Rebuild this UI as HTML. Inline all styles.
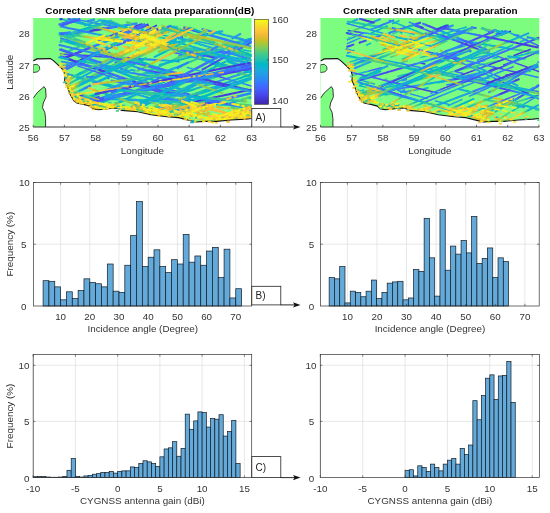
<!DOCTYPE html><html><head><meta charset="utf-8"><title>Figure</title><style>html,body{margin:0;padding:0;background:#fff}svg{display:block}text{font-family:"Liberation Sans",Arial,sans-serif}</style></head><body>
<svg width="550" height="513" viewBox="0 0 550 513">
<rect width="550" height="513" fill="#fff"/>
<defs><linearGradient id="par" x1="0" y1="1" x2="0" y2="0">
<stop offset="0.000" stop-color="#3d26a8"/>
<stop offset="0.048" stop-color="#4332ca"/>
<stop offset="0.095" stop-color="#4641e5"/>
<stop offset="0.143" stop-color="#4752f4"/>
<stop offset="0.190" stop-color="#4463fc"/>
<stop offset="0.238" stop-color="#3875fe"/>
<stop offset="0.286" stop-color="#2d86f6"/>
<stop offset="0.333" stop-color="#2796eb"/>
<stop offset="0.381" stop-color="#1fa4e2"/>
<stop offset="0.429" stop-color="#11b1d6"/>
<stop offset="0.476" stop-color="#01bac3"/>
<stop offset="0.524" stop-color="#23c1ae"/>
<stop offset="0.571" stop-color="#37c797"/>
<stop offset="0.619" stop-color="#56cc7a"/>
<stop offset="0.667" stop-color="#80cb58"/>
<stop offset="0.714" stop-color="#abc638"/>
<stop offset="0.762" stop-color="#d1bf27"/>
<stop offset="0.810" stop-color="#efb935"/>
<stop offset="0.857" stop-color="#fec338"/>
<stop offset="0.905" stop-color="#f9d52d"/>
<stop offset="0.952" stop-color="#f4e824"/>
<stop offset="1.000" stop-color="#f9fa14"/>
<stop offset="1" stop-color="#f9fa14"/>
</linearGradient></defs>
<g>
<rect x="33.2" y="18.0" width="218.4" height="109.0" fill="#7dfd80"/>
<clipPath id="clip1"><rect x="33.2" y="17.5" width="218.4" height="109.5"/></clipPath>
<g clip-path="url(#clip1)">
<g transform="translate(0.0,0)" fill="none" stroke-linecap="butt">
<path d="M242.0 69.2L244.9 70.0M244.6 69.9L247.5 70.6M247.1 70.5L250.0 71.2M249.6 71.1L252.5 71.8" stroke="#463bde" stroke-width="1.5"/>
<path d="M126.8 58.3L129.6 57.2M136.3 83.8L139.0 82.7M138.7 82.9L141.4 81.7M163.0 87.1L165.9 86.4M165.5 86.5L168.5 85.9M168.1 86.0L171.0 85.3" stroke="#474cf0" stroke-width="2.0"/>
<path d="M204.2 59.9L207.1 60.6M206.7 60.6L209.6 61.3M209.2 61.2L212.1 61.9M211.7 61.8L214.6 62.5M214.3 62.4L217.2 63.1M234.5 67.4L237.4 68.1M237.0 68.0L239.9 68.7M239.5 68.6L242.4 69.3" stroke="#474cf0" stroke-width="1.5"/>
<path d="M98.4 75.7L101.2 74.6M100.8 74.7L103.6 73.6" stroke="#474cf0" stroke-width="2.5"/>
<path d="M114.7 62.9L117.4 61.8M129.2 57.3L132.0 56.3M177.8 38.7L180.6 37.6M180.2 37.8L183.0 36.7M131.4 85.8L134.2 84.7M133.8 84.8L136.6 83.7M141.1 81.9L143.8 80.7M143.5 80.9L146.2 79.8M94.4 102.0L97.3 101.4M97.0 101.4L99.9 100.8M160.5 87.6L163.4 87.0" stroke="#465dfa" stroke-width="2.0"/>
<path d="M173.9 52.5L176.8 53.2M176.4 53.1L179.3 53.8M178.9 53.7L181.8 54.4M181.4 54.3L184.3 55.1M184.0 55.0L186.9 55.7M186.5 55.6L189.4 56.3M194.1 57.4L197.0 58.2M196.6 58.1L199.5 58.8M199.1 58.7L202.0 59.4M201.6 59.3L204.5 60.0M216.8 63.0L219.7 63.7M219.3 63.7L222.2 64.4M221.8 64.3L224.7 65.0M224.4 64.9L227.3 65.6M229.4 66.1L232.3 66.9M231.9 66.8L234.8 67.5" stroke="#465dfa" stroke-width="1.5"/>
<path d="M93.5 77.6L96.3 76.5M96.0 76.6L98.7 75.5" stroke="#465dfa" stroke-width="2.5"/>
<path d="M131.6 56.4L134.4 55.3M134.1 55.5L136.9 54.4M171.1 35.6L173.9 36.5M223.4 51.3L226.2 52.1M225.9 52.0L228.7 52.9M228.4 52.8L231.2 53.6M230.8 53.5L233.7 54.4M233.3 54.2L236.2 55.1M163.2 99.3L166.0 98.4M165.6 98.5L168.5 97.6M92.3 102.7L95.2 103.4M94.8 103.3L97.7 103.9M145.9 79.9L148.6 78.8M99.5 100.9L102.4 100.3M102.0 100.3L105.0 99.7M170.6 85.4L173.5 84.8" stroke="#3e6ffe" stroke-width="2.0"/>
<path d="M189.0 56.2L191.9 56.9M191.5 56.8L194.4 57.5M226.9 65.5L229.8 66.2" stroke="#3e6ffe" stroke-width="1.5"/>
<path d="M123.9 88.5L126.8 89.2M126.4 89.2L129.3 89.9M128.9 89.8L131.8 90.5M88.7 79.5L91.5 78.4M91.1 78.5L93.9 77.4M110.5 70.9L113.2 69.8M112.9 69.9L115.7 68.8" stroke="#3e6ffe" stroke-width="2.5"/>
<path d="M165.6 43.4L168.4 42.3M168.1 42.4L170.9 41.4M170.5 41.5L173.3 40.4M66.0 73.5L68.9 74.3M125.9 91.1L128.7 91.9M128.4 91.8L131.2 92.7M130.9 92.6L133.7 93.4M173.6 36.4L176.4 37.2M176.0 37.1L178.9 38.0M218.4 49.8L221.3 50.6M220.9 50.5L223.7 51.4M235.8 55.0L238.7 55.8M238.3 55.7L241.2 56.6M240.8 56.5L243.7 57.3M243.3 57.2L246.2 58.1M245.8 58.0L248.7 58.8M248.3 58.7L251.1 59.6M168.1 97.7L171.0 96.8M178.2 56.4L181.1 55.7M236.3 42.4L239.2 41.7M97.3 103.8L100.2 104.5M100.1 98.6L102.9 97.5M102.6 97.6L105.3 96.5M105.0 96.6L107.7 95.5M129.0 86.8L131.8 85.7M148.3 78.9L151.1 77.8M208.5 54.4L211.2 53.2M210.9 53.4L213.6 52.3M91.9 102.5L94.8 101.9M104.6 99.8L107.5 99.1M107.1 99.2L110.0 98.6M109.7 98.7L112.6 98.0M157.9 88.2L160.8 87.5M173.2 84.9L176.1 84.2" stroke="#2e81f9" stroke-width="2.0"/>
<path d="M121.4 87.9L124.3 88.6M131.5 90.4L134.4 91.1M134.0 91.0L136.9 91.7M136.5 91.6L139.4 92.3M139.0 92.2L142.0 92.9M86.3 80.5L89.1 79.4M115.3 69.0L118.1 67.9M117.7 68.0L120.5 66.9M120.1 67.0L122.9 65.9M122.5 66.1L125.3 65.0M125.0 65.1L127.7 64.0" stroke="#2e81f9" stroke-width="2.5"/>
<path d="M95.1 23.0L98.1 23.5M97.7 23.4L100.6 24.0M100.2 23.9L103.2 24.4M102.8 24.4L105.7 24.9M105.4 24.8L108.3 25.4M107.9 25.3L110.9 25.8" stroke="#2e81f9" stroke-width="1.5"/>
<path d="M158.4 46.2L161.1 45.1M160.8 45.2L163.6 44.2M163.2 44.3L166.0 43.2M78.5 77.2L81.3 78.0M81.0 77.9L83.8 78.7M83.5 78.6L86.3 79.5M86.0 79.4L88.8 80.2M88.5 80.1L91.3 80.9M90.9 80.8L93.8 81.7M93.4 81.6L96.3 82.4M95.9 82.3L98.8 83.1M98.4 83.0L101.3 83.9M123.4 90.4L126.2 91.2M133.4 93.3L136.2 94.1M158.3 100.6L161.2 101.5M160.8 101.4L163.7 102.2M163.3 102.1L166.2 103.0M178.5 37.9L181.4 38.7M213.4 48.3L216.3 49.1M215.9 49.0L218.8 49.9M170.6 96.9L173.4 96.0M173.1 96.1L175.9 95.2M202.7 86.4L205.6 85.5M205.2 85.6L208.0 84.7M207.7 84.8L210.5 83.9M210.1 84.0L213.0 83.1M212.6 83.2L215.5 82.3M215.1 82.4L217.9 81.5M217.6 81.6L220.4 80.7M220.0 80.8L222.9 79.9M222.5 80.0L225.3 79.1M225.0 79.2L227.8 78.3M227.5 78.4L230.3 77.5M229.9 77.6L232.8 76.7M232.4 76.8L235.2 75.9M234.9 76.0L237.7 75.1M237.3 75.2L240.2 74.3M239.8 74.4L242.7 73.5M242.3 73.6L245.1 72.6M244.8 72.8L247.6 71.8M247.2 72.0L250.1 71.0M172.1 102.4L175.0 101.5M174.6 101.7L177.5 100.8M180.7 55.8L183.6 55.1M233.8 43.0L236.7 42.3M238.8 41.8L241.8 41.1M89.7 102.1L92.6 102.8M99.9 104.4L102.8 105.0M107.4 95.6L110.1 94.5M126.6 87.8L129.4 86.6M150.7 77.9L153.5 76.8M153.1 77.0L155.9 75.8M155.5 76.0L158.3 74.9M157.9 75.0L160.7 73.9M160.3 74.0L163.1 72.9M206.1 55.3L208.8 54.2M213.3 52.4L216.0 51.3M112.2 98.1L115.1 97.5M114.7 97.6L117.7 96.9M117.3 97.0L120.2 96.4M155.4 88.7L158.3 88.1" stroke="#2b91ee" stroke-width="2.0"/>
<path d="M232.2 59.6L235.2 60.3M234.8 60.2L237.7 60.8M237.3 60.7L240.2 61.4M239.9 61.3L242.8 61.9M98.6 82.5L101.5 83.2M101.1 83.1L104.0 83.8M118.8 87.3L121.7 88.0M87.0 21.6L89.9 20.8M89.5 20.9L92.4 20.1M92.0 20.2L94.9 19.4M81.5 82.4L84.2 81.3M83.9 81.4L86.7 80.3M127.4 64.2L130.2 63.1M129.8 63.2L132.6 62.1" stroke="#2b91ee" stroke-width="2.5"/>
<path d="M84.3 25.7L87.1 24.7M86.7 24.9L89.6 23.9M72.1 18.8L75.1 19.3M74.7 19.2L77.6 19.8M77.2 19.7L80.2 20.2M79.8 20.2L82.7 20.7M82.3 20.6L85.3 21.2M84.9 21.1L87.8 21.6M87.5 21.6L90.4 22.1M90.0 22.0L93.0 22.6M92.6 22.5L95.5 23.0M110.5 25.8L113.4 26.3M113.0 26.2L116.0 26.8M210.2 43.9L213.2 44.5" stroke="#2b91ee" stroke-width="1.5"/>
<path d="M217.0 56.4L219.9 57.0M219.5 56.9L222.4 57.5M222.1 57.5L225.0 58.1M224.6 58.0L227.5 58.6M227.1 58.6L230.1 59.2M229.7 59.1L232.6 59.7M242.4 61.8L245.3 62.4M96.1 81.9L99.0 82.6M103.7 83.7L106.6 84.4M141.6 92.8L144.5 93.5M93.6 77.7L96.3 76.3M95.9 76.5L98.6 75.1M98.2 75.3L100.9 73.9M176.5 34.2L179.1 32.8M178.8 33.0L181.4 31.6M79.0 83.3L81.8 82.2M132.2 62.3L135.0 61.2" stroke="#1fa4e2" stroke-width="2.5"/>
<path d="M68.5 74.2L71.4 75.1M76.0 76.4L78.9 77.3M135.8 94.0L138.7 94.9M138.3 94.8L141.2 95.6M140.8 95.5L143.7 96.3M143.3 96.2L146.2 97.1M145.8 97.0L148.7 97.8M148.3 97.7L151.2 98.6M150.8 98.4L153.7 99.3M153.3 99.2L156.2 100.0M155.8 99.9L158.7 100.8M165.8 102.8L168.6 103.7M181.0 38.6L183.9 39.5M203.4 45.3L206.3 46.2M205.9 46.1L208.8 46.9M208.4 46.8L211.3 47.7M210.9 47.5L213.8 48.4M175.5 95.3L178.4 94.4M197.8 88.0L200.6 87.1M200.3 87.2L203.1 86.3M173.4 27.7L176.2 28.8M175.8 28.6L178.6 29.7M178.2 29.6L181.0 30.7M180.6 30.5L183.4 31.6M183.1 31.5L185.8 32.6M185.5 32.4L188.3 33.5M187.9 33.4L190.7 34.5M190.3 34.3L193.1 35.4M192.7 35.3L195.5 36.4M195.2 36.2L197.9 37.3M197.6 37.2L200.4 38.3M169.7 103.2L172.5 102.3M177.1 100.9L180.0 100.0M214.3 89.1L217.1 88.2M216.8 88.3L219.6 87.4M219.2 87.5L222.1 86.6M221.7 86.8L224.6 85.9M224.2 86.0L227.0 85.1M226.7 85.2L229.5 84.3M229.2 84.4L232.0 83.5M231.6 83.6L234.5 82.7M234.1 82.8L237.0 81.9M183.2 55.2L186.2 54.5M231.3 43.6L234.2 42.9M241.4 41.1L244.3 40.4M77.0 99.3L79.9 100.0M79.6 99.9L82.5 100.5M82.1 100.4L85.0 101.1M87.2 101.6L90.1 102.2M102.4 105.0L105.3 105.6M109.8 94.7L112.5 93.5M124.2 88.8L127.0 87.6M162.7 73.0L165.5 71.9M165.1 72.1L167.9 70.9M167.5 71.1L170.3 69.9M170.0 70.1L172.7 69.0M172.4 69.1L175.1 68.0M174.8 68.1L177.5 67.0M177.2 67.1L179.9 66.0M203.7 56.3L206.4 55.2M215.7 51.4L218.5 50.3M218.1 50.4L220.9 49.3M119.8 96.5L122.7 95.8M122.4 95.9L125.3 95.3M124.9 95.4L127.8 94.7M127.4 94.8L130.4 94.2M130.0 94.3L132.9 93.6M132.5 93.7L135.4 93.1M135.1 93.2L138.0 92.5M137.6 92.6L140.5 92.0M140.1 92.0L143.1 91.4M142.7 91.5L145.6 90.9M145.2 90.9L148.1 90.3M147.8 90.4L150.7 89.8M150.3 89.8L153.2 89.2M152.8 89.3L155.8 88.6M175.7 84.3L178.6 83.7M178.2 83.8L181.2 83.1M180.8 83.2L183.7 82.6M183.3 82.6L186.3 82.0M185.9 82.1L188.8 81.5M188.4 81.5L191.3 80.9M191.0 81.0L193.9 80.4" stroke="#1fa4e2" stroke-width="2.0"/>
<path d="M89.2 24.1L92.0 23.1M91.7 23.2L94.5 22.3M94.1 22.4L97.0 21.5M245.3 66.8L248.2 65.8M247.8 65.9L250.6 64.9M98.5 19.8L101.3 20.9M101.0 20.8L103.7 21.9M103.4 21.7L106.2 22.8M105.8 22.7L108.6 23.8M108.2 23.7L111.0 24.8M115.6 26.7L118.5 27.2M189.8 40.2L192.7 40.7M192.3 40.7L195.3 41.2M194.9 41.1L197.8 41.7M197.4 41.6L200.4 42.1M200.0 42.1L202.9 42.6M202.6 42.5L205.5 43.1M205.1 43.0L208.1 43.5M207.7 43.5L210.6 44.0M212.8 44.4L215.7 44.9M215.4 44.9L218.3 45.4M217.9 45.3L220.9 45.9" stroke="#1fa4e2" stroke-width="1.5"/>
<path d="M206.8 54.2L209.7 54.8M209.3 54.7L212.3 55.4M211.9 55.3L214.8 55.9M214.4 55.8L217.4 56.5M244.9 62.4L247.9 63.0M247.5 62.9L250.4 63.5M250.0 63.4L253.0 64.1M73.3 76.4L76.2 77.1M75.8 77.0L78.8 77.7M93.5 81.3L96.5 82.0M106.2 84.3L109.1 85.0M116.3 86.7L119.2 87.4M144.1 93.4L147.0 94.1M89.0 80.1L91.6 78.7M91.3 78.9L93.9 77.5M100.5 74.1L103.2 72.7M102.8 72.9L105.5 71.5M174.2 35.4L176.8 34.0M181.1 31.8L183.7 30.4" stroke="#11b1d6" stroke-width="2.5"/>
<path d="M71.0 75.0L73.9 75.8M73.5 75.7L76.4 76.5M100.9 83.8L103.8 84.6M120.9 89.6L123.7 90.5M183.5 39.3L186.4 40.2M198.5 43.8L201.3 44.7M201.0 44.6L203.8 45.4M178.0 94.5L180.8 93.5M195.3 88.8L198.2 87.9M168.5 25.8L171.3 26.9M171.0 26.7L173.7 27.8M200.0 38.1L202.8 39.2M167.2 104.0L170.0 103.1M179.6 100.1L182.4 99.2M209.3 90.7L212.2 89.8M211.8 89.9L214.7 89.0M236.6 82.0L239.4 81.1M239.1 81.3L241.9 80.4M241.5 80.5L244.4 79.6M243.9 40.5L246.8 39.8M246.4 39.9L249.3 39.2M74.5 98.8L77.4 99.4M84.6 101.0L87.6 101.7M104.9 105.5L107.9 106.2M112.2 93.7L114.9 92.5M114.6 92.7L117.4 91.6M121.8 89.7L124.6 88.6M179.6 66.2L182.3 65.0M201.2 57.3L204.0 56.2" stroke="#11b1d6" stroke-width="2.0"/>
<path d="M96.6 21.6L99.5 20.7M99.1 20.8L101.9 19.9M240.4 68.5L243.2 67.5M242.9 67.7L245.7 66.7M110.6 24.6L113.4 25.7M118.2 27.2L121.1 27.7M171.9 37.0L174.8 37.5M174.4 37.4L177.4 38.0M177.0 37.9L179.9 38.4M179.5 38.3L182.5 38.9M182.1 38.8L185.0 39.4M184.7 39.3L187.6 39.8M187.2 39.7L190.2 40.3M220.5 45.8L223.4 46.3M246.0 50.5L249.0 51.0M248.6 50.9L251.5 51.5" stroke="#11b1d6" stroke-width="1.5"/>
<path d="M168.7 46.0L171.6 46.7M171.2 46.6L174.1 47.2M173.8 47.1L176.7 47.7M191.6 50.9L194.5 51.6M194.1 51.5L197.0 52.1M196.6 52.0L199.6 52.6M199.2 52.6L202.1 53.2M201.7 53.1L204.6 53.7M204.3 53.7L207.2 54.3M79.7 74.0L82.4 72.7M82.1 72.9L84.8 71.6M68.3 75.2L71.2 75.9M70.8 75.8L73.7 76.5M78.4 77.6L81.3 78.3M108.7 84.9L111.6 85.6M113.8 86.1L116.7 86.8M184.6 103.1L187.5 103.8M113.3 65.5L115.9 64.1M115.6 64.3L118.3 62.9M117.9 63.1L120.6 61.7M84.4 82.5L87.0 81.1M86.7 81.3L89.3 79.9M105.1 71.7L107.8 70.3M107.4 70.4L110.1 69.1M109.7 69.2L112.4 67.9M112.0 68.0L114.7 66.6M114.3 66.8L117.0 65.4M116.6 65.6L119.3 64.2M118.9 64.4L121.6 63.0M121.2 63.2L123.9 61.8M123.5 62.0L126.2 60.6M171.9 36.6L174.5 35.2M183.4 30.6L186.0 29.2M76.6 84.3L79.4 83.2M215.4 63.6L218.1 64.6M217.8 64.5L220.6 65.6M220.2 65.4L223.0 66.5" stroke="#01bac3" stroke-width="2.5"/>
<path d="M103.4 84.5L106.3 85.3M105.9 85.2L108.8 86.1M108.4 86.0L111.3 86.8M110.9 86.7L113.8 87.5M113.4 87.4L116.3 88.3M115.9 88.2L118.8 89.0M118.4 88.9L121.3 89.7M168.3 103.6L171.1 104.4M186.0 40.1L188.9 41.0M188.5 40.8L191.4 41.7M191.0 41.6L193.9 42.4M193.5 42.3L196.3 43.2M196.0 43.1L198.8 43.9M180.5 93.7L183.3 92.7M182.9 92.9L185.8 91.9M187.9 91.3L190.7 90.3M190.4 90.5L193.2 89.5M192.8 89.7L195.7 88.7M202.4 39.1L205.2 40.2M233.9 51.4L236.7 52.5M236.3 52.4L239.1 53.5M164.7 104.8L167.6 103.9M182.1 99.3L184.9 98.4M199.4 93.8L202.3 92.9M201.9 93.0L204.7 92.1M204.4 92.2L207.2 91.3M206.8 91.5L209.7 90.6M244.0 79.7L246.9 78.8M246.5 78.9L249.4 78.0M249.0 78.1L251.8 77.2M185.8 54.6L188.7 53.9M228.7 44.2L231.6 43.5M249.0 39.3L251.9 38.6M107.5 106.1L110.4 106.7M110.0 106.6L112.9 107.3M117.0 91.7L119.8 90.6M119.4 90.7L122.2 89.6M182.0 65.2L184.8 64.0M184.4 64.2L187.2 63.1M198.8 58.3L201.6 57.2" stroke="#01bac3" stroke-width="2.0"/>
<path d="M235.5 70.2L238.3 69.3M238.0 69.4L240.8 68.4M120.7 27.6L123.7 28.2M161.6 35.1L164.6 35.6M164.2 35.6L167.1 36.1M166.8 36.0L169.7 36.6M169.3 36.5L172.3 37.0M223.0 46.3L226.0 46.8M225.6 46.7L228.5 47.3M243.5 50.0L246.4 50.5" stroke="#01bac3" stroke-width="1.5"/>
<path d="M163.6 44.9L166.5 45.6M166.1 45.5L169.1 46.1M176.3 47.7L179.2 48.3M178.8 48.2L181.8 48.8M183.9 49.3L186.8 49.9M186.5 49.8L189.4 50.5M189.0 50.4L191.9 51.0M77.4 75.2L80.1 73.9M84.4 71.8L87.1 70.4M86.7 70.6L89.4 69.3M65.7 74.6L68.6 75.3M80.9 78.2L83.8 78.9M91.0 80.7L93.9 81.3M111.2 85.5L114.1 86.2M146.6 94.0L149.5 94.7M154.2 95.8L157.1 96.5M156.7 96.4L159.7 97.1M159.3 97.0L162.2 97.7M161.8 97.7L164.7 98.4M164.3 98.3L167.2 99.0M166.9 98.9L169.8 99.6M179.5 101.9L182.4 102.6M182.0 102.5L184.9 103.2M187.1 103.7L190.0 104.4M111.0 66.6L113.6 65.3M79.8 85.0L82.4 83.6M82.1 83.7L84.7 82.4M125.8 60.8L128.5 59.4M185.7 29.4L188.3 28.0M210.5 61.7L213.3 62.8M212.9 62.6L215.7 63.7M222.6 66.4L225.4 67.4M225.1 67.3L227.8 68.4M227.5 68.2L230.3 69.3M229.9 69.2L232.7 70.3M232.3 70.1L235.1 71.2" stroke="#23c1ae" stroke-width="2.5"/>
<path d="M218.2 33.1L221.1 33.8M238.4 37.9L241.3 38.6M241.0 38.5L243.9 39.2M149.7 100.5L152.5 99.5M152.2 99.7L155.0 98.7M154.6 98.8L157.4 97.8M157.1 97.9L159.9 96.9M159.5 97.1L162.3 96.1M162.0 96.2L164.8 95.2M164.4 95.3L167.2 94.4M166.9 94.5L169.7 93.5M203.7 81.5L206.5 80.5M206.1 80.6L208.9 79.6M208.6 79.8L211.4 78.8M211.0 78.9L213.8 77.9M213.5 78.0L216.3 77.0M215.9 77.2L218.7 76.2M218.4 76.3L221.2 75.3M220.8 75.4L223.6 74.4M223.3 74.6L226.1 73.6M225.7 73.7L228.5 72.7M228.2 72.8L231.0 71.8M230.6 72.0L233.4 71.0M233.1 71.1L235.9 70.1M113.0 25.6L115.8 26.7M123.3 28.1L126.2 28.6M125.8 28.6L128.8 29.1M154.0 33.7L156.9 34.2M156.5 34.2L159.5 34.7M159.1 34.6L162.0 35.2M228.1 47.2L231.1 47.7M230.7 47.7L233.6 48.2M233.3 48.1L236.2 48.7M235.8 48.6L238.8 49.1M238.4 49.1L241.3 49.6M240.9 49.5L243.9 50.1" stroke="#23c1ae" stroke-width="1.5"/>
<path d="M185.4 92.1L188.3 91.1M226.6 48.6L229.4 49.7M229.0 49.5L231.8 50.6M231.5 50.5L234.2 51.6M105.1 91.1L107.8 89.9M107.5 90.0L110.2 88.8M109.8 89.0L112.6 87.7M112.2 87.9L114.9 86.6M150.0 70.6L152.8 69.4M152.4 69.5L155.1 68.3M154.8 68.5L157.5 67.2M157.1 67.4L159.9 66.1M159.5 66.3L162.2 65.0M161.9 65.2L164.6 64.0M164.2 64.1L167.0 62.9M166.6 63.1L169.3 61.8M169.0 62.0L171.7 60.7M171.3 60.9L174.0 59.7M162.2 105.6L165.1 104.7M184.5 98.5L187.4 97.6M187.0 97.7L189.9 96.8M189.5 97.0L192.3 96.1M192.0 96.2L194.8 95.3M194.5 95.4L197.3 94.5M196.9 94.6L199.8 93.7M88.2 78.4L90.8 77.0M90.5 77.2L93.2 75.8M92.8 76.0L95.5 74.7M95.1 74.8L97.8 73.5M97.4 73.6L100.1 72.3M99.7 72.5L102.4 71.1M203.5 50.3L206.4 49.6M206.0 49.7L208.9 49.0M208.5 49.1L211.4 48.4M247.7 54.5L250.5 55.5M250.1 55.4L253.0 56.3M69.3 51.0L72.1 49.7M71.7 49.9L74.4 48.7M74.1 48.8L76.8 47.6M71.9 98.2L74.9 98.8M186.8 63.2L189.6 62.1M189.2 62.2L192.0 61.1M196.4 59.3L199.2 58.1M89.3 103.1L92.3 102.5" stroke="#23c1ae" stroke-width="2.0"/>
<path d="M161.0 44.4L164.0 45.0M181.4 48.8L184.3 49.4M75.1 76.3L77.8 75.0M89.1 69.5L91.8 68.2M91.4 68.3L94.1 67.0M83.4 78.8L86.3 79.5M149.2 94.6L152.1 95.3M151.7 95.2L154.6 95.9M169.4 99.5L172.3 100.2M171.9 100.1L174.8 100.8M174.4 100.7L177.3 101.4M177.0 101.3L179.9 102.0M189.6 104.3L192.5 105.0M80.8 82.0L83.5 80.6M83.2 80.8L85.8 79.4M106.3 69.0L109.0 67.6M108.6 67.8L111.3 66.5M120.2 61.9L122.9 60.6M77.5 86.2L80.1 84.8M128.1 59.6L130.8 58.2M69.4 87.2L72.1 86.1M71.8 86.2L74.6 85.1M74.2 85.2L77.0 84.1M103.8 20.5L106.6 21.6M106.2 21.4L109.0 22.5M108.6 22.4L111.4 23.4M111.1 23.3L113.8 24.4M113.5 24.2L116.3 25.3M115.9 25.2L118.7 26.2M118.3 26.1L121.1 27.2M120.8 27.0L123.5 28.1M176.5 48.6L179.3 49.7M179.0 49.5L181.8 50.6M205.7 59.8L208.4 60.9M208.1 60.8L210.9 61.8M234.8 71.0L237.5 72.1M237.2 72.0L240.0 73.1M239.6 72.9L242.4 74.0M246.9 75.7L249.7 76.8M249.3 76.7L252.1 77.7" stroke="#37c797" stroke-width="2.5"/>
<path d="M170.8 104.3L173.6 105.2M204.8 40.0L207.6 41.1M221.8 46.7L224.6 47.8M224.2 47.6L227.0 48.7M88.5 98.7L91.3 97.4M90.9 97.6L93.6 96.4M93.3 96.5L96.0 95.3M95.6 95.4L98.4 94.2M98.0 94.4L100.7 93.1M100.4 93.3L103.1 92.0M102.7 92.2L105.5 91.0M114.6 86.8L117.3 85.6M116.9 85.7L119.7 84.5M119.3 84.6L122.0 83.4M140.6 74.9L143.3 73.7M142.9 73.9L145.7 72.6M145.3 72.8L148.0 71.5M147.7 71.7L150.4 70.4M173.7 59.8L176.4 58.6M176.1 58.7L178.8 57.5M178.4 57.7L181.1 56.4M180.8 56.6L183.5 55.3M183.2 55.5L185.9 54.3M185.5 54.4L188.2 53.2M187.9 53.3L190.6 52.1M190.3 52.3L193.0 51.0M159.7 106.4L162.6 105.5M85.9 79.6L88.5 78.2M106.7 68.9L109.3 67.5M109.0 67.7L111.6 66.3M188.3 54.0L191.2 53.3M200.9 50.9L203.8 50.2M211.0 48.5L214.0 47.8M213.6 47.9L216.5 47.2M226.2 44.8L229.1 44.1M245.2 53.7L248.1 54.7M67.0 52.0L69.7 50.8M76.5 47.8L79.2 46.5M112.6 107.2L115.5 107.9M120.2 108.9L123.1 109.5M191.6 61.2L194.4 60.1M194.0 60.3L196.8 59.1" stroke="#37c797" stroke-width="2.0"/>
<path d="M213.2 31.9L216.1 32.6M215.7 32.5L218.6 33.2M233.4 36.7L236.3 37.4M235.9 37.3L238.8 38.0M142.4 103.1L145.2 102.1M144.8 102.3L147.6 101.3M147.3 101.4L150.1 100.4M169.3 93.6L172.1 92.6M171.8 92.8L174.6 91.8M191.4 85.8L194.2 84.8M193.8 85.0L196.7 84.0M196.3 84.1L199.1 83.1M198.8 83.2L201.6 82.2M201.2 82.4L204.0 81.4M128.4 29.0L131.3 29.6M146.3 32.3L149.2 32.8M148.8 32.8L151.8 33.3M151.4 33.2L154.3 33.8" stroke="#37c797" stroke-width="1.5"/>
<path d="M112.7 34.1L115.7 34.7M115.3 34.6L118.2 35.2M138.2 39.5L141.1 40.1M140.7 40.0L143.6 40.7M143.2 40.6L146.2 41.2M145.8 41.1L148.7 41.8M158.5 43.9L161.4 44.5M72.7 77.5L75.4 76.1M93.8 67.2L96.4 65.9M96.1 66.0L98.8 64.7M98.4 64.9L101.1 63.6M100.8 63.8L103.4 62.4M103.1 62.6L105.8 61.3M105.4 61.5L108.1 60.2M107.8 60.3L110.5 59.0M110.1 59.2L112.8 57.9M112.4 58.1L115.1 56.7M86.0 79.4L88.9 80.1M88.5 80.0L91.4 80.7M192.1 104.9L195.0 105.6M78.5 83.2L81.2 81.8M85.5 79.6L88.1 78.3M87.8 78.4L90.5 77.1M90.1 77.3L92.8 75.9M92.4 76.1L95.1 74.7M94.7 74.9L97.4 73.5M97.1 73.7L99.7 72.4M99.4 72.5L102.0 71.2M101.7 71.4L104.4 70.0M104.0 70.2L106.7 68.8M169.6 37.8L172.2 36.4M123.2 28.0L126.0 29.1M174.1 47.6L176.9 48.7M181.4 50.5L184.2 51.5M200.8 57.9L203.6 59.0M203.2 58.9L206.0 60.0M242.0 73.9L244.8 74.9M244.5 74.8L247.3 75.9" stroke="#56cc7a" stroke-width="2.5"/>
<path d="M63.5 72.8L66.4 73.6M173.3 105.0L176.1 105.9M207.3 41.0L210.0 42.1M216.9 44.8L219.7 45.9M219.4 45.7L222.1 46.8M121.7 83.6L124.4 82.3M124.0 82.5L126.7 81.2M126.4 81.4L129.1 80.2M128.8 80.3L131.5 79.1M133.5 78.2L136.2 76.9M135.9 77.1L138.6 75.8M138.2 76.0L140.9 74.8M192.6 51.2L195.3 49.9M152.3 108.7L155.2 107.8M154.8 107.9L157.6 107.0M157.3 107.2L160.1 106.3M111.3 66.5L114.0 65.1M113.6 65.3L116.3 63.9M115.9 64.1L118.6 62.7M118.2 62.9L120.9 61.6M190.8 53.4L193.7 52.7M195.9 52.1L198.8 51.4M198.4 51.5L201.3 50.8M216.1 47.3L219.0 46.6M223.7 45.4L226.6 44.7M200.9 38.7L203.7 39.7M203.3 39.6L206.2 40.5M205.8 40.4L208.6 41.3M208.3 41.2L211.1 42.2M210.7 42.1L213.6 43.0M240.3 52.0L243.1 53.0M242.8 52.9L245.6 53.8M64.6 53.1L67.3 51.9M78.8 46.7L81.6 45.5M115.1 107.8L118.0 108.4M117.6 108.3L120.6 109.0M122.7 109.5L125.6 110.1" stroke="#56cc7a" stroke-width="2.0"/>
<path d="M210.6 31.2L213.5 31.9M228.3 35.5L231.2 36.2M230.9 36.1L233.8 36.8M137.5 104.9L140.3 103.9M139.9 104.0L142.7 103.0M174.2 91.9L177.1 90.9M176.7 91.0L179.5 90.0M179.1 90.2L182.0 89.2M181.6 89.3L184.4 88.3M184.0 88.4L186.9 87.4M186.5 87.6L189.3 86.6M188.9 86.7L191.8 85.7M115.5 26.5L118.2 27.7M130.9 29.5L133.9 30.0M133.5 30.0L136.4 30.5M136.1 30.4L139.0 31.0M138.6 30.9L141.6 31.4M141.2 31.4L144.1 31.9M143.7 31.8L146.7 32.4" stroke="#56cc7a" stroke-width="1.5"/>
<path d="M156.0 43.3L158.9 43.9M194.7 105.5L197.6 106.2M122.5 60.7L125.2 59.4M75.2 87.4L77.8 86.0M130.4 58.4L133.1 57.0" stroke="#8fca4d" stroke-width="2.5"/>
<path d="M175.8 105.8L178.6 106.6M209.7 41.9L212.5 43.0M212.1 42.9L214.9 44.0M131.1 79.2L133.8 78.0M218.6 46.6L221.5 45.9M166.4 27.1L169.2 28.0M196.0 37.1L198.8 38.0M213.2 42.9L216.0 43.8M237.8 51.2L240.7 52.2M125.3 110.0L128.2 110.7M127.8 110.6L130.7 111.2M130.3 111.2L133.2 111.8M135.4 112.3L138.3 112.9M137.9 112.8L140.9 113.5M143.0 114.0L145.9 114.6M145.6 114.5L148.5 115.2M150.6 115.7L153.6 116.3M153.2 116.2L156.1 116.9M86.8 103.7L89.7 103.0" stroke="#8fca4d" stroke-width="2.0"/>
<path d="M208.1 30.6L211.0 31.3" stroke="#8fca4d" stroke-width="1.5"/>
<path d="M178.3 106.5L181.1 107.4M203.2 113.8L206.1 114.7M125.2 59.3L127.8 58.0M191.0 35.4L193.9 36.3M215.7 43.7L218.5 44.7M81.2 45.6L83.9 44.4M93.1 109.0L96.0 109.7M95.7 109.6L98.6 110.3M98.2 110.2L101.1 110.9" stroke="#b8c430" stroke-width="2.0"/>
<path d="M205.6 30.0L208.5 30.7M135.0 105.7L137.8 104.7" stroke="#b8c430" stroke-width="1.5"/>
<path d="M117.1 55.8L119.8 54.5M202.3 107.4L205.2 108.1M72.9 88.6L75.5 87.2M183.8 51.4L186.6 52.5M195.9 56.1L198.7 57.1" stroke="#b8c430" stroke-width="2.5"/>
<path d="M122.9 36.2L125.8 36.9M161.5 34.1L164.2 32.8M169.3 45.8L172.1 46.8" stroke="#dcbc28" stroke-width="2.5"/>
<path d="M180.7 107.2L183.6 108.1M185.7 108.7L188.6 109.6M190.7 110.2L193.6 111.0M198.2 112.4L201.1 113.2M200.7 113.1L203.6 114.0M205.7 114.6L208.6 115.4M127.5 58.2L130.1 56.8M180.6 30.8L183.3 29.4M182.9 29.6L185.6 28.2M178.7 31.2L181.5 32.2M183.6 32.9L186.5 33.9M186.1 33.7L188.9 34.7M220.6 45.4L223.4 46.3M232.9 49.5L235.7 50.5" stroke="#dcbc28" stroke-width="2.0"/>
<path d="M125.4 36.8L128.4 37.4M159.2 35.2L161.8 33.9M209.8 109.2L212.7 109.9M128.0 29.9L130.8 30.9M166.8 44.8L169.6 45.9M188.7 53.3L191.5 54.3" stroke="#f8ba3d" stroke-width="2.5"/>
<path d="M94.2 102.7L97.2 103.1M248.1 112.1L250.9 111.0M83.8 100.8L86.5 99.6M129.8 57.0L132.4 55.6M169.1 36.7L171.7 35.3M173.7 34.3L176.3 33.0M225.5 47.0L228.3 48.0M83.6 44.6L86.3 43.3M84.2 104.2L87.2 103.6" stroke="#f8ba3d" stroke-width="2.0"/>
<path d="M120.3 28.5L123.1 29.6" stroke="#f8ba3d" stroke-width="1.5"/>
<path d="M210.7 116.1L213.5 116.9M99.4 103.4L102.3 103.8M132.1 55.8L134.8 54.4M164.4 39.1L167.1 37.7M166.8 37.9L169.4 36.5M79.2 105.3L82.1 104.7M81.7 104.8L84.6 104.1" stroke="#fdc933" stroke-width="2.0"/>
<path d="M121.8 53.5L124.5 52.2M217.4 111.0L220.3 111.7M73.9 85.5L76.5 84.2M127.2 58.4L129.8 57.0M135.0 55.9L137.7 54.6M146.6 49.9L149.2 48.5M151.2 47.5L153.8 46.1" stroke="#fdc933" stroke-width="2.5"/>
<path d="M130.1 107.5L132.9 106.5" stroke="#fdc933" stroke-width="1.5"/>
<path d="M81.5 101.9L84.2 100.7M159.8 41.5L162.5 40.1M162.1 40.3L164.8 38.9" stroke="#f6dc29" stroke-width="2.0"/>
<path d="M154.5 37.5L157.2 36.2M219.9 111.6L222.9 112.3M237.6 115.9L240.6 116.6M129.5 57.2L132.2 55.9M137.3 54.7L140.0 53.3M130.5 30.8L133.2 31.9" stroke="#f6dc29" stroke-width="2.5"/>
<path d="M125.1 30.4L127.9 31.5" stroke="#f6dc29" stroke-width="1.5"/>
<path d="M220.7 119.0L223.5 119.8M223.1 119.7L226.0 120.6M225.6 120.5L228.5 121.3M71.0 99.6L74.0 100.0M73.6 99.9L76.6 100.3M81.3 101.0L84.3 101.4M83.9 101.3L86.9 101.7M86.5 101.7L89.4 102.1M107.1 104.5L110.1 104.9M112.2 105.2L115.2 105.6M114.8 105.5L117.8 105.9M117.4 105.9L120.4 106.3M125.1 106.9L128.1 107.3M127.7 107.3L130.7 107.7M130.3 107.6L133.2 108.0M135.4 108.3L138.4 108.7M138.0 108.7L141.0 109.1M140.6 109.0L143.5 109.4M143.2 109.4L146.1 109.8M148.3 110.1L151.3 110.5M150.9 110.4L153.9 110.8M153.5 110.8L156.4 111.2M156.0 111.1L159.0 111.5M166.3 112.5L169.3 112.9M168.9 112.9L171.9 113.3M171.5 113.2L174.5 113.6M176.7 113.9L179.6 114.3M179.2 114.3L182.2 114.7M181.8 114.6L184.8 115.0M189.5 115.7L192.5 116.1M192.1 116.0L195.1 116.5M194.7 116.4L197.6 116.8M199.8 117.1L202.8 117.5M202.4 117.5L205.4 117.9M205.0 117.8L208.0 118.2M210.1 118.5L213.1 118.9M212.7 118.9L215.7 119.3M215.3 119.2L218.3 119.6M217.9 119.6L220.8 120.0M223.0 120.3L226.0 120.7M224.1 122.2L226.9 121.1M231.3 119.2L234.1 118.0M236.1 117.2L238.9 116.0M238.5 116.2L241.3 115.0M240.9 115.2L243.7 114.0M243.3 114.2L246.1 113.0M76.7 104.1L79.4 102.8M79.1 103.0L81.8 101.8M134.4 54.6L137.1 53.2M139.0 52.2L141.7 50.8M148.3 47.4L150.9 46.1M155.2 43.9L157.9 42.5M157.5 42.7L160.2 41.3M88.3 42.4L91.0 41.2M90.7 41.4L93.4 40.2M93.1 40.3L95.8 39.1M97.8 38.2L100.5 37.0M76.1 104.3L79.0 104.8M83.8 105.6L86.7 106.1M86.3 106.1L89.3 106.6M88.9 106.5L91.8 107.0M96.6 107.8L99.5 108.3M101.7 108.7L104.7 109.2M104.3 109.1L107.2 109.7M106.8 109.6L109.8 110.1" stroke="#f5ef20" stroke-width="2.0"/>
<path d="M128.8 50.1L131.5 48.7M131.1 48.9L133.8 47.6M133.5 47.8L136.1 46.5M147.5 40.9L150.2 39.6M152.2 38.6L154.8 37.3M63.2 74.0L66.1 74.7M222.5 112.2L225.4 112.9M225.0 112.8L227.9 113.5M227.5 113.4L230.4 114.1M232.6 114.7L235.5 115.4M245.2 117.7L248.1 118.4M66.9 89.0L69.6 87.7M69.3 87.9L71.9 86.5M68.3 91.0L70.9 89.6M66.9 88.1L69.7 87.0M135.3 32.7L138.1 33.7M137.7 33.6L140.5 34.7M147.4 37.3L150.2 38.4M149.9 38.3L152.7 39.4M159.6 42.0L162.4 43.1" stroke="#f5ef20" stroke-width="2.5"/>
<path d="M120.3 110.9L123.1 109.9M122.7 110.1L125.6 109.1M125.2 109.2L128.0 108.2M127.5 31.4L130.3 32.5M129.9 32.3L132.7 33.4M132.4 33.3L135.1 34.4M134.8 34.2L137.6 35.3M137.2 35.2L140.0 36.3" stroke="#f5ef20" stroke-width="1.5"/>
<path d="M88.4 31.1L91.3 30.6M90.9 30.7L93.9 30.2M93.5 30.3L96.5 29.8M96.1 29.9L99.0 29.4M98.7 29.5L101.6 29.0M101.2 29.1L104.2 28.6" stroke="#463bde" stroke-width="2.5"/>
<path d="M70.3 54.6L73.2 54.7M72.8 54.7L75.8 54.9" stroke="#463bde" stroke-width="2.0"/>
<path d="M83.2 31.9L86.2 31.4M85.8 31.5L88.8 31.0M103.8 28.7L106.7 28.2" stroke="#474cf0" stroke-width="2.5"/>
<path d="M196.6 96.3L199.5 97.0M199.1 96.9L202.0 97.6M201.6 97.6L204.5 98.3M58.6 24.8L61.4 23.9M61.0 24.0L63.9 23.0M63.5 23.2L66.3 22.2M66.0 22.4L68.8 21.4M67.7 54.4L70.6 54.6M75.4 54.9L78.4 55.1M78.0 55.1L81.0 55.2M80.6 55.2L83.6 55.4M83.2 55.4L86.2 55.6M85.8 55.5L88.8 55.7M88.4 55.7L91.4 55.9M91.0 55.9L94.0 56.1M93.6 56.0L96.6 56.2M96.2 56.2L99.2 56.4M98.8 56.4L101.8 56.5M101.4 56.5L104.4 56.7M104.0 56.7L107.0 56.9M106.6 56.8L109.6 57.0M109.2 57.0L112.2 57.2M111.8 57.2L114.8 57.4M114.4 57.3L117.3 57.5M117.0 57.5L119.9 57.7M119.6 57.7L122.5 57.8M122.1 57.8L125.1 58.0M124.7 58.0L127.7 58.2M127.3 58.1L130.3 58.3M129.9 58.3L132.9 58.5M132.5 58.5L135.5 58.7" stroke="#474cf0" stroke-width="2.0"/>
<path d="M93.6 77.3L96.6 77.5M106.6 78.1L109.5 78.3M153.7 85.7L156.6 86.4M156.2 86.3L159.1 87.0M158.7 86.9L161.6 87.7M161.2 87.6L164.1 88.3M163.7 88.2L166.6 88.9M166.3 88.8L169.2 89.5M186.5 93.8L189.4 94.5M189.0 94.4L191.9 95.1M191.5 95.1L194.4 95.8M194.0 95.7L196.9 96.4M204.1 98.2L207.0 98.9M206.7 98.8L209.6 99.5M209.2 99.4L212.1 100.1M67.5 18.6L70.4 19.4M68.4 21.6L71.3 20.6M70.9 20.8L73.8 19.8M73.4 19.9L76.2 19.0M62.5 54.1L65.4 54.3M65.1 54.2L68.0 54.4M135.1 58.6L138.1 58.8M137.7 58.8L140.7 59.0" stroke="#465dfa" stroke-width="2.0"/>
<path d="M60.1 35.5L63.1 35.0M80.7 32.3L83.6 31.8M106.4 28.2L109.3 27.8" stroke="#465dfa" stroke-width="2.5"/>
<path d="M91.0 77.1L94.0 77.3M141.0 82.6L143.9 83.3M143.6 83.2L146.5 83.9M146.1 83.8L149.0 84.5M148.6 84.4L151.5 85.2M151.1 85.1L154.0 85.8M168.8 89.4L171.7 90.2M171.3 90.1L174.2 90.8M173.8 90.7L176.7 91.4M176.4 91.3L179.3 92.0M178.9 91.9L181.8 92.7M181.4 92.6L184.3 93.3M183.9 93.2L186.8 93.9M211.7 100.1L214.6 100.8M214.2 100.7L217.1 101.4M70.0 19.3L72.9 20.2M72.5 20.0L75.4 20.9M59.9 53.9L62.9 54.1M140.3 59.0L143.3 59.1M142.9 59.1L145.9 59.3" stroke="#3e6ffe" stroke-width="2.0"/>
<path d="M62.7 35.1L65.6 34.6M78.1 32.7L81.1 32.2M108.9 27.8L111.9 27.4M166.2 27.5L169.1 26.8M168.8 26.9L171.7 26.2" stroke="#3e6ffe" stroke-width="2.5"/>
<path d="M67.6 75.7L70.6 75.8M88.4 77.0L91.4 77.2M116.9 78.8L119.9 79.0M119.5 79.0L122.5 79.1M122.1 79.1L125.1 79.3M138.5 81.9L141.4 82.7M216.7 101.3L219.6 102.0M219.3 101.9L222.2 102.6M221.8 102.6L224.7 103.3M156.5 84.4L159.2 83.0M158.8 83.2L161.5 81.9M75.0 20.8L77.9 21.6M145.5 59.3L148.5 59.5M148.1 59.4L151.1 59.6M150.7 59.6L153.7 59.8M153.3 59.8L156.3 60.0M176.6 61.2L179.6 61.4" stroke="#2e81f9" stroke-width="2.0"/>
<path d="M65.3 34.7L68.2 34.2M67.8 34.3L70.8 33.8M70.4 33.9L73.4 33.4M73.0 33.5L75.9 33.0M75.5 33.1L78.5 32.6M111.5 27.4L114.5 27.0M114.1 27.0L117.0 26.6M163.7 28.1L166.6 27.4" stroke="#2e81f9" stroke-width="2.5"/>
<path d="M70.2 75.8L73.2 76.0M85.8 76.8L88.8 77.0M124.7 79.3L127.7 79.5M160.1 105.9L162.9 105.0M162.5 105.1L165.3 104.1M195.5 36.9L198.4 36.3M224.3 103.2L227.2 103.9M226.8 103.8L229.7 104.5M229.4 104.4L232.3 105.1M231.9 105.0L234.8 105.8M119.1 102.6L121.8 101.3M154.1 85.5L156.8 84.2M77.5 21.5L80.4 22.4M155.9 59.9L158.9 60.1M158.5 60.1L161.5 60.3M171.5 60.9L174.4 61.1M174.0 61.1L177.0 61.3" stroke="#2b91ee" stroke-width="2.0"/>
<path d="M59.2 24.7L62.1 23.8M61.7 23.9L64.6 23.1M64.2 23.2L67.1 22.3" stroke="#2b91ee" stroke-width="1.5"/>
<path d="M120.0 68.3L122.8 69.3M122.5 69.1L125.3 70.1M124.9 70.0L127.7 71.0M60.3 49.1L63.1 50.2M99.1 64.1L101.8 65.2M101.5 65.1L104.3 66.1M103.9 66.0L106.7 67.1M106.3 66.9L109.1 68.0M108.8 67.9L111.5 69.0M111.2 68.8L114.0 69.9M113.6 69.7L116.4 70.8M116.0 70.7L118.8 71.8M118.5 71.6L121.2 72.7M195.7 84.6L198.3 83.2M197.9 83.3L200.6 81.9M200.2 82.1L202.9 80.7M116.6 26.6L119.6 26.2M119.2 26.2L122.2 25.8M121.8 25.8L124.7 25.4M124.3 25.4L127.3 25.0M126.9 25.0L129.9 24.6M129.5 24.6L132.4 24.2M132.0 24.2L135.0 23.8M134.6 23.8L137.6 23.4M161.2 28.7L164.1 28.0" stroke="#2b91ee" stroke-width="2.5"/>
<path d="M96.3 25.4L99.2 24.5M98.8 24.6L101.7 23.7M101.3 23.8L104.1 22.9M127.4 70.8L130.2 71.8M174.0 87.1L176.8 88.1M176.5 88.0L179.3 88.9M178.9 88.8L181.8 89.8M181.4 89.7L184.2 90.6M183.8 90.5L186.7 91.5M62.7 50.0L65.5 51.1M94.2 62.2L97.0 63.3M96.6 63.2L99.4 64.3M120.9 72.6L123.7 73.6M191.1 87.1L193.7 85.6M193.4 85.8L196.0 84.4M202.5 80.8L205.1 79.4M204.8 79.6L207.4 78.2M158.6 29.3L161.6 28.6" stroke="#1fa4e2" stroke-width="2.5"/>
<path d="M66.7 22.4L69.6 21.6" stroke="#1fa4e2" stroke-width="1.5"/>
<path d="M157.6 106.8L160.4 105.8M184.7 97.5L187.5 96.6M187.1 96.7L190.0 95.7M189.6 95.9L192.4 94.9M192.1 95.0L194.9 94.1M194.5 94.2L197.3 93.2M148.9 88.7L151.6 87.5M151.3 87.7L154.0 86.4M153.7 86.6L156.4 85.4M156.0 85.5L158.8 84.3M158.4 84.5L161.1 83.2M198.0 36.4L200.9 35.7M166.1 103.7L169.0 102.7M215.3 86.7L218.1 85.7M217.7 85.9L220.6 84.9M220.2 85.0L223.0 84.0M222.7 84.2L225.5 83.2M225.1 83.3L227.9 82.3M227.6 82.5L230.4 81.5M234.4 105.7L237.3 106.4M236.9 106.3L239.8 107.0M239.5 106.9L242.4 107.6M242.0 107.5L244.9 108.3M244.5 108.2L247.4 108.9M247.0 108.8L249.9 109.5M249.6 109.4L252.5 110.1M121.4 101.5L124.1 100.1M123.8 100.3L126.5 99.0M126.1 99.2L128.8 97.9M128.4 98.0L131.1 96.7M130.8 96.9L133.5 95.6M133.1 95.8L135.8 94.4M135.5 94.6L138.1 93.3M137.8 93.5L140.5 92.2M80.0 22.2L82.9 23.1M161.1 60.3L164.1 60.4M163.7 60.4L166.7 60.6M166.3 60.6L169.2 60.8M168.9 60.7L171.8 60.9" stroke="#1fa4e2" stroke-width="2.0"/>
<path d="M248.4 70.4L251.2 71.5M182.3 76.5L185.1 77.3M184.7 77.2L187.6 78.1M187.2 78.0L190.1 78.8M189.7 78.7L192.6 79.6M192.2 79.5L195.1 80.3M88.9 27.7L91.7 26.8M91.4 26.9L94.2 26.0M93.8 26.2L96.7 25.3M103.8 23.1L106.6 22.2M106.2 22.3L109.1 21.4M108.7 21.5L111.6 20.6M201.0 96.5L203.9 97.5M213.3 100.8L216.1 101.8M215.8 101.6L218.6 102.6M218.2 102.5L221.0 103.5M65.1 51.0L67.9 52.0M91.8 61.3L94.6 62.4M123.3 73.5L126.1 74.6M152.4 84.8L155.2 85.9M154.8 85.7L157.6 86.8M157.2 86.7L160.0 87.7M183.9 97.0L186.7 98.1M188.8 88.3L191.4 86.9M207.1 78.4L209.7 76.9M156.1 29.9L159.0 29.2" stroke="#11b1d6" stroke-width="2.5"/>
<path d="M59.4 18.7L62.3 19.4M61.9 19.3L64.8 20.0M64.4 19.9L67.3 20.6M67.0 20.5L69.9 21.2M69.5 21.1L72.4 21.8M72.0 21.7L74.9 22.3M74.6 22.3L77.5 22.9M77.1 22.8L80.0 23.5M79.6 23.4L82.5 24.1M82.2 24.0L85.1 24.7M84.7 24.6L87.6 25.3M69.2 21.7L72.0 20.8" stroke="#11b1d6" stroke-width="1.5"/>
<path d="M159.1 70.6L161.9 71.6M161.6 71.4L164.4 72.4M164.0 72.3L166.8 73.3M166.5 73.2L169.3 74.2M168.9 74.1L171.7 75.1M171.3 74.9L174.2 75.9M173.8 75.8L176.6 76.8M176.2 76.7L179.1 77.7M178.7 77.6L181.5 78.6M181.1 78.4L184.0 79.4M183.6 79.3L186.4 80.3M197.0 93.4L199.8 92.4M199.4 92.5L202.3 91.6M211.7 88.3L214.6 87.4M214.2 87.5L217.0 86.5M216.7 86.7L219.5 85.7M219.1 85.8L222.0 84.9M132.3 96.2L135.1 95.0M134.7 95.2L137.4 93.9M137.1 94.1L139.8 92.9M139.4 93.0L142.2 91.8M141.8 91.9L144.5 90.7M144.2 90.9L146.9 89.6M146.6 89.8L149.3 88.6M160.8 83.4L163.5 82.2M163.1 82.3L165.9 81.1M200.5 35.8L203.5 35.2M218.3 31.8L221.2 31.2M161.2 105.4L164.1 104.4M163.7 104.6L166.5 103.6M168.6 102.9L171.4 101.9M205.5 90.1L208.3 89.1M207.9 89.3L210.7 88.3M210.4 88.4L213.2 87.4M212.8 87.6L215.7 86.6M230.0 81.6L232.9 80.6M232.5 80.8L235.3 79.8M234.9 79.9L237.8 78.9M140.1 92.3L142.8 91.0M151.8 86.6L154.5 85.3M82.5 23.0L85.3 23.8M85.0 23.7L87.8 24.6M87.5 24.5L90.3 25.3M90.0 25.2L92.8 26.0M249.6 72.3L252.4 73.1" stroke="#11b1d6" stroke-width="2.0"/>
<path d="M62.8 40.4L65.6 41.3M65.3 41.2L68.1 42.0M67.7 41.9L70.6 42.8M70.2 42.7L73.1 43.5M72.7 43.4L75.6 44.3M159.9 69.7L162.7 70.6M162.3 70.5L165.2 71.3M164.8 71.2L167.7 72.1M167.3 72.0L170.2 72.8M169.8 72.7L172.7 73.6M172.3 73.5L175.2 74.3M174.8 74.2L177.6 75.1M177.3 75.0L180.1 75.8M179.8 75.7L182.6 76.6M194.7 80.2L197.6 81.1M197.2 81.0L200.1 81.8M76.5 31.6L79.3 30.7M79.0 30.8L81.8 29.9M81.4 30.1L84.3 29.2M83.9 29.3L86.8 28.4M86.4 28.5L89.3 27.6M149.5 78.5L152.3 79.5M151.9 79.4L154.8 80.4M154.4 80.3L157.2 81.2M156.8 81.1L159.7 82.1M159.3 82.0L162.1 82.9M67.5 51.9L70.3 53.0M89.4 60.4L92.1 61.4M125.7 74.4L128.5 75.5M128.2 75.4L130.9 76.5M130.6 76.3L133.4 77.4M133.0 77.3L135.8 78.3M147.5 82.9L150.3 84.0M150.0 83.8L152.8 84.9M159.7 87.6L162.5 88.7M179.1 95.1L181.9 96.2M181.5 96.0L184.3 97.1M186.3 97.9L189.1 99.0M188.8 98.9L191.5 99.9M191.2 99.8L194.0 100.9M186.5 89.6L189.2 88.1M209.4 77.1L212.0 75.7" stroke="#01bac3" stroke-width="2.5"/>
<path d="M87.2 25.2L90.1 25.8M71.7 20.9L74.5 20.0M74.2 20.2L77.0 19.3M236.2 49.3L239.0 50.3M238.6 50.2L241.4 51.2M241.1 51.0L243.9 52.1M243.5 51.9L246.3 52.9M246.0 52.8L248.8 53.8M248.4 53.7L251.2 54.7" stroke="#01bac3" stroke-width="1.5"/>
<path d="M156.7 69.7L159.5 70.7M186.0 80.2L188.9 81.2M209.3 89.2L212.1 88.2M118.1 102.6L120.8 101.4M120.5 101.6L123.2 100.3M122.9 100.5L125.6 99.3M125.2 99.4L127.9 98.2M127.6 98.4L130.3 97.1M130.0 97.3L132.7 96.1M165.5 81.2L168.2 80.0M215.8 32.4L218.7 31.8M101.7 102.5L104.6 101.5M104.2 101.6L107.0 100.6M158.8 106.3L161.6 105.3M171.1 102.0L173.9 101.0M203.0 91.0L205.8 90.0M237.4 79.0L240.2 78.1M239.9 78.2L242.7 77.2M242.3 77.3L245.1 76.4M244.8 76.5L247.6 75.5M247.2 75.6L250.1 74.7M249.7 74.8L252.5 73.8M142.5 91.2L145.2 89.9M149.5 87.8L152.2 86.5M92.5 25.9L95.3 26.8M174.8 50.2L177.6 51.0M177.2 50.9L180.1 51.8M179.7 51.7L182.6 52.5M182.2 52.4L185.1 53.2M207.2 59.8L210.0 60.6M209.7 60.5L212.5 61.3M212.2 61.2L215.0 62.1M214.7 62.0L217.5 62.8M217.1 62.7L220.0 63.5M219.6 63.4L222.5 64.3M222.1 64.2L225.0 65.0M244.6 70.8L247.4 71.6M247.1 71.5L249.9 72.4" stroke="#01bac3" stroke-width="2.0"/>
<path d="M60.3 39.7L63.1 40.5M75.2 44.2L78.1 45.0M77.7 44.9L80.6 45.8M122.5 58.4L125.4 59.3M125.0 59.2L127.9 60.1M127.5 59.9L130.4 60.8M130.0 60.7L132.8 61.6M132.5 61.4L135.3 62.3M149.9 66.7L152.8 67.6M152.4 67.5L155.2 68.3M154.9 68.2L157.7 69.1M157.4 69.0L160.2 69.8M199.7 81.7L202.5 82.6M69.0 34.0L71.9 33.1M71.5 33.2L74.4 32.3M74.0 32.4L76.8 31.5M209.6 41.3L212.5 41.9M212.2 41.9L215.1 42.5M222.3 44.2L225.2 44.8M224.8 44.7L227.7 45.4M144.6 76.8L147.4 77.8M147.0 77.7L149.8 78.7M70.0 52.8L72.8 53.9M72.4 53.8L75.2 54.9M74.8 54.7L77.6 55.8M77.2 55.7L80.0 56.7M79.7 56.6L82.5 57.7M82.1 57.5L84.9 58.6M84.5 58.5L87.3 59.6M86.9 59.4L89.7 60.5M135.4 78.2L138.2 79.3M137.8 79.1L140.6 80.2M140.3 80.1L143.1 81.2M142.7 81.0L145.5 82.1M145.1 82.0L147.9 83.0M162.1 88.5L164.9 89.6M164.5 89.5L167.3 90.6M176.6 94.2L179.4 95.3M193.6 100.7L196.4 101.8M196.0 101.7L198.8 102.8M184.3 90.8L186.9 89.4M153.6 30.6L156.5 29.8" stroke="#23c1ae" stroke-width="2.5"/>
<path d="M89.8 25.8L92.7 26.4M76.6 19.4L79.5 18.5" stroke="#23c1ae" stroke-width="1.5"/>
<path d="M151.8 67.9L154.6 68.9M154.2 68.8L157.0 69.8M188.5 81.0L191.3 82.1M190.9 81.9L193.8 82.9M167.9 80.2L170.6 78.9M170.2 79.1L173.0 77.9M99.3 103.4L102.1 102.4M106.6 100.8L109.5 99.7M109.1 99.9L111.9 98.9M111.5 99.0L114.3 98.0M114.0 98.1L116.8 97.1M116.4 97.2L119.2 96.2M118.9 96.4L121.7 95.3M121.3 95.5L124.1 94.5M123.8 94.6L126.6 93.6M126.2 93.7L129.0 92.7M128.7 92.8L131.5 91.8M131.1 92.0L133.9 90.9M133.6 91.1L136.4 90.1M136.0 90.2L138.8 89.2M170.3 77.9L173.1 76.9M172.7 77.0L175.5 76.0M175.1 76.1L178.0 75.1M177.6 75.2L180.4 74.2M153.9 108.0L156.7 107.0M156.3 107.1L159.1 106.1M195.6 93.5L198.5 92.5M198.1 92.7L200.9 91.7M200.5 91.8L203.4 90.8M59.6 42.4L62.4 41.2M69.2 38.3L71.9 37.1M71.6 37.3L74.3 36.1M73.9 36.3L76.7 35.1M76.3 35.3L79.1 34.1M85.9 31.2L88.7 30.0M88.3 30.1L91.0 29.0M90.7 29.1L93.4 27.9M93.1 28.1L95.8 26.9M95.5 27.1L98.2 25.9M97.9 26.1L100.6 24.9M100.2 25.0L103.0 23.9M102.6 24.0L105.4 22.8M105.0 23.0L107.8 21.8M107.4 22.0L110.2 20.8M116.8 103.7L119.4 102.4M144.8 90.1L147.5 88.7M147.1 88.9L149.8 87.6M95.0 26.7L97.8 27.5M97.4 27.4L100.3 28.2M169.8 48.7L172.6 49.6M172.3 49.5L175.1 50.3M184.7 53.1L187.6 54.0M187.2 53.9L190.1 54.7M189.7 54.6L192.6 55.5M199.7 57.5L202.6 58.4M202.2 58.3L205.1 59.1M204.7 59.0L207.5 59.9M224.6 64.9L227.5 65.7M242.1 70.0L245.0 70.9" stroke="#23c1ae" stroke-width="2.0"/>
<path d="M80.2 45.7L83.1 46.5M82.7 46.4L85.5 47.3M115.0 56.2L117.9 57.1M117.5 56.9L120.4 57.8M120.0 57.7L122.9 58.6M135.0 62.2L137.8 63.1M137.4 62.9L140.3 63.8M139.9 63.7L142.8 64.6M142.4 64.5L145.3 65.3M144.9 65.2L147.8 66.1M147.4 66.0L150.3 66.8M202.2 82.5L205.0 83.3M204.7 83.2L207.5 84.1M64.1 35.5L66.9 34.6M66.6 34.7L69.4 33.8M164.0 30.9L166.9 31.6M166.5 31.5L169.4 32.1M204.5 40.1L207.5 40.8M207.1 40.7L210.0 41.4M227.4 45.3L230.3 46.0M229.9 45.9L232.8 46.6M166.9 90.4L169.7 91.5M169.4 91.4L172.2 92.4M171.8 92.3L174.6 93.4M174.2 93.2L177.0 94.3M198.5 102.6L201.2 103.7M159.2 104.5L161.8 103.1M161.4 103.3L164.1 101.9M163.7 102.0L166.3 100.6M166.0 100.8L168.6 99.4M168.3 99.6L170.9 98.1M170.6 98.3L173.2 96.9M172.9 97.1L175.5 95.6M175.1 95.8L177.8 94.4M177.4 94.6L180.0 93.1M179.7 93.3L182.3 91.9M182.0 92.1L184.6 90.6M151.1 31.2L154.0 30.5" stroke="#37c797" stroke-width="2.5"/>
<path d="M92.3 26.3L95.2 27.0M181.0 46.8L183.9 47.5M183.5 47.4L186.4 48.1" stroke="#37c797" stroke-width="1.5"/>
<path d="M66.1 37.3L68.9 38.4M127.3 59.2L130.1 60.2M129.7 60.1L132.5 61.1M132.2 60.9L135.0 62.0M134.6 61.8L137.4 62.8M137.1 62.7L139.9 63.7M146.9 66.2L149.7 67.2M149.3 67.1L152.1 68.1M193.4 82.8L196.2 83.8M172.6 78.0L175.3 76.8M175.0 77.0L177.7 75.7M203.1 35.2L206.0 34.6M213.2 33.0L216.1 32.3M96.9 104.3L99.7 103.3M138.4 89.3L141.3 88.3M140.9 88.4L143.7 87.4M143.3 87.6L146.2 86.5M145.8 86.7L148.6 85.7M148.2 85.8L151.0 84.8M150.7 84.9L153.5 83.9M153.1 84.0L155.9 83.0M155.6 83.2L158.4 82.2M158.0 82.3L160.8 81.3M160.5 81.4L163.3 80.4M162.9 80.5L165.7 79.5M165.4 79.6L168.2 78.6M167.8 78.8L170.6 77.8M173.5 101.2L176.3 100.2M190.7 95.2L193.5 94.2M193.2 94.4L196.0 93.4M62.0 41.4L64.7 40.2M64.4 40.4L67.1 39.2M66.8 39.3L69.5 38.2M78.7 34.2L81.5 33.1M81.1 33.2L83.9 32.0M83.5 32.2L86.3 31.0M114.4 104.9L117.1 103.6M99.9 28.1L102.8 29.0M167.3 48.0L170.1 48.8M192.2 55.3L195.1 56.2M194.7 56.1L197.6 56.9M197.2 56.8L200.1 57.7M227.1 65.6L230.0 66.5M229.6 66.4L232.5 67.2M232.1 67.1L235.0 68.0M234.6 67.8L237.5 68.7M237.1 68.6L240.0 69.4M239.6 69.3L242.5 70.2" stroke="#37c797" stroke-width="2.0"/>
<path d="M85.2 47.2L88.0 48.0M87.7 47.9L90.5 48.8M110.1 54.7L112.9 55.6M112.6 55.4L115.4 56.3M207.1 84.0L210.0 84.8M126.0 22.3L128.9 22.9M128.5 22.8L131.4 23.5M158.9 29.8L161.8 30.4M161.4 30.3L164.4 31.0M176.7 33.8L179.6 34.5M202.0 39.6L204.9 40.2M232.4 46.5L235.3 47.1M235.0 47.0L237.9 47.7M237.5 47.6L240.4 48.3M240.0 48.2L243.0 48.9M230.5 106.8L233.3 107.7M233.0 107.6L235.8 108.6M200.9 103.6L203.7 104.6M154.6 107.0L157.2 105.6M156.9 105.8L159.5 104.4M148.5 31.8L151.5 31.1" stroke="#56cc7a" stroke-width="2.5"/>
<path d="M94.8 26.9L97.7 27.6M175.9 45.6L178.8 46.3M178.4 46.2L181.3 46.9" stroke="#56cc7a" stroke-width="1.5"/>
<path d="M58.7 34.7L61.5 35.7M61.2 35.6L64.0 36.6M63.6 36.5L66.4 37.5M68.5 38.2L71.3 39.2M71.0 39.1L73.8 40.1M73.4 40.0L76.2 41.0M119.9 56.6L122.7 57.6M122.4 57.4L125.2 58.5M124.8 58.3L127.6 59.3M139.5 63.6L142.3 64.6M142.0 64.4L144.8 65.4M144.4 65.3L147.2 66.3M195.8 83.7L198.7 84.7M205.6 34.7L208.5 34.0M210.7 33.5L213.6 32.9M136.5 71.4L139.1 70.0M138.8 70.2L141.4 68.9M141.1 69.0L143.8 67.7M143.4 67.8L146.1 66.5M151.4 108.8L154.2 107.8M176.0 100.3L178.8 99.3M185.8 96.9L188.6 95.9M188.3 96.1L191.1 95.1M102.4 28.9L105.3 29.7M104.9 29.6L107.8 30.4M164.8 47.3L167.6 48.1" stroke="#56cc7a" stroke-width="2.0"/>
<path d="M95.1 50.2L98.0 51.0M97.6 50.9L100.5 51.8M102.6 52.4L105.5 53.3M105.1 53.2L108.0 54.1M107.6 53.9L110.4 54.8M153.8 28.6L156.8 29.3M156.4 29.2L159.3 29.8M179.2 34.4L182.1 35.0M196.9 38.4L199.9 39.1M199.5 39.0L202.4 39.6M237.9 109.3L240.7 110.3M242.8 111.0L245.6 112.0M152.3 108.3L154.9 106.8M146.0 32.4L148.9 31.7" stroke="#8fca4d" stroke-width="2.5"/>
<path d="M97.4 27.5L100.3 28.2M173.4 45.1L176.3 45.7" stroke="#8fca4d" stroke-width="1.5"/>
<path d="M75.9 40.8L78.7 41.8M115.0 54.8L117.8 55.8M198.3 84.5L201.1 85.5M203.2 86.3L206.0 87.3M208.1 88.0L210.9 89.0M210.5 88.9L213.3 89.9M213.0 89.8L215.8 90.8M215.4 90.7L218.2 91.7M217.9 91.5L220.7 92.5M220.3 92.4L223.1 93.4M148.0 65.5L150.7 64.1M182.7 47.6L185.4 46.2M94.4 105.2L97.2 104.1M112.1 106.0L114.8 104.7" stroke="#8fca4d" stroke-width="2.0"/>
<path d="M148.8 27.4L151.7 28.1M203.3 104.5L206.1 105.6" stroke="#b8c430" stroke-width="2.5"/>
<path d="M83.2 43.5L86.0 44.5M88.1 45.2L90.9 46.2M110.1 53.1L112.9 54.1M152.7 63.1L155.3 61.7M175.8 51.2L178.4 49.8M191.9 42.8L194.6 41.5M194.3 41.6L196.9 40.3M148.9 109.7L151.8 108.7M114.9 32.5L117.8 33.4" stroke="#b8c430" stroke-width="2.0"/>
<path d="M102.4 28.7L105.3 29.4M168.3 43.9L171.2 44.6" stroke="#dcbc28" stroke-width="1.5"/>
<path d="M205.7 105.4L208.5 106.5M150.0 109.5L152.7 108.1M135.9 34.9L138.8 34.2M138.4 34.2L141.3 33.5M141.0 33.6L143.9 32.9" stroke="#dcbc28" stroke-width="2.5"/>
<path d="M93.0 47.0L95.8 48.0M95.4 47.8L98.3 48.8M100.3 49.6L103.2 50.6M107.7 52.2L110.5 53.2M171.1 53.6L173.8 52.2M203.5 36.9L206.2 35.5M117.4 33.3L120.3 34.1M119.9 34.0L122.8 34.9M122.4 34.7L125.3 35.6M124.9 35.5L127.7 36.3M127.4 36.2L130.2 37.1M132.4 37.7L135.2 38.5M134.9 38.4L137.7 39.3M137.3 39.2L140.2 40.0M142.3 40.6L145.2 41.5M149.8 42.8L152.7 43.7M152.3 43.6L155.2 44.4" stroke="#dcbc28" stroke-width="2.0"/>
<path d="M105.0 29.3L107.9 29.9M163.2 42.7L166.1 43.4" stroke="#f8ba3d" stroke-width="1.5"/>
<path d="M247.7 112.8L250.5 113.7M210.6 107.3L213.4 108.4M217.9 110.1L220.6 111.2M225.1 113.0L227.9 114.0" stroke="#f8ba3d" stroke-width="2.5"/>
<path d="M111.0 105.9L113.7 104.6M161.9 58.3L164.6 56.9M164.2 57.1L166.9 55.8M166.5 55.9L169.2 54.6M205.8 35.7L208.5 34.3M208.1 34.5L210.8 33.1M250.0 107.1L252.8 106.2" stroke="#f8ba3d" stroke-width="2.0"/>
<path d="M160.7 42.1L163.6 42.8" stroke="#fdc933" stroke-width="1.5"/>
<path d="M215.4 109.2L218.2 110.3" stroke="#fdc933" stroke-width="2.5"/>
<path d="M137.9 113.5L140.7 112.5M89.5 106.9L92.3 105.9M139.1 113.1L141.9 112.1M250.1 106.6L253.0 105.8M247.5 107.9L250.3 107.0" stroke="#fdc933" stroke-width="2.0"/>
<path d="M115.1 31.6L118.0 32.3M155.6 41.0L158.5 41.6M158.2 41.6L161.1 42.2" stroke="#f6dc29" stroke-width="1.5"/>
<path d="M227.6 113.9L230.3 115.0M147.8 110.8L150.4 109.3" stroke="#f6dc29" stroke-width="2.5"/>
<path d="M108.6 106.9L111.4 105.7M245.1 108.2L248.0 107.3M245.0 108.6L247.8 107.7" stroke="#f6dc29" stroke-width="2.0"/>
<path d="M122.7 33.4L125.6 34.0M125.2 33.9L128.1 34.6M127.8 34.5L130.7 35.2M132.8 35.7L135.7 36.4M135.4 36.3L138.3 37.0M137.9 36.9L140.8 37.5M143.0 38.0L145.9 38.7M145.5 38.6L148.4 39.3M148.0 39.2L150.9 39.9" stroke="#f5ef20" stroke-width="1.5"/>
<path d="M232.4 115.8L235.2 116.9M234.8 116.7L237.6 117.8M239.7 118.6L242.5 119.7M242.1 119.5L244.9 120.6" stroke="#f5ef20" stroke-width="2.5"/>
<path d="M99.2 111.2L101.9 110.0M101.5 110.1L104.3 108.9M103.9 109.1L106.6 107.8M106.3 108.0L109.0 106.8M215.5 121.3L218.4 120.4M218.0 120.6L220.9 119.7M220.5 119.8L223.4 119.0M225.5 118.4L228.4 117.6M238.0 114.8L240.9 114.0M240.5 114.1L243.4 113.3M243.0 113.4L245.9 112.5M198.0 122.9L200.8 122.0M215.3 117.5L218.2 116.6M217.8 116.7L220.7 115.8M222.8 115.2L225.6 114.3M232.7 112.1L235.6 111.2M237.7 110.5L240.5 109.6M240.2 109.7L243.0 108.8M195.2 123.7L198.1 122.8M205.2 120.6L208.0 119.8M215.1 117.6L218.0 116.8M225.1 114.6L227.9 113.8M230.0 113.1L232.9 112.3M232.5 112.4L235.4 111.5M235.0 111.6L237.9 110.8M240.0 110.1L242.9 109.2M91.3 108.4L94.3 108.9M93.9 108.8L96.9 109.3M96.5 109.2L99.4 109.7M101.6 110.0L104.6 110.4M102.7 110.6L105.4 109.3M105.1 109.4L107.8 108.1" stroke="#f5ef20" stroke-width="2.0"/>
<path d="M79.1 96.6L81.8 95.4M81.5 95.5L84.2 94.4M63.7 58.3L66.5 57.2M66.2 57.4L68.9 56.3M68.6 56.4L71.4 55.3M71.0 55.5L73.8 54.3M73.4 54.5L76.2 53.4M145.9 25.6L148.6 24.5M64.9 57.8L67.7 58.8M67.3 58.7L70.2 59.7M69.8 59.5L72.6 60.5M72.2 60.4L75.1 61.4M74.7 61.3L77.5 62.2M91.9 67.2L94.7 68.2M94.3 68.1L97.2 69.1M96.8 68.9L99.6 69.9M99.3 69.8L102.1 70.8M101.7 70.7L104.5 71.6M104.2 71.5L107.0 72.5M133.6 81.8L136.5 82.8M136.1 82.6L138.9 83.6M138.5 83.5L141.4 84.5M141.0 84.3L143.8 85.3M143.5 85.2L146.3 86.2M145.9 86.0L148.7 87.0M148.4 86.9L151.2 87.9M150.8 87.8L153.6 88.7M153.3 88.6L156.1 89.6M155.7 89.5L158.6 90.4M158.2 90.3L161.0 91.3M168.0 93.7L170.8 94.7" stroke="#463bde" stroke-width="2.5"/>
<path d="M77.9 61.2L80.6 59.8M80.2 60.0L82.9 58.7M82.6 58.9L85.3 57.6M84.9 57.7L87.6 56.4" stroke="#463bde" stroke-width="1.5"/>
<path d="M96.2 100.3L99.2 99.7M98.8 99.7L101.7 99.1M101.3 99.2L104.2 98.5M103.8 98.6L106.8 97.9M106.4 98.0L109.3 97.3M108.9 97.4L111.8 96.7M111.4 96.8L114.3 96.1M114.0 96.2L116.9 95.5M116.5 95.6L119.4 95.0M119.0 95.0L121.9 94.4M121.6 94.5L124.5 93.8M124.1 93.9L127.0 93.2M126.6 93.3L129.5 92.6M129.2 92.7L132.1 92.0M131.7 92.1L134.6 91.4" stroke="#463bde" stroke-width="2.0"/>
<path d="M75.8 53.5L78.6 52.4M78.2 52.6L81.0 51.5M80.7 51.6L83.4 50.5M83.1 50.6L85.8 49.5M141.0 27.5L143.8 26.4M143.4 26.5L146.2 25.4M62.4 57.0L65.2 58.0M77.2 62.1L80.0 63.1M79.6 63.0L82.4 63.9M87.0 65.5L89.8 66.5M89.4 66.4L92.3 67.4M106.6 72.4L109.4 73.4M126.3 79.2L129.1 80.2M128.7 80.1L131.5 81.0M131.2 80.9L134.0 81.9M160.6 91.2L163.5 92.2M163.1 92.0L165.9 93.0M165.6 92.9L168.4 93.9" stroke="#474cf0" stroke-width="2.5"/>
<path d="M73.2 63.4L75.9 62.1M75.6 62.3L78.2 61.0M87.2 56.6L89.9 55.3" stroke="#474cf0" stroke-width="1.5"/>
<path d="M93.7 100.9L96.6 100.2M134.2 91.5L137.1 90.9M136.8 90.9L139.7 90.3" stroke="#474cf0" stroke-width="2.0"/>
<path d="M85.5 49.7L88.3 48.6M87.9 48.7L90.7 47.6M133.8 30.4L136.6 29.3M136.2 29.4L139.0 28.3M138.6 28.5L141.4 27.4M82.1 63.8L84.9 64.8M84.5 64.7L87.3 65.7M109.1 73.2L111.9 74.2M111.5 74.1L114.4 75.1M121.4 77.5L124.2 78.5M123.8 78.4L126.6 79.3" stroke="#465dfa" stroke-width="2.5"/>
<path d="M66.2 66.8L68.9 65.5M68.5 65.7L71.2 64.4M70.9 64.6L73.6 63.3" stroke="#465dfa" stroke-width="1.5"/>
<path d="M91.2 101.5L94.1 100.8M139.3 90.4L142.2 89.7M141.8 89.8L144.7 89.1M144.4 89.2L147.3 88.5M146.9 88.6L149.8 87.9" stroke="#465dfa" stroke-width="2.0"/>
<path d="M76.7 97.6L79.4 96.4M90.3 47.7L93.1 46.6M92.7 46.8L95.5 45.7M128.9 32.3L131.7 31.2M131.4 31.4L134.1 30.2M60.0 56.1L62.8 57.1M114.0 74.9L116.8 75.9M116.4 75.8L119.3 76.8M118.9 76.6L121.7 77.6M218.2 51.9L221.2 52.2M220.8 52.2L223.8 52.5M223.4 52.5L226.4 52.8" stroke="#3e6ffe" stroke-width="2.5"/>
<path d="M63.9 68.0L66.6 66.7M89.6 55.5L92.3 54.1" stroke="#3e6ffe" stroke-width="1.5"/>
<path d="M219.4 73.0L222.2 71.8M149.4 88.0L152.3 87.3M152.0 87.4L154.9 86.7M154.5 86.8L157.4 86.2M157.0 86.2L159.9 85.6M159.6 85.7L162.5 85.0M162.1 85.1L165.0 84.4M164.6 84.5L167.5 83.8M167.2 83.9L170.1 83.2M169.7 83.3L172.6 82.6M172.2 82.7L175.1 82.1M174.8 82.1L177.7 81.5M76.2 64.0L79.1 64.4M78.7 64.4L81.7 64.9M81.3 64.8L84.2 65.3M83.9 65.2L86.8 65.7M86.4 65.6L89.4 66.1M89.0 66.0L91.9 66.5M163.4 78.1L166.4 78.6" stroke="#3e6ffe" stroke-width="2.0"/>
<path d="M83.6 97.5L86.6 97.6M86.2 97.6L89.2 97.7M88.8 97.7L91.8 97.9M91.4 97.9L94.4 98.0M94.0 98.0L97.0 98.1M96.6 98.1L99.6 98.3M99.2 98.3L102.2 98.4M159.7 98.5L162.7 98.7M162.3 98.7L165.3 98.9M164.9 98.9L167.9 99.1M167.5 99.1L170.4 99.3M170.1 99.3L173.0 99.5M243.9 67.6L246.7 68.7M246.3 68.6L249.1 69.6M248.8 69.5L251.5 70.6M95.1 45.8L97.9 44.7M97.6 44.8L100.3 43.7M126.5 33.3L129.3 32.2M213.1 51.3L216.0 51.7M215.6 51.6L218.6 51.9M226.0 52.7L229.0 53.1M228.6 53.0L231.5 53.3M83.5 88.9L86.2 87.6M85.9 87.8L88.5 86.5M88.2 86.6L90.9 85.3" stroke="#2e81f9" stroke-width="2.5"/>
<path d="M117.6 41.8L120.3 40.5M120.0 40.7L122.6 39.3M122.3 39.5L125.0 38.2M141.0 30.4L143.7 29.1" stroke="#2e81f9" stroke-width="1.5"/>
<path d="M159.7 98.8L162.5 97.6M217.0 74.0L219.8 72.9M221.8 72.0L224.5 70.8M224.2 71.0L226.9 69.8M177.3 81.6L180.2 80.9M210.2 73.9L213.1 73.3M212.8 73.3L215.7 72.7M215.3 72.8L218.2 72.1M217.8 72.2L220.7 71.5M220.4 71.6L223.3 70.9M222.9 71.0L225.8 70.3M225.4 70.4L228.3 69.7M228.0 69.8L230.9 69.1M71.0 63.1L74.0 63.6M73.6 63.6L76.5 64.0M91.6 66.5L94.5 66.9M94.1 66.9L97.1 67.4M96.7 67.3L99.6 67.8M132.6 73.1L135.6 73.6M135.2 73.5L138.1 74.0M137.7 74.0L140.7 74.4M140.3 74.4L143.3 74.8M158.3 77.3L161.2 77.8M160.8 77.7L163.8 78.2M166.0 78.5L168.9 79.0M168.5 78.9L171.5 79.4" stroke="#2e81f9" stroke-width="2.0"/>
<path d="M81.0 97.3L84.0 97.5M101.8 98.4L104.8 98.5M104.4 98.5L107.4 98.7M172.6 99.5L175.6 99.7M175.2 99.7L178.2 99.9M177.8 99.9L180.8 100.1M180.4 100.1L183.4 100.3M183.0 100.3L186.0 100.5M185.6 100.5L188.6 100.7M188.2 100.7L191.2 100.9M190.8 100.9L193.8 101.1M193.4 101.1L196.4 101.3M196.0 101.3L199.0 101.5M239.1 65.7L241.8 66.8M241.5 66.7L244.3 67.8M100.0 43.9L102.7 42.8M121.7 35.2L124.5 34.1M124.1 34.2L126.9 33.1M210.5 51.1L213.4 51.4M231.2 53.3L234.1 53.6M81.2 90.1L83.9 88.8M92.8 84.3L95.5 83.0M95.2 83.2L97.9 81.9M104.0 91.2L106.8 90.1M106.5 90.2L109.2 89.1M108.9 89.3L111.7 88.2M111.3 88.3L114.1 87.3M113.7 87.4L116.5 86.3M133.1 79.9L135.9 78.8M135.5 78.9L138.3 77.8" stroke="#2b91ee" stroke-width="2.5"/>
<path d="M136.0 67.1L138.8 68.1M138.4 68.0L141.2 68.9M140.9 68.8L143.7 69.8M143.3 69.7L146.2 70.6M157.4 99.8L160.1 98.6M162.1 97.7L164.9 96.6M214.6 75.1L217.4 73.9M226.6 69.9L229.3 68.7M229.0 68.9L231.7 67.7M231.4 67.9L234.1 66.7M233.7 66.8L236.5 65.6M236.1 65.8L238.9 64.6M97.0 69.0L99.7 67.6M99.3 67.7L102.0 66.4M101.6 66.5L104.3 65.1M103.9 65.3L106.6 63.9M179.8 81.0L182.7 80.3M182.4 80.4L185.3 79.7M207.7 74.5L210.6 73.8M230.5 69.2L233.4 68.6M233.0 68.6L235.9 68.0M235.6 68.1L238.5 67.4M238.1 67.5L241.0 66.8M240.6 66.9L243.5 66.2M243.2 66.3L246.1 65.6M245.7 65.7L248.6 65.0M248.2 65.1L251.1 64.5M63.3 61.9L66.3 62.4M65.9 62.3L68.8 62.8M68.5 62.7L71.4 63.2M99.3 67.7L102.2 68.2M130.0 72.7L133.0 73.2M142.9 74.8L145.8 75.3M145.4 75.2L148.4 75.7M153.1 76.5L156.1 76.9M155.7 76.9L158.7 77.3M171.1 79.4L174.1 79.8" stroke="#2b91ee" stroke-width="2.0"/>
<path d="M91.9 54.3L94.6 53.0M105.9 47.5L108.6 46.2M108.3 46.3L111.0 45.0M110.6 45.2L113.3 43.9M112.9 44.1L115.6 42.8M115.3 42.9L118.0 41.6M124.6 38.4L127.3 37.1" stroke="#2b91ee" stroke-width="1.5"/>
<path d="M107.0 98.6L110.0 98.8M130.4 99.8L133.3 100.0M133.0 100.0L135.9 100.1M135.6 100.1L138.5 100.2M200.5 103.4L203.5 103.5M203.1 103.5L206.1 103.6M198.6 101.5L201.6 101.7M201.2 101.7L204.1 101.9M203.8 101.9L206.7 102.1M206.4 102.1L209.3 102.3M235.8 63.7L238.6 64.9M238.2 64.7L241.0 65.9M240.6 65.7L243.4 66.9M243.0 66.7L245.8 67.9M245.4 67.7L248.2 68.9M247.8 68.8L250.5 69.9M250.2 69.8L252.9 70.9M236.6 64.8L239.4 65.9M74.3 98.6L77.1 97.4M102.4 42.9L105.2 41.8M104.8 42.0L107.6 40.8M116.9 37.1L119.7 36.0M119.3 36.2L122.1 35.1M207.9 50.8L210.9 51.1M233.7 53.6L236.7 53.9M97.5 82.1L100.2 80.7M99.2 93.0L102.0 92.0M101.6 92.1L104.4 91.0M116.2 86.5L118.9 85.4M118.6 85.5L121.4 84.4M121.0 84.6L123.8 83.5M123.4 83.6L126.2 82.6M125.8 82.7L128.6 81.6M128.3 81.8L131.1 80.7M130.7 80.8L133.5 79.7" stroke="#1fa4e2" stroke-width="2.5"/>
<path d="M94.2 52.7L97.0 53.7M96.6 53.5L99.5 54.5M99.1 54.4L101.9 55.4M101.6 55.2L104.4 56.2M131.0 65.4L133.9 66.4M133.5 66.3L136.3 67.2M145.8 70.5L148.6 71.5M148.2 71.4L151.1 72.3M150.7 72.2L153.5 73.2M181.4 75.8L184.2 76.8M183.9 76.7L186.7 77.7M186.3 77.5L189.1 78.5M188.8 78.4L191.6 79.4M191.2 79.2L194.1 80.2M193.7 80.1L196.5 81.1M196.1 80.9L199.0 81.9M198.6 81.8L201.4 82.8M201.1 82.6L203.9 83.6M187.6 51.2L190.6 51.6M190.2 51.5L193.2 51.9M192.8 51.9L195.8 52.3M164.5 96.7L167.3 95.5M190.8 85.4L193.5 84.2M212.3 76.1L215.0 74.9M238.5 64.8L241.3 63.6M240.9 63.7L243.6 62.6M243.3 62.7L246.0 61.5M245.7 61.7L248.4 60.5M248.1 60.6L250.8 59.5M92.4 71.4L95.1 70.0M94.7 70.2L97.4 68.8M106.2 64.1L108.9 62.7M108.5 62.9L111.2 61.5M110.8 61.7L113.5 60.3M184.9 79.8L187.8 79.1M202.6 75.7L205.5 75.0M205.2 75.1L208.1 74.4M60.8 61.5L63.7 61.9M101.8 68.1L104.8 68.6M127.5 72.3L130.4 72.8M148.0 75.6L151.0 76.1M150.6 76.0L153.5 76.5M173.7 79.8L176.6 80.3" stroke="#1fa4e2" stroke-width="2.0"/>
<path d="M94.2 53.2L96.9 51.9M96.6 52.0L99.3 50.7M98.9 50.9L101.6 49.6M101.3 49.8L103.9 48.5M103.6 48.6L106.3 47.3M127.0 37.2L129.7 35.9M138.7 31.5L141.3 30.2" stroke="#1fa4e2" stroke-width="1.5"/>
<path d="M109.6 98.8L112.6 98.9M112.2 98.9L115.2 99.1M114.8 99.0L117.8 99.2M117.4 99.2L120.4 99.3M120.0 99.3L123.0 99.5M122.6 99.4L125.6 99.6M125.2 99.6L128.2 99.7M127.8 99.7L130.8 99.8M138.2 100.2L141.1 100.4M140.7 100.4L143.7 100.5M143.3 100.5L146.3 100.6M195.3 103.1L198.3 103.3M197.9 103.2L200.9 103.4M205.7 103.6L208.7 103.8M208.3 103.8L211.2 103.9M210.9 103.9L213.8 104.0M213.5 104.0L216.4 104.2M249.8 105.9L252.8 106.0M208.9 102.3L211.9 102.5M211.5 102.5L214.5 102.7M226.2 59.6L229.0 60.8M228.6 60.7L231.4 61.8M231.0 61.7L233.8 62.8M233.4 62.7L236.2 63.8M231.8 62.9L234.6 64.0M234.2 63.9L237.0 64.9M107.2 41.0L110.0 39.9M109.6 40.0L112.4 38.9M112.0 39.1L114.8 38.0M114.5 38.1L117.2 37.0M205.3 50.5L208.3 50.8M236.3 53.9L239.3 54.2M238.9 54.1L241.9 54.5M78.9 91.2L81.5 89.9M99.8 80.9L102.5 79.6M102.2 79.8L104.9 78.4M80.0 84.9L82.7 83.6M82.4 83.7L85.1 82.5M84.7 82.6L87.4 81.3M87.1 81.5L89.8 80.2M89.4 80.4L92.1 79.1M91.8 79.3L94.5 78.0M94.1 78.2L96.8 76.9M96.5 77.1L99.2 75.8M98.8 75.9L101.5 74.7M101.2 74.8L103.9 73.5M103.5 73.7L106.2 72.4M105.9 72.6L108.6 71.3M108.2 71.5L110.9 70.2M110.6 70.4L113.3 69.1M112.9 69.3L115.6 68.0M115.3 68.1L118.0 66.9M117.6 67.0L120.3 65.7M171.6 41.4L174.3 40.1M174.0 40.3L176.7 39.0M193.7 55.6L196.5 56.7M196.1 56.6L198.9 57.7M198.5 57.6L201.3 58.7M200.9 58.5L203.7 59.7M203.3 59.5L206.1 60.7M205.7 60.5L208.5 61.7M208.2 61.5L210.9 62.6M96.8 94.0L99.6 92.9" stroke="#11b1d6" stroke-width="2.5"/>
<path d="M104.0 56.1L106.8 57.1M126.1 63.7L129.0 64.7M128.6 64.6L131.4 65.5M153.2 73.1L156.0 74.0M155.6 73.9L158.4 74.9M158.1 74.8L160.9 75.7M160.5 75.6L163.4 76.6M163.0 76.5L165.8 77.4M165.4 77.3L168.3 78.3M167.9 78.2L170.7 79.1M170.4 79.0L173.2 80.0M58.6 33.2L61.4 34.2M154.4 66.4L157.2 67.4M156.8 67.3L159.7 68.3M159.3 68.2L162.1 69.1M161.8 69.0L164.6 70.0M164.2 69.9L167.0 70.8M208.5 100.3L211.4 99.6M58.9 33.1L61.9 33.5M61.5 33.4L64.5 33.8M64.1 33.8L67.0 34.2M185.1 50.8L188.0 51.2M195.4 52.2L198.3 52.7M197.9 52.6L200.9 53.0M228.8 57.0L231.8 57.4M231.4 57.3L234.4 57.7M234.0 57.7L237.0 58.1M236.6 58.0L239.5 58.5M155.0 100.8L157.7 99.7M166.9 95.7L169.6 94.5M186.0 87.4L188.7 86.3M188.4 86.4L191.1 85.2M193.2 84.3L195.9 83.2M195.5 83.3L198.3 82.1M205.1 79.2L207.8 78.0M207.5 78.2L210.2 77.0M209.9 77.1L212.6 75.9M78.7 78.7L81.3 77.3M81.0 77.5L83.6 76.1M83.3 76.2L85.9 74.8M85.6 75.0L88.2 73.6M87.8 73.8L90.5 72.4M90.1 72.6L92.8 71.2M113.1 60.5L115.8 59.1M187.4 79.2L190.3 78.5M200.1 76.3L203.0 75.6M104.4 68.5L107.3 69.0M119.8 71.0L122.7 71.5M122.4 71.5L125.3 71.9M124.9 71.9L127.9 72.4M144.5 102.8L147.2 101.4M146.8 101.6L149.5 100.2M149.1 100.4L151.8 99.1M151.5 99.2L154.1 97.9M153.8 98.1L156.4 96.7M211.8 68.7L214.4 67.4M214.1 67.5L216.8 66.2M216.4 66.4L219.1 65.0M218.7 65.2L221.4 63.8M221.0 64.0L223.7 62.7M223.4 62.8L226.0 61.5" stroke="#11b1d6" stroke-width="2.0"/>
<path d="M129.3 36.1L132.0 34.8M136.3 32.7L139.0 31.4" stroke="#11b1d6" stroke-width="1.5"/>
<path d="M78.4 97.2L81.4 97.4M145.9 100.6L148.9 100.8M148.5 100.7L151.5 100.9M151.1 100.9L154.1 101.0M153.7 101.0L156.7 101.2M156.3 101.1L159.3 101.3M179.7 102.3L182.7 102.5M182.3 102.4L185.3 102.6M184.9 102.6L187.9 102.7M187.5 102.7L190.5 102.9M190.1 102.8L193.1 103.0M192.7 103.0L195.7 103.1M216.1 104.2L219.0 104.3M218.6 104.3L221.6 104.4M221.2 104.4L224.2 104.6M223.8 104.5L226.8 104.7M247.2 105.7L250.2 105.9M214.1 102.7L217.1 102.9M216.7 102.8L219.7 103.1M219.3 103.0L222.3 103.3M226.9 61.1L229.7 62.1M229.4 62.0L232.1 63.1M202.7 50.2L205.7 50.5M241.5 54.4L244.5 54.8M244.1 54.7L247.0 55.0M246.7 55.0L249.6 55.3M249.2 55.3L252.2 55.6M104.5 78.6L107.2 77.3M106.8 77.5L109.5 76.1M109.2 76.3L111.9 75.0M130.2 66.0L132.8 64.6M132.5 64.8L135.2 63.5M134.8 63.7L137.5 62.3M137.2 62.5L139.8 61.2M139.5 61.4L142.2 60.0M141.8 60.2L144.5 58.9M120.0 65.9L122.7 64.6M122.3 64.8L125.0 63.5M124.7 63.7L127.4 62.4M127.0 62.6L129.7 61.3M166.9 43.6L169.6 42.3M169.3 42.5L172.0 41.2M188.9 53.6L191.7 54.7M191.3 54.6L194.1 55.7M210.6 62.5L213.3 63.6M213.0 63.5L215.7 64.6M215.4 64.5L218.1 65.6M84.6 98.7L87.4 97.6M87.1 97.7L89.9 96.7M89.5 96.8L92.3 95.7M91.9 95.9L94.7 94.8M94.3 94.9L97.1 93.8" stroke="#01bac3" stroke-width="2.5"/>
<path d="M105.3 93.8L108.1 94.8M107.7 94.7L110.6 95.6M106.5 56.9L109.3 57.9M108.9 57.8L111.8 58.7M121.2 62.0L124.0 63.0M123.7 62.9L126.5 63.8M172.8 79.9L175.6 80.8M175.3 80.7L178.1 81.7M177.7 81.6L180.6 82.5M61.1 34.0L63.9 35.0M139.7 61.3L142.5 62.3M142.1 62.2L144.9 63.2M144.6 63.0L147.4 64.0M147.0 63.9L149.8 64.9M149.5 64.7L152.3 65.7M151.9 65.6L154.8 66.6M203.5 101.7L206.3 100.9M206.0 101.0L208.9 100.2M66.6 34.1L69.6 34.6M69.2 34.5L72.2 34.9M182.5 50.4L185.5 50.9M200.5 53.0L203.5 53.4M221.1 55.9L224.1 56.3M223.7 56.2L226.7 56.7M226.3 56.6L229.2 57.0M239.1 58.4L242.1 58.8M241.7 58.8L244.7 59.2M244.3 59.1L247.3 59.5M143.0 106.0L145.8 104.8M145.4 105.0L148.2 103.8M147.8 103.9L150.6 102.7M150.2 102.9L152.9 101.7M152.6 101.9L155.3 100.7M169.3 94.7L172.0 93.5M171.7 93.6L174.4 92.4M197.9 82.3L200.7 81.1M200.3 81.3L203.1 80.1M202.7 80.2L205.5 79.0M76.4 79.9L79.0 78.5M244.2 40.5L247.1 39.8M246.7 39.9L249.6 39.1M249.3 39.2L252.2 38.5M76.9 74.8L79.6 73.5M79.3 73.6L81.9 72.3M88.6 102.1L91.6 101.4M190.0 78.6L192.9 77.9M192.5 78.0L195.4 77.4M195.0 77.4L197.9 76.8M197.6 76.9L200.5 76.2M107.0 69.0L109.9 69.4M109.5 69.4L112.5 69.9M112.1 69.8L115.0 70.3M114.7 70.2L117.6 70.7M117.2 70.6L120.2 71.1M156.1 96.9L158.8 95.5M158.4 95.7L161.1 94.4M160.7 94.5L163.4 93.2M163.1 93.4L165.7 92.0M165.4 92.2L168.0 90.8M167.7 91.0L170.4 89.7M170.0 89.8L172.7 88.5M195.5 76.9L198.2 75.6M197.9 75.8L200.5 74.4M200.2 74.6L202.8 73.2M202.5 73.4L205.2 72.1M204.8 72.2L207.5 70.9M207.1 71.1L209.8 69.7M209.4 69.9L212.1 68.5" stroke="#01bac3" stroke-width="2.0"/>
<path d="M131.6 35.0L134.3 33.6M134.0 33.8L136.7 32.5" stroke="#01bac3" stroke-width="1.5"/>
<path d="M158.9 101.3L161.9 101.4M161.5 101.4L164.5 101.5M164.1 101.5L167.1 101.7M166.7 101.7L169.7 101.8M169.3 101.8L172.3 101.9M171.9 101.9L174.9 102.1M174.5 102.1L177.5 102.2M177.1 102.2L180.1 102.3M226.4 104.7L229.4 104.8M244.6 105.6L247.6 105.7M221.9 103.2L224.9 103.5M224.5 103.4L227.5 103.7M227.1 103.6L230.1 103.9M192.4 49.1L195.4 49.4M195.0 49.4L197.9 49.7M197.6 49.6L200.5 50.0M200.1 49.9L203.1 50.2M123.2 69.4L125.9 68.1M125.5 68.3L128.2 66.9M127.8 67.1L130.5 65.8M144.2 59.1L146.8 57.8M77.7 86.0L80.4 84.7M129.4 61.5L132.1 60.2M131.7 60.3L134.4 59.1M134.0 59.2L136.7 57.9M164.6 44.7L167.3 43.4M109.5 21.0L112.3 22.1M111.9 22.0L114.7 23.1M184.1 51.6L186.9 52.8M186.5 52.6L189.3 53.8M217.8 65.5L220.5 66.6M220.2 66.4L222.9 67.6" stroke="#23c1ae" stroke-width="2.5"/>
<path d="M102.8 93.0L105.6 93.9M110.2 95.5L113.0 96.5M112.6 96.4L115.5 97.3M111.4 58.6L114.2 59.6M113.8 59.5L116.7 60.4M116.3 60.3L119.1 61.3M118.8 61.2L121.6 62.1M63.5 34.9L66.3 35.9M66.0 35.8L68.8 36.7M68.4 36.6L71.2 37.6M134.7 59.6L137.6 60.6M137.2 60.5L140.0 61.5M200.9 102.3L203.8 101.6M71.8 34.9L74.7 35.3M179.9 50.1L182.9 50.5M203.1 53.3L206.1 53.8M205.7 53.7L208.6 54.1M213.4 54.8L216.4 55.2M216.0 55.1L218.9 55.6M218.5 55.5L221.5 55.9M246.9 59.5L249.8 59.9M249.4 59.9L252.4 60.3M174.1 92.6L176.8 91.4M176.5 91.6L179.2 90.4M178.8 90.5L181.6 89.3M181.2 89.5L184.0 88.3M183.6 88.5L186.4 87.3M74.1 81.1L76.7 79.7M115.4 59.3L118.1 57.9M231.6 43.8L234.5 43.0M234.2 43.1L237.1 42.4M236.7 42.5L239.6 41.7M239.2 41.8L242.1 41.1M241.7 41.2L244.6 40.4M67.6 79.4L70.3 78.1M72.3 77.1L74.9 75.8M74.6 75.9L77.3 74.6M81.6 72.5L84.3 71.2M83.9 71.3L86.6 70.0M86.2 70.2L88.9 68.9M88.6 69.0L91.3 67.7M167.8 29.8L170.5 28.5M170.1 28.7L172.8 27.4M172.5 27.5L175.2 26.2M172.3 88.7L175.0 87.3M174.7 87.5L177.3 86.1M177.0 86.3L179.6 85.0M179.3 85.1L182.0 83.8M181.6 84.0L184.3 82.6M183.9 82.8L186.6 81.4M186.3 81.6L188.9 80.3M188.6 80.4L191.2 79.1M190.9 79.3L193.6 77.9M193.2 78.1L195.9 76.7" stroke="#23c1ae" stroke-width="2.0"/>
<path d="M229.0 104.8L232.0 105.0M231.6 104.9L234.6 105.1M242.0 105.5L245.0 105.6M229.7 103.8L232.7 104.1M232.3 104.0L235.3 104.3M71.9 99.6L74.7 98.5M184.6 48.2L187.6 48.6M187.2 48.5L190.2 48.8M189.8 48.8L192.8 49.1M76.5 92.4L79.2 91.1M136.4 58.1L139.1 56.8M138.7 57.0L141.4 55.7M162.2 45.8L164.9 44.6M114.3 23.0L117.1 24.1M116.8 24.0L119.5 25.1M181.7 50.6L184.5 51.8" stroke="#37c797" stroke-width="2.5"/>
<path d="M100.4 92.1L103.2 93.1M115.1 97.2L117.9 98.2M73.3 38.3L76.2 39.3M75.8 39.2L78.6 40.1M78.2 40.0L81.1 41.0M198.4 103.0L201.3 102.2M74.4 35.2L77.3 35.6M76.9 35.6L79.9 36.0M177.3 49.7L180.3 50.1M208.2 54.1L211.2 54.5M210.8 54.4L213.8 54.8M140.6 107.0L143.4 105.8M69.5 83.5L72.1 82.1M71.8 82.3L74.4 80.9M117.7 58.0L120.4 56.6M175.2 27.7L177.9 26.3M219.1 47.1L222.0 46.3M221.6 46.4L224.5 45.7M224.1 45.8L227.0 45.0M226.6 45.1L229.5 44.3M229.1 44.4L232.0 43.7M69.9 78.2L72.6 76.9M90.9 67.9L93.6 66.5M93.2 66.7L95.9 65.4M163.2 32.1L165.8 30.8M165.5 31.0L168.2 29.7M86.1 102.7L89.0 102.0" stroke="#37c797" stroke-width="2.0"/>
<path d="M234.2 105.1L237.2 105.2M236.8 105.2L239.8 105.4M239.4 105.3L242.4 105.5M234.9 104.2L237.8 104.5M237.5 104.4L240.4 104.7M240.1 104.6L243.0 104.9M242.6 104.8L245.6 105.1M245.2 105.0L248.2 105.3M247.8 105.2L250.8 105.4M179.5 47.7L182.4 48.0M182.0 48.0L185.0 48.3M74.2 93.5L76.9 92.2M75.3 87.1L78.0 85.8M141.1 55.9L143.8 54.6M159.9 47.0L162.6 45.7M119.2 25.0L121.9 26.1M176.9 48.7L179.6 49.8M179.3 49.7L182.1 50.8M82.2 99.6L85.0 98.5" stroke="#56cc7a" stroke-width="2.5"/>
<path d="M97.9 91.2L100.7 92.2M117.6 98.1L120.4 99.1M80.7 40.9L83.5 41.8M83.2 41.7L86.0 42.7M195.9 103.7L198.8 102.9M79.5 36.0L82.5 36.4M174.8 49.4L177.7 49.8M120.0 56.8L122.7 55.4M172.9 28.9L175.6 27.5M176.3 58.2L179.2 57.4M178.8 57.5L181.7 56.8M181.3 56.9L184.2 56.1M183.8 56.2L186.7 55.5M211.5 49.0L214.4 48.3M214.0 48.4L216.9 47.6M216.5 47.7L219.4 47.0M95.6 65.6L98.3 64.2M97.9 64.4L100.6 63.1" stroke="#56cc7a" stroke-width="2.0"/>
<path d="M120.0 98.9L122.8 99.9M122.5 99.8L125.3 100.8M127.4 101.5L130.2 102.5M132.3 103.2L135.1 104.2M134.7 104.0L137.6 105.0M193.4 104.3L196.3 103.6M82.1 36.3L85.0 36.7M172.2 49.0L175.2 49.4M122.3 55.6L125.0 54.2M170.6 30.1L173.3 28.7M186.3 55.6L189.2 54.8M188.9 54.9L191.8 54.1M191.4 54.2L194.3 53.5M193.9 53.6L196.8 52.8M196.4 52.9L199.3 52.2M198.9 52.3L201.8 51.5M201.4 51.6L204.3 50.9M204.0 51.0L206.9 50.2M209.0 49.7L211.9 48.9M65.3 80.6L68.0 79.2M100.2 63.3L102.9 61.9M104.9 61.0L107.6 59.6M109.6 58.7L112.2 57.3M160.8 33.3L163.5 32.0M83.6 103.3L86.5 102.6" stroke="#8fca4d" stroke-width="2.0"/>
<path d="M61.5 69.1L64.2 67.8" stroke="#8fca4d" stroke-width="1.5"/>
<path d="M145.9 44.0L148.8 44.3M148.4 44.3L151.4 44.6M153.6 44.9L156.6 45.2M174.3 47.1L177.3 47.4M176.9 47.4L179.8 47.7M143.4 54.8L146.1 53.5M157.5 48.1L160.2 46.8M121.6 26.0L124.3 27.1M79.8 100.6L82.6 99.5" stroke="#8fca4d" stroke-width="2.5"/>
<path d="M136.1 85.5L139.1 85.0" stroke="#b8c430" stroke-width="1.5"/>
<path d="M92.1 101.2L94.9 102.2M190.9 105.0L193.8 104.2M84.7 36.7L87.6 37.1M169.6 48.6L172.6 49.0M67.2 84.7L69.8 83.3M168.3 31.3L171.0 29.9M111.9 57.5L114.6 56.2" stroke="#b8c430" stroke-width="2.0"/>
<path d="M140.7 43.5L143.7 43.8M156.2 45.1L159.2 45.5M166.5 46.3L169.5 46.6M169.1 46.5L172.1 46.9M171.7 46.8L174.7 47.2M160.5 51.0L163.2 49.7M167.5 47.6L170.2 46.3M145.8 53.6L148.5 52.4M148.1 52.5L150.8 51.3M150.5 51.4L153.2 50.1M124.0 26.9L126.7 28.1M169.7 45.7L172.4 46.8" stroke="#b8c430" stroke-width="2.5"/>
<path d="M113.0 88.9L115.9 88.5M120.7 87.8L123.6 87.3M123.3 87.4L126.2 86.9M128.4 86.6L131.4 86.2M133.5 85.8L136.5 85.4M146.4 83.9L149.3 83.5M213.2 73.9L216.2 73.4M215.8 73.5L218.8 73.0" stroke="#dcbc28" stroke-width="1.5"/>
<path d="M93.0 89.5L95.8 90.5M170.8 110.3L173.7 109.5M188.4 105.6L191.3 104.9M87.2 37.0L90.2 37.5M149.0 45.7L152.0 46.1M156.8 46.8L159.7 47.2M159.3 47.2L162.3 47.6M135.9 109.1L138.6 107.9M129.2 52.0L131.9 50.6M163.7 33.8L166.4 32.4M166.0 32.6L168.7 31.2M118.9 54.0L121.6 52.7M123.5 51.7L126.2 50.4" stroke="#dcbc28" stroke-width="2.0"/>
<path d="M172.1 45.3L174.8 44.0M174.5 44.1L177.2 42.8M126.4 27.9L129.1 29.1M167.3 44.7L170.0 45.9" stroke="#dcbc28" stroke-width="2.5"/>
<path d="M107.8 89.7L110.8 89.3M151.5 83.1L154.5 82.7M203.0 75.4L205.9 75.0" stroke="#f8ba3d" stroke-width="1.5"/>
<path d="M97.0 102.9L99.8 103.8M88.1 87.8L90.9 88.8M90.5 88.7L93.4 89.7M139.7 105.7L142.5 106.7M100.4 47.7L103.2 48.7M173.3 109.6L176.2 108.9M175.8 109.0L178.7 108.2M178.3 108.3L181.2 107.5M183.3 107.0L186.2 106.2M89.8 37.4L92.8 37.8M143.9 45.0L146.8 45.4M161.4 35.0L164.1 33.6M231.3 97.7L234.1 96.7" stroke="#f8ba3d" stroke-width="2.0"/>
<path d="M94.2 38.4L97.1 38.7M96.7 38.7L99.7 39.0M71.9 94.7L74.5 93.4M164.9 43.7L167.6 44.9M77.4 101.5L80.2 100.4" stroke="#f8ba3d" stroke-width="2.5"/>
<path d="M82.1 93.6L85.1 93.1M102.7 90.5L105.6 90.0M154.1 82.7L157.1 82.3M156.7 82.4L159.6 81.9M200.4 75.8L203.3 75.3" stroke="#fdc933" stroke-width="1.5"/>
<path d="M79.7 97.1L82.6 98.0M168.3 111.0L171.1 110.2M138.7 44.3L141.7 44.7M131.1 111.1L133.8 110.0M145.3 43.5L148.0 42.1M149.9 41.0L152.6 39.7M152.2 39.8L154.9 38.4M223.9 100.4L226.8 99.4M128.2 49.4L130.9 48.1" stroke="#fdc933" stroke-width="2.0"/>
<path d="M132.9 42.6L135.9 42.9M131.2 29.9L134.0 31.0" stroke="#fdc933" stroke-width="2.5"/>
<path d="M84.7 93.2L87.6 92.7M87.3 92.8L90.2 92.4M92.4 92.0L95.4 91.6M95.0 91.6L97.9 91.2M97.5 91.3L100.5 90.8M161.8 81.6L164.8 81.1M164.4 81.2L167.3 80.8M167.0 80.8L169.9 80.4M169.5 80.4L172.5 80.0M179.8 78.9L182.8 78.4M190.1 77.3L193.1 76.9M195.2 76.6L198.2 76.1" stroke="#f6dc29" stroke-width="1.5"/>
<path d="M144.6 107.5L147.4 108.4M148.1 116.3L151.0 115.5M131.0 43.2L134.0 43.6M136.2 43.9L139.1 44.3M128.7 112.2L131.5 111.0M156.8 37.4L159.5 36.0M221.5 101.3L224.3 100.2M132.9 47.1L135.5 45.8M153.8 36.8L156.5 35.4" stroke="#f6dc29" stroke-width="2.0"/>
<path d="M130.3 42.3L133.3 42.6" stroke="#f6dc29" stroke-width="2.5"/>
<path d="M77.0 94.3L79.9 93.9" stroke="#f5ef20" stroke-width="1.5"/>
<path d="M70.6 96.8L73.6 97.0M112.3 40.4L115.2 40.7M122.6 41.5L125.6 41.8M125.2 41.8L128.2 42.1M127.8 42.0L130.7 42.4M69.5 95.8L72.2 94.5M138.4 32.9L141.2 34.0M140.8 33.9L143.6 35.0M143.2 34.8L146.0 36.0M145.6 35.8L148.4 37.0M148.0 36.8L150.8 38.0M150.4 37.8L153.2 38.9M152.8 38.8L155.6 39.9M155.2 39.8L158.0 40.9M157.6 40.8L160.4 41.9" stroke="#f5ef20" stroke-width="2.5"/>
<path d="M74.8 95.4L77.6 96.4M77.3 96.2L80.1 97.2M109.3 107.0L112.1 108.0M111.8 107.9L114.6 108.8M114.2 108.7L117.1 109.6M156.8 111.7L159.7 112.7M159.3 112.6L162.1 113.6M164.2 114.3L167.0 115.3M169.1 116.0L172.0 117.0M171.6 116.8L174.4 117.8M174.0 117.7L176.9 118.7M73.4 98.3L76.2 99.3M88.1 103.6L90.9 104.6M90.5 104.4L93.3 105.4M93.0 105.3L95.8 106.3M100.3 107.9L103.1 108.9M102.8 108.8L105.6 109.8M150.7 115.6L153.6 114.8M155.7 114.3L158.6 113.5M158.2 113.6L161.1 112.8M160.7 112.9L163.6 112.2M163.2 112.3L166.1 111.5M100.1 38.8L103.1 39.3M102.7 39.2L105.6 39.6M107.8 39.9L110.8 40.4M110.4 40.3L113.4 40.7M113.0 40.7L115.9 41.1M115.6 41.0L118.5 41.4M118.1 41.4L121.1 41.8M120.7 41.7L123.7 42.2M123.3 42.1L126.2 42.5M136.1 48.3L138.8 46.9M138.4 47.1L141.1 45.7M140.7 45.9L143.4 44.5M143.0 44.7L145.7 43.3M172.6 118.9L175.4 117.9M177.5 117.2L180.3 116.2M179.9 116.3L182.7 115.3M182.4 115.4L185.2 114.4M187.3 113.6L190.1 112.6M189.7 112.8L192.5 111.7M194.6 111.0L197.4 110.0M197.0 110.1L199.9 109.1M199.5 109.2L202.3 108.2M204.4 107.4L207.2 106.4M206.8 106.6L209.6 105.5M211.7 104.8L214.5 103.8M214.2 103.9L217.0 102.9M216.6 103.0L219.4 102.0M219.1 102.1L221.9 101.1M144.5 41.4L147.2 40.0M151.5 37.9L154.2 36.6" stroke="#f5ef20" stroke-width="2.0"/>
<path d="M122.5 31.4L125.3 30.3M124.9 30.5L127.7 29.4M127.3 29.6L130.1 28.5M129.8 28.6L132.6 27.6M132.2 27.7L135.0 26.7M134.6 26.8L137.4 25.7M137.1 25.9L139.9 24.8M139.5 25.0L142.3 23.9M182.6 104.1L185.6 103.5M185.2 103.5L188.1 102.9M187.7 103.0L190.6 102.4M190.3 102.5L193.2 101.8M192.8 101.9L195.7 101.3M195.3 101.4L198.3 100.8M197.9 100.8L200.8 100.2M200.4 100.3L203.4 99.7M203.0 99.8L205.9 99.1M205.5 99.2L208.4 98.6M208.1 98.7L211.0 98.1M210.6 98.1L213.5 97.5M213.2 97.6L216.1 97.0M215.7 97.1L218.6 96.4M218.2 96.5L221.2 95.9M220.8 96.0L223.7 95.4M223.3 95.5L226.2 94.8M225.9 94.9L228.8 94.3M228.4 94.4L231.3 93.8M231.0 93.8L233.9 93.2M233.5 93.3L236.4 92.7M236.0 92.8L239.0 92.1M238.6 92.2L241.5 91.6M241.1 91.7L244.1 91.1M243.7 91.1L246.6 90.5M246.2 90.6L249.1 90.0M248.8 90.1L251.7 89.4M244.8 45.9L247.4 44.4M247.1 44.6L249.7 43.2M249.4 43.4L252.0 41.9M211.5 57.1L214.4 57.8M214.1 57.7L217.0 58.3M163.1 73.5L166.0 74.1M165.7 74.0L168.6 74.6M168.2 74.5L171.1 75.1M170.8 75.0L173.7 75.6M173.3 75.6L176.2 76.2M175.8 76.1L178.8 76.7M221.7 85.4L224.6 86.0M205.5 79.7L208.4 80.4M208.0 80.3L210.9 81.0M210.5 80.9L213.4 81.6M213.1 81.5L216.0 82.2M215.6 82.1L218.5 82.8M218.1 82.7L221.0 83.4M220.6 83.3L223.5 84.0M223.2 83.9L226.1 84.6M225.7 84.5L228.6 85.2M228.2 85.1L231.1 85.8M230.8 85.7L233.7 86.4M233.3 86.3L236.2 87.0M235.8 86.9L238.7 87.6M245.9 89.3L248.8 90.0M248.5 89.9L251.4 90.6M94.9 94.1L97.8 93.5M97.5 93.6L100.4 93.0M100.0 93.1L102.9 92.5M102.6 92.6L105.5 92.0M105.1 92.1L108.0 91.5M125.5 88.0L128.4 87.4M128.0 87.4L131.0 86.8M130.6 86.9L133.5 86.3M133.1 86.4L136.1 85.8M135.7 85.9L138.6 85.3M138.2 85.4L141.2 84.8M140.8 84.9L143.7 84.3M143.3 84.3L146.3 83.8M145.9 83.8L148.8 83.2M148.4 83.3L151.4 82.7M151.0 82.8L153.9 82.2M153.5 82.3L156.5 81.7M156.1 81.8L159.0 81.2M158.6 81.3L161.5 80.7M161.2 80.7L164.1 80.1M163.7 80.2L166.6 79.6M166.3 79.7L169.2 79.1M168.8 79.2L171.7 78.6M171.4 78.7L174.3 78.1M173.9 78.2L176.8 77.6M176.5 77.6L179.4 77.1M179.0 77.1L181.9 76.5M181.6 76.6L184.5 76.0M184.1 76.1L187.0 75.5M186.6 75.6L189.6 75.0M189.2 75.1L192.1 74.5M191.7 74.6L194.7 74.0M194.3 74.0L197.2 73.4M196.8 73.5L199.8 72.9M199.4 73.0L202.3 72.4M201.9 72.5L204.9 71.9M204.5 72.0L207.4 71.4M207.0 71.5L210.0 70.9M209.6 70.9L212.5 70.4M212.1 70.4L215.1 69.8M214.7 69.9L217.6 69.3M217.2 69.4L220.2 68.8M219.8 68.9L222.7 68.3M222.3 68.4L225.3 67.8M224.9 67.9L227.8 67.3M227.4 67.3L230.4 66.7M230.0 66.8L232.9 66.2M232.5 66.3L235.5 65.7M235.1 65.8L238.0 65.2M237.6 65.3L240.5 64.7M240.2 64.8L243.1 64.2M242.7 64.2L245.6 63.7M245.3 63.7L248.2 63.1M247.8 63.2L250.7 62.6M222.9 74.2L225.8 73.6M225.4 73.7L228.4 73.1M228.0 73.2L230.9 72.6M230.5 72.7L233.5 72.1M233.1 72.2L236.0 71.6M231.3 72.2L234.3 71.6M233.9 71.7L236.8 71.1M236.4 71.1L239.4 70.6M239.0 70.6L241.9 70.0M241.5 70.1L244.5 69.5M244.1 69.6L247.0 69.0M246.6 69.1L249.5 68.5M249.2 68.6L252.1 68.0M59.7 19.6L62.5 18.7" stroke="#463bde" stroke-width="2.0"/>
<path d="M65.4 69.5L68.1 68.2M67.7 68.3L70.4 67.0M70.1 67.2L72.7 65.9M72.4 66.1L75.1 64.8M149.7 28.8L152.4 27.5M152.0 27.7L154.7 26.4M154.3 26.5L157.0 25.2" stroke="#463bde" stroke-width="1.5"/>
<path d="M89.5 100.3L92.3 99.2M91.9 99.3L94.7 98.2M94.3 98.4L97.1 97.3M96.7 97.4L99.5 96.3M74.7 65.0L77.4 63.7M88.8 58.2L91.5 56.9M91.1 57.0L93.8 55.7M93.5 55.9L96.2 54.6M95.8 54.8L98.5 53.5M98.2 53.7L100.8 52.4M100.5 52.5L103.2 51.2M102.8 51.4L105.5 50.1M105.2 50.3L107.9 49.0M147.3 29.9L150.0 28.6M161.4 93.1L164.3 94.0M219.3 76.7L222.2 77.5M221.8 77.4L224.7 78.2" stroke="#474cf0" stroke-width="1.5"/>
<path d="M98.2 40.6L101.0 39.5M100.6 39.7L103.4 38.6M103.0 38.7L105.8 37.7M105.5 37.8L108.3 36.8M107.9 36.9L110.7 35.9M110.3 36.0L113.1 34.9M112.8 35.1L115.6 34.0M115.2 34.2L118.0 33.1M117.6 33.2L120.4 32.2M120.1 32.3L122.9 31.3M157.2 109.5L160.1 108.9M159.7 108.9L162.7 108.3M162.3 108.4L165.2 107.8M180.1 104.6L183.0 104.0M201.7 70.0L204.3 68.6M204.0 68.8L206.6 67.3M206.3 67.5L208.9 66.0M208.5 66.2L211.1 64.8M210.8 64.9L213.4 63.5M213.1 63.7L215.7 62.2M215.3 62.4L217.9 60.9M217.6 61.1L220.2 59.7M242.6 47.2L245.2 45.7M206.4 56.0L209.4 56.6M209.0 56.5L211.9 57.2M152.9 71.4L155.8 72.0M155.5 72.0L158.4 72.5M158.0 72.5L160.9 73.1M160.6 73.0L163.5 73.6M178.4 76.6L181.3 77.2M180.9 77.1L183.9 77.7M214.1 83.8L217.0 84.4M216.6 84.3L219.6 84.9M219.2 84.8L222.1 85.4M224.3 85.9L227.2 86.5M197.9 77.9L200.8 78.6M200.4 78.5L203.3 79.2M202.9 79.1L205.8 79.8M238.3 87.5L241.3 88.2M240.9 88.1L243.8 88.8M243.4 88.7L246.3 89.4M146.5 87.7L149.4 88.3M149.0 88.2L152.0 88.8M151.6 88.8L154.5 89.3M107.6 91.6L110.6 91.0M110.2 91.0L113.1 90.5M112.7 90.5L115.7 89.9M115.3 90.0L118.2 89.4M117.8 89.5L120.8 88.9M120.4 89.0L123.3 88.4M122.9 88.5L125.9 87.9M217.8 75.3L220.7 74.7M220.3 74.8L223.3 74.2M235.6 71.7L238.6 71.1M238.2 71.1L241.1 70.6M240.7 70.6L243.7 70.0M243.3 70.1L246.2 69.5M245.8 69.6L248.8 69.0M248.4 69.1L251.3 68.5M177.8 82.9L180.7 82.3M180.3 82.4L183.3 81.8M182.9 81.9L185.8 81.3M185.4 81.3L188.4 80.8M188.0 80.8L190.9 80.2M223.7 73.7L226.6 73.1M226.2 73.2L229.2 72.6M228.8 72.7L231.7 72.1M112.3 95.9L115.2 95.3M114.8 95.4L117.7 94.8M117.4 94.8L120.3 94.2M119.9 94.3L122.8 93.7M122.5 93.8L125.4 93.2M125.0 93.2L127.9 92.6M127.5 92.7L130.5 92.1M130.1 92.2L133.0 91.5M132.6 91.6L135.6 91.0M188.6 79.9L191.5 79.2M191.1 79.3L194.1 78.7M193.7 78.8L196.6 78.2M196.2 78.2L199.2 77.6M198.8 77.7L201.7 77.1M201.3 77.2L204.3 76.6M203.9 76.6L206.8 76.0M206.4 76.1L209.3 75.5M209.0 75.6L211.9 75.0M211.5 75.0L214.4 74.4M214.0 74.5L217.0 73.9M216.6 74.0L219.5 73.4" stroke="#474cf0" stroke-width="2.0"/>
<path d="M202.6 104.5L205.5 103.8M205.1 103.9L208.0 103.2M207.6 103.3L210.5 102.6M170.5 82.2L173.2 80.8M172.8 80.9L175.5 79.5M175.1 79.7L177.8 78.3M185.8 28.1L188.7 28.9M188.3 28.8L191.2 29.7M190.8 29.6L193.7 30.4M193.3 30.3L196.2 31.1M195.8 31.0L198.7 31.8M198.3 31.7L201.2 32.6M200.8 32.5L203.7 33.3" stroke="#474cf0" stroke-width="2.5"/>
<path d="M82.8 58.6L85.6 57.5M116.7 45.3L119.5 44.2M119.1 44.3L121.9 43.2M121.5 43.4L124.3 42.3M124.0 42.4L126.7 41.3M126.4 41.5L129.2 40.4M128.8 40.5L131.6 39.5M148.2 33.0L150.9 31.9M150.6 32.0L153.4 30.9M153.0 31.1L155.8 30.0M155.4 30.1L158.2 29.0M157.8 29.2L160.6 28.1M127.7 30.7L130.5 29.6M130.2 29.8L133.0 28.8M132.6 28.9L135.4 27.9M135.1 28.0L137.9 27.0M197.5 105.6L200.4 105.0M200.0 105.1L202.9 104.4M210.2 102.7L213.1 102.0M212.7 102.1L215.6 101.5M163.7 85.8L166.3 84.4M166.0 84.6L168.6 83.2M168.3 83.4L170.9 82.0M177.4 78.5L180.1 77.1M179.7 77.3L182.4 75.9M183.3 27.4L186.2 28.2M203.3 33.2L206.2 34.0M205.8 33.9L208.7 34.7M99.1 101.1L102.0 100.4M101.6 100.5L104.5 99.8M240.7 67.4L243.6 66.7M243.3 66.8L246.2 66.1M245.8 66.2L248.7 65.5M248.3 65.6L251.2 64.9M60.3 33.8L63.3 33.4M60.2 25.8L63.0 24.9M62.7 25.0L65.5 24.0M65.1 24.2L68.0 23.2M67.6 23.3L70.4 22.4M70.1 22.5L72.9 21.5M72.5 21.7L75.3 20.7M75.0 20.8L77.8 19.9M77.4 20.0L80.3 19.1" stroke="#465dfa" stroke-width="2.5"/>
<path d="M164.8 107.9L167.7 107.2M167.4 107.3L170.3 106.7M175.0 105.7L177.9 105.1M177.5 105.2L180.5 104.5M219.9 59.9L222.5 58.4M240.3 48.4L242.9 47.0M149.3 83.6L151.9 82.1M151.6 82.3L154.2 80.9M201.8 55.0L204.4 53.5M59.1 49.4L62.0 50.3M61.6 50.2L64.4 51.1M64.1 50.9L66.9 51.8M66.5 51.7L69.4 52.6M69.0 52.5L71.9 53.4M71.5 53.3L74.4 54.2M74.0 54.1L76.8 54.9M201.4 54.8L204.3 55.5M203.9 55.4L206.8 56.0M147.8 70.4L150.7 71.0M150.4 70.9L153.3 71.5M183.5 77.6L186.4 78.2M206.4 82.3L209.4 82.9M209.0 82.8L211.9 83.4M211.5 83.3L214.5 83.9M226.8 86.4L229.7 87.0M104.3 55.7L107.2 56.3M106.8 56.3L109.7 56.9M109.3 56.9L112.2 57.5M111.9 57.5L114.8 58.1M114.4 58.1L117.3 58.7M116.9 58.7L119.8 59.4M119.5 59.3L122.4 60.0M185.2 74.9L188.1 75.6M187.8 75.5L190.7 76.2M190.3 76.1L193.2 76.8M192.8 76.7L195.7 77.4M195.3 77.3L198.3 78.0M141.4 86.7L144.3 87.3M143.9 87.2L146.9 87.8M154.1 89.3L157.1 89.9M156.7 89.8L159.6 90.4M159.2 90.3L162.2 90.9M161.8 90.8L164.7 91.4M164.3 91.3L167.3 91.9M166.9 91.9L169.8 92.5M169.4 92.4L172.4 93.0M172.0 92.9L174.9 93.5M217.8 102.2L220.8 102.8M220.4 102.7L223.3 103.3M222.9 103.2L225.9 103.8M225.5 103.8L228.4 104.3M177.0 83.5L180.0 82.9M179.6 83.0L182.5 82.4M182.1 82.5L185.0 81.9M184.7 82.0L187.6 81.4M187.2 81.5L190.1 80.9M189.8 81.0L192.7 80.4M192.3 80.4L195.2 79.8M194.9 79.9L197.8 79.3M212.7 76.3L215.6 75.7M215.2 75.8L218.2 75.2M167.6 84.9L170.5 84.3M170.1 84.4L173.1 83.8M172.7 83.9L175.6 83.3M175.2 83.4L178.2 82.8M190.5 80.3L193.5 79.7M218.6 74.7L221.5 74.1M221.1 74.2L224.1 73.6M91.9 100.2L94.8 99.6M94.5 99.7L97.4 99.0M97.0 99.1L99.9 98.5M99.6 98.6L102.5 98.0M102.1 98.0L105.0 97.4M104.6 97.5L107.6 96.9M107.2 97.0L110.1 96.4M109.7 96.4L112.7 95.8M135.2 91.1L138.1 90.5M137.7 90.6L140.6 89.9M140.3 90.0L143.2 89.4M142.8 89.5L145.7 88.9M145.3 89.0L148.3 88.3M147.9 88.4L150.8 87.8M150.4 87.9L153.4 87.3M181.0 81.5L183.9 80.8M183.5 80.9L186.4 80.3M186.1 80.4L189.0 79.8M219.1 73.4L222.1 72.8M221.7 72.9L224.6 72.3M224.2 72.4L227.1 71.7M226.8 71.8L229.7 71.2M229.3 71.3L232.2 70.7M231.9 70.8L234.8 70.1" stroke="#465dfa" stroke-width="2.0"/>
<path d="M86.4 59.3L89.1 58.0M107.5 49.1L110.2 47.8M109.9 48.0L112.6 46.7M128.6 39.0L131.3 37.7M130.9 37.8L133.6 36.5M94.7 71.4L97.5 72.4M97.1 72.2L100.0 73.2M99.6 73.0L102.4 74.0M151.5 89.9L154.4 90.8M154.0 90.7L156.9 91.6M156.5 91.5L159.3 92.4M159.0 92.3L161.8 93.2M214.3 75.2L217.2 76.1M216.8 76.0L219.7 76.8M224.3 78.1L227.1 79.0" stroke="#465dfa" stroke-width="1.5"/>
<path d="M64.7 70.2L67.3 68.8M67.0 69.0L69.7 67.6M69.3 67.8L72.0 66.4M72.6 29.0L75.6 29.6M111.1 92.8L113.9 91.7M113.5 91.9L116.3 90.8M115.9 90.9L118.7 89.8M118.3 90.0L121.1 88.9M120.8 89.0L123.6 87.9M130.5 85.2L133.2 84.2M132.9 84.3L135.7 83.2M154.7 110.0L157.6 109.4M169.9 106.8L172.8 106.2M172.5 106.2L175.4 105.6M222.1 58.6L224.8 57.1M238.0 49.7L240.6 48.2M147.0 84.8L149.7 83.4M153.9 81.1L156.5 79.7M156.2 79.8L158.8 78.4M197.3 57.4L199.9 56.0M199.5 56.2L202.2 54.8M211.0 50.0L213.6 48.5M201.6 28.9L204.5 29.7M204.1 29.6L207.0 30.4M246.8 40.8L249.7 41.6M249.4 41.5L252.3 42.2M76.5 54.8L79.3 55.7M79.0 55.6L81.8 56.5M81.4 56.4L84.3 57.3M83.9 57.2L86.8 58.1M86.4 57.9L89.2 58.8M88.9 58.7L91.7 59.6M91.4 59.5L94.2 60.4M93.8 60.3L96.7 61.2M96.3 61.1L99.2 61.9M98.8 61.8L101.7 62.7M183.6 50.8L186.5 51.4M186.2 51.4L189.1 52.0M188.7 51.9L191.6 52.6M191.2 52.5L194.1 53.2M193.8 53.1L196.7 53.7M196.3 53.7L199.2 54.3M198.8 54.2L201.8 54.9M142.7 69.4L145.6 70.0M145.3 69.9L148.2 70.5M186.0 78.1L189.0 78.7M188.6 78.7L191.5 79.2M191.1 79.2L194.1 79.8M193.7 79.7L196.6 80.3M196.2 80.2L199.2 80.8M198.8 80.7L201.7 81.3M201.3 81.2L204.3 81.8M203.9 81.7L206.8 82.3M229.4 86.9L232.3 87.5M58.7 44.9L61.6 45.5M99.2 54.5L102.1 55.1M101.7 55.1L104.7 55.7M122.0 59.9L124.9 60.6M124.5 60.5L127.4 61.2M127.0 61.1L129.9 61.8M129.6 61.7L132.5 62.4M132.1 62.3L135.0 63.0M134.6 62.9L137.5 63.6M137.2 63.5L140.1 64.2M139.7 64.1L142.6 64.8M142.2 64.7L145.1 65.4M144.7 65.3L147.7 66.0M147.3 65.9L150.2 66.6M149.8 66.5L152.7 67.2M152.3 67.1L155.2 67.8M154.9 67.7L157.8 68.4M157.4 68.3L160.3 69.0M159.9 68.9L162.8 69.6M162.5 69.5L165.4 70.2M165.0 70.1L167.9 70.8M167.5 70.7L170.4 71.4M170.0 71.3L173.0 72.0M172.6 71.9L175.5 72.6M175.1 72.5L178.0 73.2M177.6 73.1L180.5 73.8M180.2 73.7L183.1 74.4M182.7 74.3L185.6 75.0M138.8 86.2L141.8 86.8M174.5 93.4L177.5 94.0M177.1 93.9L180.0 94.5M179.6 94.4L182.5 95.0M212.7 101.2L215.7 101.8M215.3 101.7L218.2 102.3M228.0 104.3L231.0 104.9M164.3 86.1L167.2 85.5M166.8 85.6L169.8 85.0M169.4 85.1L172.3 84.5M171.9 84.6L174.9 84.0M174.5 84.1L177.4 83.5M197.4 79.4L200.3 78.8M200.0 78.9L202.9 78.3M202.5 78.4L205.4 77.8M205.1 77.9L208.0 77.3M207.6 77.3L210.5 76.7M210.1 76.8L213.1 76.2M121.7 94.1L124.6 93.5M124.2 93.6L127.2 93.0M126.8 93.1L129.7 92.5M157.4 87.0L160.3 86.4M159.9 86.4L162.9 85.9M162.5 85.9L165.4 85.3M165.0 85.4L168.0 84.8M193.1 79.8L196.0 79.2M216.0 75.2L219.0 74.6M153.0 87.3L155.9 86.7M155.5 86.8L158.5 86.2M158.1 86.3L161.0 85.7M160.6 85.7L163.5 85.1M163.2 85.2L166.1 84.6M165.7 84.7L168.6 84.1M168.2 84.1L171.2 83.5M170.8 83.6L173.7 83.0M173.3 83.1L176.3 82.4M175.9 82.5L178.8 81.9M178.4 82.0L181.4 81.4M234.4 70.2L237.3 69.6M236.9 69.7L239.9 69.1M239.5 69.1L242.4 68.5M242.0 68.6L245.0 68.0M244.6 68.1L247.5 67.5M247.1 67.5L250.0 66.9M249.7 67.0L252.6 66.4" stroke="#3e6ffe" stroke-width="2.0"/>
<path d="M145.7 33.9L148.5 32.8M125.3 31.6L128.1 30.5M137.5 27.1L140.3 26.1M140.0 26.2L142.8 25.2M142.4 25.3L145.2 24.3M195.0 106.2L197.9 105.6M215.2 101.5L218.1 100.9M217.8 101.0L220.7 100.3M182.0 76.1L184.7 74.7M184.3 74.8L187.0 73.4M186.6 73.6L189.3 72.2M188.9 72.4L191.6 71.0M191.2 71.2L193.9 69.8M193.5 70.0L196.1 68.6M195.8 68.7L198.4 67.3M198.1 67.5L200.7 66.1M200.4 66.3L203.0 64.9M202.7 65.1L205.3 63.7M205.0 63.9L207.6 62.5M225.6 52.9L228.3 51.5M227.9 51.7L230.6 50.3M230.2 50.4L232.9 49.0M208.3 34.6L211.2 35.5M210.8 35.3L213.7 36.2M104.1 99.9L107.0 99.2M106.7 99.3L109.6 98.6M137.0 92.1L139.9 91.4M139.5 91.5L142.5 90.8M142.1 90.9L145.0 90.2M144.6 90.2L147.5 89.6M147.1 89.6L150.0 89.0M149.7 89.0L152.6 88.4M152.2 88.4L155.1 87.8M154.7 87.8L157.6 87.2M157.3 87.2L160.2 86.6M159.8 86.6L162.7 86.0M162.3 86.0L165.2 85.3M164.8 85.4L167.7 84.7M167.4 84.8L170.3 84.1M169.9 84.2L172.8 83.5M172.4 83.6L175.3 82.9M225.5 71.0L228.5 70.3M228.1 70.4L231.0 69.7M230.6 69.8L233.5 69.1M233.1 69.2L236.0 68.5M62.9 33.5L65.9 33.1" stroke="#3e6ffe" stroke-width="2.5"/>
<path d="M77.1 63.8L79.8 62.5M79.4 62.7L82.1 61.4M81.8 61.6L84.5 60.3M84.1 60.4L86.8 59.1M112.2 46.9L114.9 45.6M123.9 41.2L126.6 39.9M126.3 40.1L128.9 38.8M133.3 36.7L136.0 35.4M145.0 31.0L147.7 29.7M77.3 65.8L80.2 66.7M79.8 66.6L82.7 67.6M82.3 67.4L85.1 68.4M84.8 68.2L87.6 69.2M87.2 69.0L90.1 70.0M89.7 69.8L92.6 70.8M92.2 70.6L95.0 71.6M102.1 73.8L104.9 74.8M104.5 74.7L107.4 75.6M136.7 85.1L139.5 86.0M139.2 85.9L142.0 86.8M141.6 86.7L144.5 87.6M144.1 87.5L147.0 88.4M146.6 88.3L149.4 89.2M149.1 89.1L151.9 90.0M211.8 74.5L214.7 75.3M226.8 78.9L229.6 79.7M246.7 84.7L249.6 85.5M249.2 85.4L252.1 86.2" stroke="#3e6ffe" stroke-width="1.5"/>
<path d="M71.6 66.6L74.3 65.2M73.9 65.4L76.6 64.0M59.9 26.2L62.8 26.8M62.5 26.8L65.4 27.4M65.0 27.3L67.9 27.9M67.5 27.9L70.5 28.5M70.1 28.4L73.0 29.0M75.2 29.5L78.1 30.1M77.7 30.1L80.6 30.7M80.3 30.6L83.2 31.2M82.8 31.2L85.7 31.8M85.3 31.7L88.3 32.4M87.9 32.3L90.8 32.9M91.7 100.4L94.5 99.3M135.3 83.4L138.1 82.3M152.1 110.6L155.0 109.9M224.4 57.3L227.0 55.9M235.8 51.0L238.4 49.5M158.4 78.6L161.1 77.2M176.7 68.6L179.3 67.2M179.0 67.4L181.6 66.0M181.3 66.2L183.9 64.7M183.6 64.9L186.2 63.5M185.8 63.7L188.5 62.2M213.2 48.7L215.9 47.3M206.6 30.3L209.5 31.0M209.1 30.9L212.0 31.7M244.3 40.1L247.2 40.9M127.8 38.1L130.8 38.8M130.4 38.7L133.3 39.4M140.5 41.0L143.4 41.7M143.1 41.6L146.0 42.2M145.6 42.2L148.5 42.8M148.1 42.7L151.0 43.4M150.7 43.3L153.6 44.0M153.2 43.9L156.1 44.5M155.7 44.5L158.6 45.1M158.3 45.0L161.2 45.7M160.8 45.6L163.7 46.3M163.3 46.2L166.3 46.8M165.9 46.8L168.8 47.4M168.4 47.3L171.3 48.0M170.9 47.9L173.9 48.6M173.5 48.5L176.4 49.1M176.0 49.1L178.9 49.7M178.6 49.6L181.5 50.3M181.1 50.2L184.0 50.9M230.5 103.3L233.3 102.4M137.6 68.3L140.6 68.9M140.2 68.9L143.1 69.5M249.8 91.0L252.7 91.6M61.3 45.5L64.2 46.1M63.8 46.1L66.7 46.7M66.3 46.7L69.2 47.3M68.9 47.3L71.8 47.9M71.4 47.9L74.3 48.5M73.9 48.5L76.8 49.1M76.4 49.1L79.4 49.7M79.0 49.7L81.9 50.3M91.6 52.7L94.5 53.3M94.2 53.3L97.1 53.9M96.7 53.9L99.6 54.5M247.3 42.9L250.2 42.2M249.8 42.3L252.7 41.5M110.8 80.5L113.8 81.1M113.4 81.0L116.3 81.6M115.9 81.5L118.8 82.1M118.5 82.0L121.4 82.6M121.0 82.6L123.9 83.1M123.6 83.1L126.5 83.7M133.8 85.1L136.7 85.7M136.3 85.7L139.2 86.2M182.2 95.0L185.1 95.6M184.7 95.5L187.6 96.1M187.3 96.0L190.2 96.6M189.8 96.5L192.7 97.1M192.4 97.0L195.3 97.6M194.9 97.5L197.8 98.1M210.2 100.6L213.1 101.2M230.6 104.8L233.5 105.4M233.1 105.3L236.1 105.9M116.6 95.1L119.5 94.5M119.1 94.6L122.1 94.0M129.3 92.6L132.3 92.0M131.9 92.1L134.8 91.5M134.4 91.5L137.4 91.0M154.8 87.5L157.8 86.9M195.6 79.3L198.6 78.7M198.2 78.8L201.1 78.2M213.5 75.7L216.4 75.1M190.1 79.1L192.8 77.8M192.5 78.0L195.1 76.7M194.8 76.8L197.5 75.5M89.4 100.7L92.3 100.1" stroke="#2e81f9" stroke-width="2.0"/>
<path d="M120.4 33.3L123.2 32.3M122.9 32.4L125.7 31.4M192.4 106.8L195.3 106.1M220.3 100.4L223.2 99.7M222.8 99.8L225.7 99.1M225.4 99.2L228.3 98.5M227.9 98.6L230.8 97.9M230.4 98.0L233.3 97.3M233.0 97.4L235.9 96.8M235.5 96.8L238.4 96.2M238.0 96.3L240.9 95.6M240.6 95.7L243.5 95.0M243.1 95.1L246.0 94.4M245.6 94.5L248.5 93.8M248.2 93.9L251.1 93.2M207.3 62.6L209.9 61.2M209.6 61.4L212.2 60.0M211.9 60.2L214.5 58.8M214.2 59.0L216.8 57.6M223.4 54.1L226.0 52.7M232.5 49.2L235.2 47.8M244.0 43.1L246.7 41.7M246.3 41.9L249.0 40.5M248.6 40.7L251.2 39.3M213.3 36.1L216.1 36.9M215.8 36.8L218.6 37.6M218.3 37.5L221.1 38.4M220.8 38.2L223.6 39.1M223.3 39.0L226.1 39.8M225.8 39.7L228.6 40.5M228.3 40.4L231.1 41.3M230.8 41.1L233.6 42.0M233.3 41.9L236.1 42.7M235.7 42.6L238.6 43.4M238.2 43.3L241.1 44.2M240.7 44.0L243.6 44.9M243.2 44.8L246.1 45.6M245.7 45.5L248.6 46.3M248.2 46.2L251.1 47.0M109.2 98.7L112.1 98.0M111.7 98.1L114.6 97.4M175.0 83.0L177.9 82.3M177.5 82.4L180.4 81.7M180.0 81.8L182.9 81.1M190.1 79.4L193.0 78.7M192.7 78.8L195.6 78.1M195.2 78.2L198.1 77.5M197.7 77.6L200.6 76.9M202.8 76.4L205.7 75.7M205.3 75.8L208.2 75.1M207.8 75.2L210.8 74.5M210.4 74.6L213.3 73.9M212.9 74.0L215.8 73.3M215.4 73.4L218.3 72.7M218.0 72.8L220.9 72.1M220.5 72.2L223.4 71.5M223.0 71.6L225.9 70.9M65.5 33.2L68.4 32.8" stroke="#2e81f9" stroke-width="2.5"/>
<path d="M60.2 38.0L63.1 38.8M114.5 45.7L117.2 44.4M119.2 43.5L121.9 42.2M121.6 42.3L124.3 41.0M135.6 35.6L138.3 34.3M138.0 34.4L140.7 33.1M107.0 75.5L109.9 76.4M109.5 76.3L112.3 77.2M131.8 83.5L134.6 84.4M134.2 84.3L137.1 85.2M153.6 96.0L156.3 94.6M155.9 94.8L158.6 93.5M158.3 93.7L161.0 92.4M160.6 92.5L163.3 91.2M184.0 81.1L186.7 79.8M209.3 73.8L212.2 74.6M229.3 79.6L232.1 80.4M244.2 83.9L247.1 84.8" stroke="#2e81f9" stroke-width="1.5"/>
<path d="M76.2 64.2L78.9 62.8M78.5 63.0L81.2 61.6M90.4 32.8L93.3 33.5M93.0 33.4L95.9 34.0M137.7 82.4L140.5 81.3M149.6 111.1L152.5 110.5M226.7 56.1L229.3 54.6M229.0 54.8L231.6 53.3M231.2 53.5L233.8 52.1M233.5 52.2L236.1 50.8M215.5 47.5L218.1 46.1M217.8 46.2L220.4 44.8M231.5 38.8L234.1 37.3M233.8 37.5L236.4 36.1M236.1 36.3L238.7 34.9M238.3 35.0L241.0 33.6M211.6 31.6L214.5 32.3M214.1 32.2L217.0 33.0M234.3 37.5L237.2 38.3M236.8 38.2L239.7 38.9M239.3 38.8L242.2 39.6M241.8 39.5L244.7 40.2M132.9 39.3L135.8 39.9M135.4 39.9L138.4 40.5M138.0 40.4L140.9 41.1M228.0 104.1L230.8 103.2M232.9 102.5L235.8 101.6M248.7 98.4L251.5 97.4M231.9 87.4L234.8 88.0M247.2 90.5L250.1 91.1M81.5 50.3L84.4 50.9M84.0 50.9L86.9 51.5M86.6 51.5L89.5 52.1M89.1 52.1L92.0 52.7M244.8 43.5L247.7 42.8M126.1 83.6L129.0 84.2M128.7 84.1L131.6 84.7M131.2 84.6L134.1 85.2M197.5 98.1L200.4 98.7M200.0 98.6L202.9 99.2M202.6 99.1L205.5 99.7M205.1 99.6L208.0 100.2M207.6 100.1L210.6 100.7M235.7 105.8L238.6 106.4M245.9 107.9L248.8 108.5M248.4 108.4L251.3 109.0M111.5 96.1L114.4 95.5M114.0 95.6L117.0 95.0M137.0 91.0L139.9 90.4M139.5 90.5L142.5 89.9M149.7 88.5L152.7 87.9M152.3 88.0L155.2 87.4M200.7 78.3L203.7 77.7M208.4 76.8L211.3 76.2M210.9 76.2L213.9 75.7M173.6 77.3L176.6 77.8M185.4 81.4L188.1 80.1M187.8 80.3L190.5 78.9M197.1 75.7L199.8 74.4M199.5 74.5L202.1 73.2" stroke="#2b91ee" stroke-width="2.0"/>
<path d="M174.1 95.1L177.0 95.3M63.4 66.2L66.2 65.1M143.3 34.9L146.1 33.8M115.5 35.1L118.3 34.1M118.0 34.2L120.8 33.2M184.8 108.6L187.7 107.9M187.4 108.0L190.3 107.3M189.9 107.4L192.8 106.7M216.5 57.8L219.1 56.4M218.8 56.5L221.4 55.1M221.1 55.3L223.7 53.9M234.8 48.0L237.5 46.6M241.7 44.3L244.4 42.9M114.2 97.5L117.2 96.8M116.8 96.9L119.7 96.2M119.3 96.3L122.2 95.6M68.1 32.8L71.0 32.4" stroke="#2b91ee" stroke-width="2.5"/>
<path d="M87.1 101.2L89.8 100.1M62.7 38.7L65.5 39.5M65.2 39.4L68.0 40.3M67.7 40.2L70.5 41.0M97.6 49.0L100.5 49.9M100.1 49.7L102.9 50.6M116.9 44.6L119.6 43.3M140.3 33.3L143.0 32.0M142.6 32.2L145.3 30.9M112.0 77.1L114.8 78.0M114.4 77.9L117.3 78.8M126.8 81.9L129.6 82.8M129.3 82.7L132.1 83.6M151.3 97.1L154.0 95.8M163.0 91.4L165.6 90.1M181.6 82.3L184.3 81.0M199.3 70.9L202.2 71.7M201.8 71.6L204.7 72.4M204.3 72.3L207.2 73.2M206.8 73.1L209.7 73.9M231.8 80.3L234.6 81.1M234.3 81.0L237.1 81.9M239.3 82.5L242.1 83.3M241.8 83.2L244.6 84.0" stroke="#2b91ee" stroke-width="1.5"/>
<path d="M80.9 61.8L83.5 60.5M83.2 60.6L85.8 59.3M85.5 59.4L88.1 58.1M87.8 58.2L90.4 56.9M90.1 57.1L92.7 55.7M92.4 55.9L95.1 54.5M94.7 54.7L97.4 53.3M95.5 33.9L98.4 34.6M98.0 34.5L101.0 35.1M140.1 81.5L142.9 80.4M142.6 80.5L145.3 79.4M145.0 79.6L147.8 78.5M147.4 78.6L150.2 77.5M149.8 77.7L152.6 76.6M152.2 76.7L155.0 75.6M154.7 75.8L157.5 74.7M157.1 74.8L159.9 73.7M159.5 73.9L162.3 72.8M161.9 72.9L164.7 71.8M164.4 72.0L167.1 70.9M166.8 71.0L169.6 70.0M169.2 70.1L172.0 69.0M147.0 111.6L149.9 111.0M216.7 32.9L219.6 33.7M219.2 33.6L222.1 34.3M221.7 34.2L224.6 35.0M224.2 34.9L227.1 35.6M226.7 35.5L229.6 36.3M229.2 36.2L232.1 36.9M231.8 36.9L234.6 37.6M102.2 20.3L105.0 21.1M104.7 21.0L107.5 21.8M107.2 21.7L110.0 22.6M109.7 22.5L112.5 23.3M112.1 23.2L115.0 24.0M114.6 23.9L117.5 24.8M197.0 48.0L199.9 48.9M199.5 48.8L202.3 49.6M202.0 49.5L204.8 50.3M204.5 50.2L207.3 51.1M207.0 51.0L209.8 51.8M209.5 51.7L212.3 52.5M184.8 40.4L187.7 39.7M187.3 39.8L190.2 39.1M189.8 39.2L192.7 38.5M192.4 38.6L195.3 37.9M194.9 37.9L197.8 37.3M197.4 37.3L200.3 36.6M199.9 36.7L202.8 36.0M202.5 36.1L205.4 35.4M220.2 31.9L223.1 31.2M234.5 87.9L237.4 88.5M242.1 89.5L245.0 90.1M244.7 90.0L247.6 90.6M140.0 105.9L142.8 104.9M142.4 105.0L145.2 104.0M144.9 104.2L147.7 103.2M147.3 103.3L150.1 102.3M149.8 102.4L152.6 101.4M152.2 101.6L155.0 100.6M154.7 100.7L157.5 99.7M176.7 92.9L179.5 91.9M179.2 92.0L182.0 91.0M242.3 44.1L245.2 43.4M238.2 106.3L241.2 106.9M240.8 106.9L243.7 107.4M243.3 107.4L246.3 108.0M103.8 97.7L106.8 97.1M106.4 97.2L109.3 96.6M108.9 96.6L111.9 96.1M142.1 90.0L145.0 89.4M144.6 89.5L147.6 88.9M147.2 89.0L150.1 88.4M203.3 77.8L206.2 77.2M205.8 77.3L208.8 76.7M168.5 76.4L171.5 76.9M171.1 76.8L174.0 77.3M194.1 80.8L197.1 81.3M196.7 81.3L199.6 81.8M199.3 81.7L202.2 82.2M201.8 82.2L204.8 82.7M204.4 82.6L207.3 83.1M183.1 82.6L185.8 81.2M201.8 73.4L204.5 72.1M204.1 72.2L206.8 70.9" stroke="#1fa4e2" stroke-width="2.0"/>
<path d="M168.9 94.6L171.9 94.9M171.5 94.8L174.4 95.1M176.7 95.3L179.6 95.6M179.2 95.5L182.2 95.8M181.8 95.8L184.8 96.0M65.9 65.2L68.6 64.1M138.5 36.7L141.3 35.7M140.9 35.8L143.7 34.7M174.7 110.9L177.6 110.3M177.2 110.3L180.1 109.7M179.8 109.8L182.7 109.1M182.3 109.2L185.2 108.5M237.1 46.8L239.8 45.4M239.4 45.6L242.1 44.2" stroke="#1fa4e2" stroke-width="2.5"/>
<path d="M70.2 40.9L73.0 41.8M72.7 41.6L75.5 42.5M90.1 46.8L93.0 47.6M92.6 47.5L95.5 48.4M95.1 48.3L98.0 49.1M102.6 50.5L105.4 51.3M105.1 51.2L107.9 52.1M107.6 51.9L110.4 52.8M63.0 70.6L65.7 69.3M116.9 78.7L119.8 79.6M119.4 79.5L122.2 80.4M121.9 80.3L124.7 81.2M124.3 81.1L127.2 82.0M134.9 105.1L137.6 103.8M137.3 103.9L139.9 102.6M139.6 102.8L142.3 101.5M146.6 99.4L149.3 98.1M148.9 98.2L151.6 96.9M165.3 90.2L168.0 88.9M186.8 67.2L189.7 68.1M189.3 68.0L192.2 68.8M191.8 68.7L194.7 69.5M194.3 69.4L197.2 70.3M196.8 70.1L199.7 71.0M236.8 81.8L239.6 82.6" stroke="#1fa4e2" stroke-width="1.5"/>
<path d="M97.0 53.5L99.7 52.1M101.6 51.1L104.3 49.7M100.6 35.0L103.5 35.7M89.3 101.3L92.1 100.3M171.6 69.1L174.4 68.1M141.9 112.7L144.9 112.1M144.5 112.2L147.4 111.5M117.1 24.6L120.0 25.5M119.6 25.4L122.5 26.2M169.5 40.0L172.4 40.8M172.0 40.7L174.9 41.6M174.5 41.5L177.4 42.3M177.0 42.2L179.9 43.0M179.5 42.9L182.4 43.8M187.0 45.1L189.9 45.9M189.5 45.8L192.4 46.7M192.0 46.6L194.9 47.4M194.5 47.3L197.4 48.1M212.0 52.4L214.8 53.3M214.5 53.1L217.3 54.0M229.4 57.5L232.3 58.4M231.9 58.3L234.8 59.1M234.4 59.0L237.3 59.8M236.9 59.7L239.8 60.6M239.4 60.5L242.3 61.3M241.9 61.2L244.8 62.0M244.4 61.9L247.3 62.8M174.7 42.8L177.6 42.1M177.2 42.2L180.1 41.5M179.7 41.6L182.6 40.9M182.2 41.0L185.1 40.3M205.0 35.5L207.9 34.8M207.5 34.9L210.4 34.2M210.1 34.3L213.0 33.6M212.6 33.7L215.5 33.0M215.1 33.1L218.0 32.4M217.6 32.5L220.5 31.8M153.9 57.3L156.6 56.0M156.2 56.2L158.9 54.8M235.4 101.7L238.3 100.8M237.0 88.5L239.9 89.0M239.6 89.0L242.5 89.6M157.1 99.8L159.9 98.8M171.8 94.6L174.6 93.6M174.3 93.7L177.1 92.7M181.6 91.1L184.5 90.1M184.1 90.3L186.9 89.3M186.5 89.4L189.4 88.4M159.0 64.9L161.9 64.2M161.5 64.3L164.4 63.6M164.1 63.7L167.0 63.0M166.6 63.1L169.5 62.3M191.8 56.8L194.7 56.0M194.3 56.1L197.2 55.4M196.9 55.5L199.8 54.8M239.7 44.8L242.6 44.1M58.4 57.3L61.3 57.8M60.9 57.7L63.9 58.2M63.5 58.2L66.4 58.7M66.0 58.6L69.0 59.1M104.5 65.3L107.4 65.8M107.0 65.7L110.0 66.2M109.6 66.2L112.5 66.7M112.2 66.6L115.1 67.1M130.1 69.7L133.0 70.2M132.7 70.2L135.6 70.7M145.5 72.4L148.4 72.9M148.0 72.8L151.0 73.3M206.9 83.1L209.9 83.6M209.5 83.5L212.5 84.0M136.4 105.5L139.1 104.2M138.8 104.3L141.5 103.0M166.8 90.6L169.5 89.3M169.1 89.4L171.8 88.1M171.4 88.3L174.1 87.0M173.8 87.1L176.5 85.8M176.1 86.0L178.8 84.7M178.4 84.8L181.1 83.5M180.8 83.7L183.5 82.4M206.5 71.1L209.1 69.8M86.8 101.3L89.8 100.6" stroke="#11b1d6" stroke-width="2.0"/>
<path d="M117.1 90.0L120.1 90.3M166.3 94.4L169.3 94.6M184.4 96.0L187.4 96.3M187.0 96.2L190.0 96.5M189.6 96.5L192.6 96.7M192.2 96.7L195.2 97.0M186.5 102.9L189.3 101.9M189.0 102.0L191.8 101.0M191.4 101.1L194.2 100.1M193.9 100.2L196.7 99.2M223.1 89.3L225.9 88.2M225.5 88.4L228.3 87.3M227.9 87.5L230.7 86.4M230.4 86.5L233.2 85.5M232.8 85.6L235.6 84.6M235.2 84.7L238.0 83.7M237.7 83.8L240.5 82.8M240.1 82.9L242.9 81.8M242.6 82.0L245.4 80.9M245.0 81.1L247.8 80.0M247.4 80.2L250.2 79.1M249.9 79.2L252.7 78.2M170.7 26.2L173.4 27.3M173.1 27.1L175.9 28.2M175.5 28.1L178.3 29.2" stroke="#11b1d6" stroke-width="2.5"/>
<path d="M84.6 102.2L87.4 101.1M75.1 42.4L78.0 43.2M77.6 43.1L80.5 44.0M80.1 43.9L83.0 44.7M85.1 45.3L88.0 46.2M87.6 46.1L90.5 46.9M141.9 101.7L144.6 100.3M144.3 100.5L146.9 99.2M167.6 89.1L170.3 87.8M179.3 83.4L182.0 82.1" stroke="#11b1d6" stroke-width="1.5"/>
<path d="M103.9 49.9L106.6 48.5M106.3 48.7L108.9 47.3M108.6 47.5L111.2 46.1M140.9 30.8L143.6 29.4M139.4 113.2L142.3 112.6M189.3 27.5L192.1 28.6M191.8 28.5L194.5 29.6M194.2 29.4L197.0 30.5M196.6 30.4L199.4 31.5M199.0 31.3L201.8 32.4M122.1 26.1L125.0 27.0M124.6 26.8L127.5 27.7M164.5 38.5L167.4 39.4M167.0 39.3L169.9 40.1M182.0 43.6L184.9 44.5M184.5 44.4L187.4 45.2M216.9 53.9L219.8 54.7M219.4 54.6L222.3 55.4M221.9 55.3L224.8 56.2M224.4 56.1L227.3 56.9M226.9 56.8L229.8 57.6M149.4 48.8L152.3 48.1M151.9 48.2L154.8 47.5M154.4 47.6L157.3 46.9M157.0 47.0L159.9 46.3M169.6 44.0L172.5 43.3M172.1 43.4L175.0 42.7M158.5 55.0L161.2 53.6M160.9 53.8L163.5 52.5M163.2 52.6L165.9 51.3M159.6 99.0L162.4 98.0M169.4 95.5L172.2 94.5M169.1 62.4L172.0 61.7M171.6 61.8L174.5 61.1M174.1 61.2L177.1 60.4M176.7 60.5L179.6 59.8M179.2 59.9L182.1 59.2M181.7 59.3L184.6 58.5M184.2 58.6L187.1 57.9M186.8 58.0L189.7 57.3M189.3 57.4L192.2 56.7M199.4 54.9L202.3 54.1M201.9 54.2L204.8 53.5M204.4 53.6L207.3 52.9M234.7 46.0L237.6 45.3M237.2 45.4L240.1 44.7M78.9 60.8L81.8 61.4M81.4 61.3L84.4 61.8M84.0 61.7L86.9 62.2M150.6 73.3L153.5 73.8M141.1 103.2L143.8 101.9M143.4 102.0L146.1 100.7M145.8 100.9L148.5 99.6M148.1 99.7L150.8 98.4M150.4 98.6L153.1 97.3M152.8 97.5L155.5 96.1M155.1 96.3L157.8 95.0M157.4 95.2L160.1 93.8M159.8 94.0L162.5 92.7M162.1 92.9L164.8 91.6M164.4 91.7L167.1 90.4" stroke="#01bac3" stroke-width="2.0"/>
<path d="M119.7 90.2L122.7 90.5M122.3 90.5L125.2 90.7M163.7 94.2L166.7 94.4M194.8 96.9L197.8 97.2M197.4 97.2L200.3 97.4M200.0 97.4L202.9 97.7M202.5 97.6L205.5 97.9M205.1 97.8L208.1 98.1M172.2 111.5L175.1 110.8M184.1 103.9L186.9 102.8M196.3 99.3L199.1 98.2M198.7 98.4L201.5 97.3M201.2 97.5L204.0 96.4M203.6 96.6L206.4 95.5M206.0 95.7L208.8 94.6M208.5 94.7L211.3 93.7M210.9 93.8L213.7 92.8M213.3 92.9L216.1 91.9M215.8 92.0L218.6 91.0M218.2 91.1L221.0 90.0M220.6 90.2L223.4 89.1M177.9 29.0L180.7 30.1M180.3 30.0L183.1 31.1M182.8 30.9L185.5 32.0M185.2 31.9L188.0 33.0M187.6 32.8L190.4 33.9" stroke="#01bac3" stroke-width="2.5"/>
<path d="M82.6 44.6L85.5 45.4M170.0 88.0L172.6 86.7M172.3 86.8L175.0 85.5M174.6 85.7L177.3 84.4M177.0 84.5L179.7 83.2" stroke="#01bac3" stroke-width="1.5"/>
<path d="M133.4 78.9L136.3 78.5M135.9 78.6L138.9 78.2M138.5 78.2L141.5 77.8M141.1 77.9L144.1 77.5M110.9 46.3L113.5 44.9M113.2 45.1L115.8 43.7M115.5 43.9L118.2 42.5M103.1 35.6L106.0 36.2M179.2 104.2L182.0 103.4M201.5 32.3L204.2 33.4M203.9 33.2L206.7 34.3M127.1 27.6L130.0 28.4M162.1 37.8L164.9 38.6M159.5 46.4L162.4 45.7M162.0 45.8L164.9 45.1M164.5 45.2L167.4 44.5M167.1 44.6L170.0 43.9M165.5 51.5L168.2 50.1M167.8 50.3L170.5 49.0M170.1 49.1L172.8 47.8M172.5 48.0L175.1 46.6M174.8 46.8L177.5 45.4M177.1 45.6L179.8 44.3M179.4 44.4L182.1 43.1M181.7 43.3L184.4 41.9M184.1 42.1L186.7 40.7M237.9 101.0L240.7 100.1M137.5 106.8L140.3 105.8M162.0 98.1L164.8 97.1M164.5 97.2L167.3 96.2M166.9 96.4L169.7 95.4M206.9 53.0L209.8 52.2M209.5 52.3L212.4 51.6M212.0 51.7L214.9 51.0M214.5 51.1L217.4 50.4M217.0 50.5L219.9 49.7M219.6 49.8L222.5 49.1M222.1 49.2L225.0 48.5M224.6 48.6L227.5 47.8M227.1 47.9L230.0 47.2M229.6 47.3L232.5 46.6M232.2 46.7L235.1 45.9M86.5 62.2L89.5 62.7M89.1 62.6L92.0 63.1M91.7 63.1L94.6 63.6M84.3 101.8L87.2 101.2" stroke="#23c1ae" stroke-width="2.0"/>
<path d="M124.9 90.7L127.8 91.0M127.4 90.9L130.4 91.2M130.0 91.1L133.0 91.4M132.6 91.4L135.6 91.6M135.2 91.6L138.2 91.9M153.3 93.2L156.3 93.5M155.9 93.5L158.9 93.7M158.5 93.7L161.5 94.0M161.1 93.9L164.1 94.2M207.7 98.1L210.7 98.3M225.9 99.7L228.8 100.0M228.4 99.9L231.4 100.2M231.0 100.2L234.0 100.4M233.6 100.4L236.6 100.7M169.6 112.1L172.5 111.4M162.6 28.5L165.5 29.2M165.1 29.1L168.0 29.7M167.6 29.7L170.6 30.3M170.2 30.2L173.1 30.9M181.7 104.8L184.5 103.7M190.0 33.8L192.8 34.9M192.4 34.7L195.2 35.8M194.9 35.7L197.6 36.8M197.3 36.6L200.1 37.7M199.7 37.6L202.5 38.7M240.8 53.7L243.6 54.8M243.3 54.7L246.0 55.8M245.7 55.6L248.5 56.7M248.1 56.6L250.9 57.7M157.8 33.7L160.7 33.1M160.3 33.1L163.2 32.5" stroke="#23c1ae" stroke-width="2.5"/>
<path d="M82.2 103.1L85.0 102.0M132.6 106.2L135.3 104.9" stroke="#23c1ae" stroke-width="1.5"/>
<path d="M128.2 79.6L131.2 79.2M130.8 79.3L133.8 78.9M143.7 77.6L146.6 77.2M146.3 77.2L149.2 76.8M148.8 76.9L151.8 76.5M151.4 76.5L154.4 76.1M154.0 76.2L157.0 75.8M156.6 75.8L159.5 75.4M124.7 39.1L127.4 37.8M127.0 37.9L129.7 36.6M129.4 36.7L132.0 35.4M105.7 36.1L108.6 36.8M86.9 102.3L89.7 101.2M129.6 28.3L132.5 29.1M159.6 37.1L162.4 37.9M186.4 40.9L189.1 39.6M188.7 39.7L191.4 38.4M240.4 100.2L243.2 99.3M247.8 97.8L250.7 96.9M134.1 106.6L136.8 105.3" stroke="#37c797" stroke-width="2.0"/>
<path d="M137.8 91.8L140.8 92.1M140.4 92.1L143.4 92.3M143.0 92.3L146.0 92.6M145.6 92.5L148.6 92.8M148.2 92.8L151.1 93.0M150.8 93.0L153.7 93.3M210.3 98.3L213.3 98.6M212.9 98.5L215.9 98.8M215.5 98.8L218.5 99.0M218.1 99.0L221.1 99.3M220.7 99.2L223.7 99.5M223.3 99.5L226.2 99.7M236.2 100.6L239.2 100.9M172.7 30.8L175.6 31.4M175.3 31.3L178.2 32.0M179.2 105.7L182.0 104.6M202.1 38.5L204.9 39.6M204.5 39.5L207.3 40.6M207.0 40.4L209.7 41.5M209.4 41.4L212.2 42.5M211.8 42.3L214.6 43.4M214.2 43.3L217.0 44.4M228.7 49.0L231.5 50.1M231.2 49.9L233.9 51.0M233.6 50.9L236.4 52.0M236.0 51.8L238.8 52.9M238.4 52.8L241.2 53.9M155.2 34.2L158.2 33.6" stroke="#37c797" stroke-width="2.5"/>
<path d="M79.8 104.1L82.6 103.0" stroke="#37c797" stroke-width="1.5"/>
<path d="M123.1 80.3L126.0 79.9M125.6 79.9L128.6 79.5M159.1 75.5L162.1 75.1M161.7 75.2L164.7 74.8M108.2 36.7L111.1 37.3M176.6 104.9L179.5 104.1M132.1 29.0L135.0 29.9M134.6 29.8L137.5 30.6M157.1 36.3L159.9 37.2M191.0 38.6L193.7 37.2M193.3 37.4L196.0 36.0M195.7 36.2L198.3 34.9M242.9 99.4L245.7 98.5M245.3 98.6L248.2 97.7M81.7 102.3L84.7 101.7M145.2 39.1L148.1 39.6M147.8 39.5L150.7 40.0M151.3 102.2L154.1 103.2" stroke="#56cc7a" stroke-width="2.0"/>
<path d="M238.8 100.8L241.8 101.1M241.4 101.1L244.4 101.3M167.1 112.7L170.0 112.0M177.8 31.9L180.7 32.5M180.3 32.5L183.3 33.1M182.9 33.0L185.8 33.7M176.8 106.6L179.6 105.5M216.6 44.2L219.4 45.3M219.1 45.2L221.8 46.3M221.5 46.1L224.3 47.2M223.9 47.1L226.7 48.2M226.3 48.0L229.1 49.1M246.9 113.5L249.7 112.6M249.3 112.7L252.2 111.8M152.7 34.8L155.6 34.1M178.1 29.4L181.1 28.7" stroke="#56cc7a" stroke-width="2.5"/>
<path d="M77.4 105.0L80.2 103.9M81.5 94.0L84.4 95.0M84.0 94.9L86.8 95.8M86.5 95.7L89.3 96.6M130.2 107.4L132.9 106.0" stroke="#56cc7a" stroke-width="1.5"/>
<path d="M117.9 81.0L120.9 80.6M120.5 80.6L123.4 80.2M164.3 74.8L167.3 74.4M110.7 37.2L113.7 37.9M174.1 105.5L177.0 104.8M122.6 62.3L125.2 61.0M137.1 30.5L140.0 31.3M154.6 35.6L157.4 36.4M198.0 35.0L200.6 33.7M200.3 33.9L203.0 32.5M135.1 107.7L137.9 106.7M131.8 107.8L134.5 106.5M79.2 102.9L82.1 102.3" stroke="#8fca4d" stroke-width="2.0"/>
<path d="M244.0 101.3L247.0 101.6M164.6 113.3L167.5 112.6M185.4 33.6L188.3 34.2M188.0 34.1L190.9 34.8M190.5 34.7L193.4 35.3M195.6 35.8L198.5 36.5M223.5 42.0L226.4 42.6M228.6 43.1L231.5 43.8M236.2 44.8L239.1 45.4M241.3 45.9L244.2 46.6M244.4 114.3L247.2 113.4M234.3 117.0L237.1 115.9" stroke="#8fca4d" stroke-width="2.5"/>
<path d="M79.0 93.2L81.9 94.2M88.9 96.5L91.8 97.4M91.4 97.3L94.2 98.3" stroke="#8fca4d" stroke-width="1.5"/>
<path d="M112.7 81.7L115.7 81.3M115.3 81.3L118.3 80.9M171.6 106.2L174.5 105.4M127.2 60.0L129.9 58.7M129.6 58.9L132.3 57.6M127.2 47.4L130.1 48.1M112.5 36.3L115.2 35.0M152.9 40.4L155.8 40.9M153.7 103.1L156.6 104.0M136.8 109.7L139.7 110.0M139.4 110.0L142.3 110.3M184.3 111.5L187.1 112.5" stroke="#b8c430" stroke-width="2.0"/>
<path d="M159.5 114.5L162.4 113.8M203.2 37.5L206.1 38.2M210.8 39.2L213.7 39.8M215.9 40.3L218.8 41.0M171.9 108.4L174.7 107.4M241.9 115.1L244.8 114.2M90.8 104.2L93.8 104.6M93.4 104.6L96.3 105.0M95.9 105.0L98.9 105.4M113.0 39.2L116.0 39.7M231.9 117.9L234.7 116.8" stroke="#b8c430" stroke-width="2.5"/>
<path d="M96.3 98.9L99.2 99.9" stroke="#b8c430" stroke-width="1.5"/>
<path d="M99.9 83.4L102.8 83.0M102.4 83.0L105.4 82.6M105.0 82.7L108.0 82.3M169.5 74.1L172.4 73.7M164.1 108.2L167.0 107.5M169.1 106.9L172.0 106.1M141.3 53.3L144.0 52.0M147.1 33.4L150.0 34.3M132.6 108.5L135.4 107.5M129.4 108.9L132.1 107.6M130.8 35.3L133.7 36.0M133.3 35.9L136.2 36.5M135.9 36.4L138.8 37.1M216.0 106.5L218.9 107.0M228.3 116.9L231.3 117.4M230.9 117.4L233.8 117.9M243.8 107.0L246.6 108.0M227.4 107.8L230.2 108.8M181.8 110.6L184.6 111.6M186.7 112.4L189.5 113.4" stroke="#dcbc28" stroke-width="2.0"/>
<path d="M167.1 110.2L169.9 109.2M169.5 109.3L172.3 108.3M115.2 48.0L118.0 49.0M179.4 106.9L182.4 107.2M182.0 107.2L185.0 107.5M202.1 103.9L204.9 102.8M219.3 120.0L222.0 118.8M235.8 112.4L238.5 111.1M239.2 115.1L242.0 114.0M223.8 117.3L226.7 116.6" stroke="#dcbc28" stroke-width="2.5"/>
<path d="M125.6 109.6L128.3 108.3" stroke="#dcbc28" stroke-width="1.5"/>
<path d="M92.1 84.4L95.1 84.0M172.0 73.8L175.0 73.4M174.6 73.5L177.6 73.1M143.6 52.1L146.3 50.8M127.1 110.1L129.8 108.7M124.7 46.8L127.6 47.5M125.7 34.2L128.6 34.9M143.5 38.1L146.4 38.7M186.0 113.3L188.9 112.6M221.8 112.2L224.7 113.0M225.8 116.5L228.7 117.0M246.2 107.8L249.1 108.8" stroke="#f8ba3d" stroke-width="2.0"/>
<path d="M151.9 116.2L154.8 115.5M248.8 112.9L251.5 111.6M204.2 111.5L206.8 110.1M199.6 104.8L202.4 103.8M226.4 116.7L229.1 115.5M228.7 115.6L231.4 114.4M233.4 113.5L236.2 112.2M226.3 116.7L229.2 115.9" stroke="#f8ba3d" stroke-width="2.5"/>
<path d="M120.9 111.9L123.6 110.6M123.2 110.8L125.9 109.5" stroke="#f8ba3d" stroke-width="1.5"/>
<path d="M177.2 73.1L180.1 72.7M156.6 110.3L159.4 109.5M150.7 48.7L153.4 47.4M188.1 30.7L190.8 29.4M130.2 109.4L133.0 108.4M122.4 112.4L125.1 111.0M122.2 46.1L125.1 46.9M157.0 42.6L159.9 41.9M131.2 27.3L133.9 26.0M146.0 38.6L148.9 39.3M148.6 39.2L151.5 39.8M223.6 107.9L226.6 108.4M218.1 115.1L221.0 115.6M161.1 105.6L163.9 106.5M165.2 113.0L168.1 113.3M164.8 104.3L167.6 105.3M167.2 105.2L170.0 106.2M189.2 113.3L192.0 114.3" stroke="#fdc933" stroke-width="2.0"/>
<path d="M100.2 37.2L103.1 37.6M124.2 50.7L126.9 49.5M102.8 43.8L105.7 44.8M107.8 45.5L110.6 46.5M181.0 100.7L183.8 101.7M206.5 110.3L209.1 108.9M169.1 105.8L172.0 106.1M174.2 106.4L177.2 106.7M194.8 106.7L197.6 105.7M197.2 105.8L200.0 104.7M241.6 114.1L244.4 113.0M244.0 113.2L246.8 112.1" stroke="#fdc933" stroke-width="2.5"/>
<path d="M150.0 116.6L152.8 115.6M164.6 111.1L167.4 110.1M80.5 102.5L83.5 103.0M83.1 102.9L86.0 103.4M121.6 109.1L124.6 109.5M246.4 114.0L249.1 112.7M137.2 38.7L139.9 37.4M100.4 43.0L103.2 44.0M163.9 105.3L166.9 105.6M166.5 105.6L169.4 105.9M192.4 107.7L195.2 106.6M228.8 116.0L231.7 115.3M134.5 102.3L137.3 103.2" stroke="#f6dc29" stroke-width="2.5"/>
<path d="M155.3 46.5L158.0 45.2M157.7 45.4L160.4 44.1M160.0 44.2L162.7 42.9M162.4 43.1L165.1 41.8M149.2 34.3L152.1 33.5M151.7 33.6L154.6 32.9M120.6 33.1L123.5 33.7M160.6 41.8L163.5 42.3M191.8 106.7L194.7 107.7M220.7 103.4L223.6 102.7M226.8 113.5L229.7 114.2M236.9 115.9L239.8 116.6M215.5 114.6L218.5 115.1M238.6 118.8L241.5 119.3M158.6 104.7L161.5 105.7M144.5 110.6L147.5 110.9" stroke="#f6dc29" stroke-width="2.0"/>
<path d="M69.2 90.0L72.0 90.9" stroke="#f5ef20" stroke-width="1.5"/>
<path d="M237.6 119.3L240.4 118.2M242.5 117.5L245.3 116.4M144.0 113.6L146.9 112.9M146.5 113.0L149.4 112.2M176.8 115.4L179.7 114.4M181.7 113.7L184.6 112.7M214.5 121.7L217.3 120.7M216.9 120.8L219.7 119.8M221.8 119.1L224.6 118.1M224.2 118.2L227.1 117.2M234.0 114.7L236.9 113.7M236.5 113.8L239.3 112.8M122.8 112.0L125.6 111.0M127.7 110.3L130.5 109.3M146.8 44.8L149.8 44.1M126.5 29.5L129.2 28.2M190.5 101.8L193.4 102.6M193.0 102.5L195.9 103.3M190.4 110.9L193.3 110.2M192.9 110.3L195.8 109.6M195.4 109.7L198.3 108.9M203.0 107.8L205.9 107.1M208.1 106.5L211.0 105.8M210.6 105.9L213.5 105.2M213.1 105.3L216.0 104.6M185.9 112.6L188.8 113.3M193.5 114.4L196.4 115.1M196.1 115.0L199.0 115.7M229.3 114.1L232.2 114.8M231.9 114.7L234.8 115.4M241.1 119.2L244.1 119.7M243.7 119.7L246.6 120.2M246.9 115.0L249.7 116.0M175.9 111.2L178.8 112.0" stroke="#f5ef20" stroke-width="2.0"/>
<path d="M162.2 112.1L165.0 111.0M224.6 120.7L227.4 119.8M227.1 119.9L229.9 119.0M229.5 119.1L232.4 118.2M234.5 117.5L237.3 116.6M72.8 101.3L75.8 101.8M75.4 101.7L78.3 102.2M78.0 102.1L80.9 102.6M106.2 106.6L109.2 107.1M111.3 107.4L114.3 107.9M116.5 108.2L119.4 108.7M129.3 110.3L132.3 110.7M131.9 110.7L134.8 111.2M137.0 111.5L140.0 112.0M144.7 112.7L147.7 113.2M149.9 113.5L152.8 114.0M152.4 113.9L155.4 114.4M157.6 114.8L160.5 115.2M160.1 115.2L163.1 115.6M162.7 115.6L165.6 116.1M165.3 116.0L168.2 116.5M167.8 116.4L170.8 116.9M175.5 117.6L178.5 118.1M178.1 118.0L181.1 118.5M183.2 118.8L186.2 119.3M232.3 120.6L235.0 119.3M234.7 119.5L237.4 118.2M241.7 116.2L244.4 114.9M141.9 36.5L144.6 35.2M144.3 35.4L147.0 34.1M158.4 28.8L161.1 27.5M95.4 41.3L98.3 42.3M185.8 102.5L188.6 103.5M199.7 111.3L202.6 112.1M194.5 108.5L197.4 109.4M211.9 114.2L214.7 115.1M214.3 115.0L217.2 115.9M185.1 110.5L187.9 109.4M190.0 108.6L192.7 107.5M224.7 120.8L227.4 119.7M233.9 114.8L236.8 114.0M141.9 104.7L144.8 105.6M149.4 107.0L152.2 107.9M151.8 107.8L154.7 108.7M161.8 110.9L164.6 111.8" stroke="#f5ef20" stroke-width="2.5"/>
<path d="M132.3 48.7L135.2 49.4M148.8 101.4L151.6 102.3" stroke="#37c797" stroke-width="2.0"/>
<path d="M134.8 49.3L137.7 50.0M238.8 105.4L241.7 106.3" stroke="#56cc7a" stroke-width="2.0"/>
<path d="M62.4 71.4L65.0 70.0M124.9 100.6L127.7 101.6M129.8 102.3L132.7 103.3M78.3 41.7L81.1 42.7M80.7 42.6L83.6 43.6M117.5 55.7L120.3 56.7M200.7 85.4L203.5 86.4M205.6 87.2L208.4 88.2M214.5 43.8L217.3 44.9M86.2 99.8L88.9 98.5M208.1 34.1L211.1 33.5M147.4 110.3L150.2 109.4M149.8 109.5L152.7 108.6M202.6 32.7L205.3 31.3M204.9 31.5L207.6 30.2M124.6 54.4L127.3 53.0M120.5 61.7L123.2 60.4M122.9 60.5L125.5 59.2M145.7 66.7L148.4 65.3M180.4 48.8L183.0 47.4M185.0 46.4L187.7 45.0M187.3 45.2L190.0 43.8M178.4 99.5L181.3 98.5M180.9 98.6L183.7 97.6M183.3 97.8L186.2 96.8M193.4 52.8L196.3 52.0M221.2 46.0L224.1 45.3M206.5 50.3L209.4 49.6M161.5 25.4L164.3 26.4M163.9 26.2L166.8 27.2M198.4 37.9L201.3 38.8M102.6 62.1L105.2 60.8M107.2 59.8L109.9 58.5M59.8 55.2L62.6 54.0M62.2 54.2L64.9 52.9M107.4 30.3L110.3 31.2M162.3 46.5L165.2 47.4M132.9 111.7L135.8 112.4M140.5 113.4L143.4 114.1M148.1 115.1L151.0 115.7" stroke="#8fca4d" stroke-width="2.0"/>
<path d="M75.8 97.1L78.8 97.2M117.8 35.1L120.7 35.8M135.6 39.0L138.5 39.6M148.3 41.7L151.3 42.3M61.0 67.1L63.8 66.0M90.2 48.7L93.0 49.5M92.6 49.4L95.5 50.3M100.1 51.7L103.0 52.5M162.0 113.9L164.9 113.2M181.7 34.9L184.6 35.6M184.3 35.5L187.2 36.2M194.4 37.8L197.3 38.5M193.0 35.3L196.0 35.9M226.0 42.6L229.0 43.2M231.1 43.7L234.0 44.3M233.7 44.2L236.6 44.9M238.7 45.4L241.7 46.0M243.8 46.5L246.7 47.1M246.4 47.0L249.3 47.7M248.9 47.6L251.8 48.2M235.4 108.5L238.2 109.5M240.3 110.2L243.1 111.2M174.4 107.5L177.2 106.5M143.3 43.7L146.2 44.1M151.0 44.6L154.0 44.9M70.4 78.6L73.1 77.3M114.8 56.9L117.5 55.6M158.2 52.2L160.8 50.9M197.2 106.2L200.1 106.9M70.6 89.8L73.2 88.4M155.2 49.2L157.9 47.9M171.7 46.7L174.5 47.8M198.4 57.0L201.2 58.1M172.1 46.7L174.8 47.8M174.5 47.7L177.2 48.8M114.6 54.9L117.4 53.7" stroke="#8fca4d" stroke-width="2.5"/>
<path d="M107.6 82.3L110.6 81.9M110.2 82.0L113.1 81.6M166.9 74.5L169.8 74.1M95.4 90.4L98.3 91.4M85.6 44.3L88.5 45.3M112.6 54.0L115.4 55.0M124.9 61.2L127.6 59.9M131.9 57.8L134.6 56.5M134.3 56.6L137.0 55.3M139.6 31.2L142.5 32.1M152.1 34.9L154.9 35.7M115.7 103.7L118.5 102.5M167.0 48.3L170.0 48.7M142.4 111.9L145.2 111.0M144.9 111.1L147.7 110.2M138.3 108.1L141.0 106.9M126.9 53.2L129.6 51.8M185.2 28.4L187.9 27.0M150.3 64.3L153.0 62.9M173.5 52.4L176.1 51.0M178.1 50.0L180.7 48.6M189.6 44.0L192.3 42.7M196.6 40.5L199.2 39.1M198.9 39.3L201.5 37.9M201.2 38.1L203.8 36.7M92.0 106.0L94.8 105.0M168.9 27.9L171.7 28.9M171.3 28.7L174.2 29.7M173.8 29.6L176.6 30.5M193.5 36.2L196.3 37.2M235.4 50.4L238.2 51.3M114.2 56.3L116.9 55.0M116.5 55.2L119.2 53.9M158.5 34.5L161.2 33.1M109.8 107.2L112.4 105.8M109.9 31.1L112.8 31.9M112.4 31.8L115.3 32.7M159.8 45.8L162.7 46.6M90.6 108.4L93.5 109.1M76.7 103.4L79.6 102.8M137.3 49.9L140.2 50.7M249.2 107.2L252.2 107.8" stroke="#b8c430" stroke-width="2.0"/>
<path d="M138.7 85.1L141.6 84.6M141.3 84.7L144.2 84.2M99.9 28.1L102.8 28.8M170.8 44.5L173.7 45.1M93.9 98.1L96.7 99.1M203.0 29.4L205.9 30.1M127.9 108.5L130.6 107.2M117.9 27.5L120.6 28.6" stroke="#b8c430" stroke-width="1.5"/>
<path d="M120.4 35.7L123.3 36.3M133.1 38.4L136.0 39.0M150.9 42.2L153.8 42.9M153.4 42.8L156.3 43.4M151.3 28.0L154.2 28.7M189.3 36.7L192.2 37.3M191.9 37.2L194.8 37.9M198.1 36.4L201.0 37.0M200.7 36.9L203.6 37.6M205.7 38.1L208.7 38.7M208.3 38.6L211.2 39.3M213.3 39.7L216.3 40.4M218.4 40.9L221.3 41.5M221.0 41.4L223.9 42.1M245.2 111.9L248.1 112.9M158.8 45.4L161.8 45.7M161.4 45.7L164.3 46.0M164.0 46.0L166.9 46.3M68.1 79.7L70.7 78.4M162.8 49.9L165.5 48.6M165.2 48.7L167.8 47.4M169.8 46.4L172.5 45.1M199.7 106.8L202.6 107.5M76.2 84.3L78.9 83.0M167.3 39.0L169.9 37.6M70.6 89.3L73.3 88.0M73.0 88.2L75.7 86.9M152.8 50.3L155.5 49.0M143.5 33.0L146.4 32.3M125.6 28.9L128.4 30.0M107.9 38.4L110.9 38.9M221.3 117.9L224.2 117.2" stroke="#b8c430" stroke-width="2.5"/>
<path d="M115.5 88.5L118.5 88.1M118.1 88.2L121.1 87.7M125.8 87.0L128.8 86.6M131.0 86.2L133.9 85.8M143.8 84.3L146.8 83.8M210.7 74.2L213.6 73.8M218.4 73.1L221.3 72.6M132.6 106.6L135.4 105.6" stroke="#dcbc28" stroke-width="1.5"/>
<path d="M130.5 37.9L133.5 38.5M58.6 68.0L61.4 67.0M157.0 115.0L159.9 114.4M146.2 26.9L149.1 27.5M138.1 43.2L141.1 43.5M204.8 108.0L207.7 108.7M124.9 59.6L127.5 58.2M132.7 57.2L135.4 55.8M98.5 105.4L101.5 105.8M186.2 52.3L189.0 53.4M193.5 55.1L196.3 56.2M105.3 38.0L108.3 38.5M115.6 39.6L118.6 40.1M119.4 52.8L122.1 51.6M112.7 47.2L115.5 48.1M197.3 115.2L199.9 113.8M184.6 107.4L187.5 107.7M202.0 110.9L204.8 111.9M206.9 112.5L209.7 113.5" stroke="#dcbc28" stroke-width="2.5"/>
<path d="M183.2 108.0L186.1 108.8M188.2 109.4L191.1 110.3M193.2 110.9L196.1 111.8M195.7 111.6L198.6 112.5M94.5 102.1L97.4 103.0M137.2 104.9L140.0 105.9M90.5 46.1L93.4 47.1M97.9 48.7L100.7 49.7M102.8 50.5L105.6 51.5M105.2 51.3L108.1 52.3M161.6 108.9L164.5 108.1M166.6 107.6L169.5 106.8M185.9 106.3L188.7 105.5M136.6 55.5L139.3 54.2M139.0 54.4L141.6 53.1M142.1 32.0L145.0 32.8M144.6 32.7L147.5 33.5M149.6 34.1L152.4 35.0M113.4 104.8L116.1 103.6M151.6 46.1L154.6 46.5M154.2 46.5L157.1 46.9M161.9 47.5L164.9 48.0M164.5 47.9L167.4 48.3M139.9 112.6L142.8 111.7M155.0 61.9L157.6 60.5M157.3 60.7L159.9 59.3M168.8 54.7L171.5 53.4M176.2 30.4L179.1 31.4M181.2 32.1L184.0 33.0M188.6 34.6L191.4 35.5M218.1 44.5L221.0 45.5M121.2 52.9L123.9 51.6M78.5 104.4L81.4 103.8M81.0 103.8L84.0 103.2M129.9 37.0L132.7 37.8M139.8 39.9L142.7 40.7M144.8 41.4L147.7 42.2M147.3 42.1L150.2 42.9M154.8 44.3L157.7 45.2M157.3 45.0L160.2 45.9M128.2 34.8L131.2 35.4M138.4 37.0L141.3 37.6M183.5 113.9L186.4 113.2M218.5 106.9L221.5 107.5M233.5 117.8L236.4 118.4" stroke="#dcbc28" stroke-width="2.0"/>
<path d="M94.7 84.0L97.7 83.7M97.3 83.7L100.2 83.3M208.2 115.3L211.1 116.2M91.6 102.4L94.6 102.8M96.8 103.1L99.8 103.5M102.8 48.5L105.6 49.5M159.1 109.6L162.0 108.8M180.8 107.6L183.7 106.9M146.0 51.0L148.7 49.7M169.4 39.7L172.1 38.4M171.7 38.6L174.4 37.3M174.1 37.5L176.8 36.2M176.4 36.3L179.1 35.0M178.8 35.2L181.5 33.9M196.5 108.6L199.3 107.6M198.9 107.8L201.8 106.8M248.7 109.4L251.5 108.4M146.5 45.4L149.4 45.8M137.4 113.4L140.3 112.5M133.5 110.1L136.2 108.9M171.4 35.5L174.0 34.1M159.6 59.5L162.2 58.1M210.4 33.3L213.1 31.9M212.7 32.1L215.4 30.7M146.5 110.5L149.3 109.5M226.4 99.5L229.2 98.5M228.8 98.6L231.6 97.6M233.7 96.8L236.5 95.8M223.1 46.2L225.9 47.2M228.0 47.9L230.8 48.8M230.4 48.7L233.3 49.7M125.9 50.6L128.5 49.3M156.2 35.6L158.8 34.3M156.7 32.3L159.6 31.6M107.8 38.5L110.5 37.2M121.8 31.8L124.5 30.5M158.0 41.3L161.0 41.8M175.9 115.8L178.8 115.1M210.9 105.5L213.8 106.1M221.1 107.4L224.0 107.9M220.7 115.5L223.6 116.1M236.0 118.3L239.0 118.8M166.0 107.2L168.9 108.2M141.9 110.3L144.9 110.6M157.4 112.1L160.4 112.4M160.0 112.4L163.0 112.7M162.6 112.7L165.6 113.0M179.4 109.7L182.2 110.7" stroke="#f8ba3d" stroke-width="2.0"/>
<path d="M105.3 90.1L108.2 89.6M110.4 89.3L113.4 88.9M149.0 83.5L151.9 83.1M205.5 75.0L208.5 74.6M208.1 74.6L211.1 74.2M221.0 72.7L223.9 72.2M107.5 29.9L110.4 30.5M165.8 43.3L168.7 44.0M76.6 92.4L79.4 93.4" stroke="#f8ba3d" stroke-width="1.5"/>
<path d="M128.0 37.3L130.9 38.0M154.4 115.6L157.3 115.0M250.1 113.6L253.0 114.6M208.2 106.4L210.9 107.5M220.3 111.1L223.1 112.2M222.7 112.0L225.5 113.1M239.4 115.9L242.3 115.0M135.5 42.9L138.5 43.2M65.7 80.9L68.4 79.6M119.4 54.6L122.1 53.3M207.3 108.6L210.2 109.3M212.4 109.8L215.3 110.5M214.9 110.4L217.8 111.1M123.3 37.9L126.2 37.2M125.8 37.3L128.7 36.6M128.3 36.7L131.2 36.0M130.9 36.1L133.8 35.4M133.4 35.5L136.3 34.8M88.2 103.7L91.2 104.2M191.1 54.2L193.9 55.3M128.8 28.9L131.5 30.1M131.3 47.6L134.0 46.4M199.5 110.1L202.3 111.1M224.0 117.8L226.7 116.6M231.1 114.5L233.8 113.3" stroke="#f8ba3d" stroke-width="2.5"/>
<path d="M179.8 72.8L182.7 72.4M82.2 97.9L85.0 98.9M84.7 98.7L87.5 99.7M89.6 100.4L92.4 101.4M142.1 106.6L144.9 107.6M140.4 112.6L143.2 111.7M148.3 49.9L151.0 48.6M167.1 40.8L169.8 39.5M181.1 34.1L183.8 32.8M183.5 32.9L186.2 31.6M185.8 31.8L188.5 30.5M190.5 29.6L193.2 28.3M238.9 112.9L241.7 111.9M241.4 112.0L244.2 111.0M243.8 111.2L246.6 110.2M246.3 110.3L249.1 109.3M92.4 37.8L95.3 38.2M141.3 44.6L144.3 45.1M131.5 50.8L134.2 49.4M147.6 42.3L150.3 40.9M159.1 36.2L161.8 34.8M141.6 112.2L144.4 111.2M144.0 111.4L146.9 110.4M247.6 107.4L250.5 106.5M130.5 48.3L133.2 47.0M107.4 108.3L110.1 107.0M124.8 111.2L127.5 109.9M154.2 33.0L157.1 32.2M134.1 47.5L137.0 46.9M136.7 47.0L139.6 46.4M123.1 33.7L126.1 34.3M153.6 40.3L156.6 40.9M189.4 105.8L192.2 106.8M188.6 112.7L191.5 111.9M205.7 104.6L208.7 105.1M208.3 105.1L211.2 105.6M248.7 108.6L251.6 109.6M232.2 109.6L235.0 110.6" stroke="#fdc933" stroke-width="2.0"/>
<path d="M100.1 90.9L103.1 90.4M197.8 76.2L200.8 75.7M110.0 30.4L112.9 31.1M112.6 31.0L115.5 31.7M122.7 29.4L125.5 30.5" stroke="#fdc933" stroke-width="1.5"/>
<path d="M213.0 108.3L215.8 109.3M99.3 38.9L102.3 39.3M156.8 36.4L159.5 35.0M148.9 48.7L151.5 47.3M165.0 40.2L167.6 38.8M85.7 103.3L88.6 103.8M101.1 105.8L104.0 106.3M162.5 42.7L165.2 43.9M102.8 37.6L105.7 38.1M134.8 39.8L137.5 38.5M208.8 109.1L211.4 107.7M189.7 108.5L192.6 109.3" stroke="#fdc933" stroke-width="2.5"/>
<path d="M79.5 94.0L82.5 93.5M89.8 92.4L92.8 92.0M159.2 82.0L162.2 81.5M172.1 80.0L175.1 79.6M174.7 79.7L177.6 79.2M177.2 79.3L180.2 78.8M182.4 78.5L185.3 78.0M185.0 78.1L187.9 77.7M187.5 77.7L190.5 77.3M192.7 76.9L195.6 76.5M117.6 32.2L120.5 32.9M153.1 40.4L156.0 41.1M74.1 91.6L77.0 92.5" stroke="#f6dc29" stroke-width="1.5"/>
<path d="M73.2 96.9L76.2 97.1M237.0 116.7L239.8 115.8M101.9 39.2L104.9 39.6M124.1 52.3L126.8 51.0M235.1 115.3L238.0 116.0M240.2 116.5L243.1 117.2M242.7 117.1L245.6 117.8M139.6 53.5L142.3 52.1M141.9 52.3L144.6 50.9M144.2 51.1L146.9 49.7M153.5 46.3L156.1 44.9M155.8 45.1L158.4 43.7M158.1 43.9L160.7 42.5M160.4 42.7L163.0 41.3M162.7 41.4L165.3 40.1M103.6 106.2L106.6 106.7M124.2 109.5L127.1 109.9M126.7 109.9L129.7 110.3M164.4 43.9L167.2 45.0M133.6 30.9L136.4 32.0M160.0 41.8L162.8 42.9M74.9 102.5L77.7 101.4M183.4 101.6L186.2 102.6M192.2 109.2L195.1 110.0M161.3 105.0L164.3 105.4M246.4 112.2L249.2 111.1M137.0 103.1L139.8 104.0M166.7 112.4L169.6 113.3" stroke="#f6dc29" stroke-width="2.5"/>
<path d="M228.1 121.2L231.0 122.0M87.1 99.6L90.0 100.5M99.5 103.7L102.3 104.7M149.0 112.3L151.9 111.5M151.5 111.6L154.4 110.8M154.0 110.9L156.9 110.2M165.7 111.6L168.6 110.9M153.0 47.6L155.7 46.3M164.7 42.0L167.4 40.7M212.0 122.6L214.8 121.6M95.0 38.1L97.9 38.5M133.6 43.6L136.5 44.0M133.8 49.5L136.5 48.1M154.5 38.6L157.2 37.2M85.9 43.5L88.7 42.3M139.2 46.4L142.1 45.8M154.5 43.1L157.4 42.5M124.2 30.6L126.9 29.4M194.3 107.5L197.1 108.5M196.8 108.4L199.6 109.3M218.2 104.1L221.1 103.3M223.2 102.8L226.1 102.1M231.4 103.8L234.3 104.3M147.1 110.9L150.1 111.2M149.7 111.2L152.7 111.5" stroke="#f6dc29" stroke-width="2.0"/>
<path d="M69.3 95.5L72.2 95.1M71.8 95.1L74.8 94.7M74.4 94.7L77.4 94.3M120.2 32.8L123.1 33.5M130.3 35.1L133.2 35.8M140.4 37.5L143.3 38.1M150.6 39.8L153.5 40.5M66.7 89.2L69.5 90.1M71.6 90.8L74.5 91.7M127.7 108.3L130.5 107.3M139.6 36.2L142.4 37.3" stroke="#f5ef20" stroke-width="1.5"/>
<path d="M213.2 116.8L216.0 117.6M215.7 117.5L218.5 118.4M218.2 118.3L221.0 119.1M76.2 100.3L79.1 100.7M78.8 100.6L81.7 101.0M89.1 102.0L92.0 102.4M101.9 103.8L104.9 104.2M104.5 104.1L107.5 104.5M109.7 104.8L112.6 105.2M120.0 106.2L122.9 106.6M122.6 106.6L125.5 107.0M132.9 108.0L135.8 108.4M145.7 109.7L148.7 110.1M158.6 111.5L161.6 111.9M161.2 111.8L164.2 112.2M163.8 112.2L166.7 112.6M174.1 113.6L177.0 114.0M184.4 115.0L187.3 115.4M187.0 115.3L189.9 115.7M197.3 116.7L200.2 117.2M207.6 118.2L210.5 118.6M220.4 119.9L223.4 120.3M225.6 120.6L228.6 121.0M228.2 121.0L231.1 121.4M69.9 93.8L72.7 94.7M72.4 94.6L75.2 95.5M101.9 104.5L104.8 105.5M104.4 105.4L107.2 106.3M106.8 106.2L109.7 107.2M147.0 108.3L149.8 109.3M149.5 109.2L152.3 110.1M151.9 110.0L154.8 111.0M154.4 110.9L157.2 111.8M161.8 113.4L164.6 114.4M166.7 115.1L169.5 116.1M176.5 118.5L179.3 119.5M70.9 97.5L73.7 98.5M75.8 99.2L78.6 100.2M78.3 100.1L81.1 101.1M80.7 101.0L83.5 102.0M83.2 101.8L86.0 102.8M85.6 102.7L88.4 103.7M95.4 106.2L98.2 107.2M97.9 107.0L100.7 108.0M105.2 109.6L108.0 110.6M226.5 121.2L229.3 120.1M228.9 120.2L231.7 119.1M233.7 118.2L236.5 117.0M245.7 113.2L248.5 112.0M232.8 121.2L235.6 120.1M235.2 120.3L238.0 119.2M240.1 118.4L242.8 117.3M244.9 116.5L247.7 115.4M247.3 115.6L250.1 114.5M249.8 114.7L252.5 113.6M141.5 114.3L144.4 113.5M153.2 114.9L156.1 114.2M179.3 114.6L182.1 113.6M219.4 119.9L222.2 118.9M226.7 117.3L229.5 116.3M229.1 116.4L232.0 115.4M231.6 115.5L234.4 114.5M97.5 38.5L100.5 38.9M105.3 39.6L108.2 40.0M125.9 42.5L128.8 42.9M128.4 42.8L131.4 43.2M64.9 86.0L67.5 84.6M136.7 53.4L139.4 52.0M150.6 46.2L153.2 44.9M152.9 45.0L155.6 43.7M125.3 111.1L128.1 110.1M175.0 118.1L177.9 117.0M184.8 114.5L187.6 113.5M192.2 111.9L195.0 110.9M201.9 108.3L204.7 107.3M209.3 105.7L212.1 104.7M223.0 119.1L225.9 118.3M228.0 117.7L230.9 116.8M195.5 123.7L198.3 122.8M200.5 122.1L203.3 121.2M202.9 121.3L205.8 120.5M205.4 120.6L208.3 119.7M207.9 119.8L210.8 118.9M210.4 119.0L213.2 118.1M212.9 118.2L215.7 117.4M220.3 115.9L223.2 115.0M225.3 114.4L228.1 113.5M227.8 113.6L230.6 112.7M230.2 112.8L233.1 111.9M235.2 111.3L238.1 110.4M242.7 109.0L245.5 108.1M197.7 122.9L200.6 122.0M200.2 122.1L203.0 121.3M202.7 121.4L205.5 120.5M207.6 119.9L210.5 119.0M210.1 119.1L213.0 118.3M212.6 118.4L215.5 117.5M217.6 116.9L220.5 116.0M220.1 116.1L223.0 115.3M222.6 115.4L225.4 114.5M227.6 113.9L230.4 113.0M237.5 110.9L240.4 110.0M242.5 109.4L245.4 108.5M135.2 46.0L137.9 44.7M137.5 44.8L140.2 43.5M139.9 43.7L142.5 42.3M142.2 42.5L144.9 41.2M146.8 40.2L149.5 38.9M149.2 39.1L151.9 37.7M95.4 39.3L98.2 38.0M100.2 37.1L102.9 35.9M102.5 36.1L105.3 34.8M78.6 104.7L81.6 105.2M81.2 105.2L84.2 105.7M91.5 106.9L94.4 107.4M94.0 107.4L97.0 107.9M99.1 108.3L102.1 108.8M99.0 109.6L102.0 110.1M141.7 45.9L144.7 45.2M149.4 44.2L152.3 43.6M118.1 32.6L121.0 33.2M195.5 103.2L198.4 104.0M198.0 109.0L200.9 108.3M188.5 113.2L191.4 113.9M191.0 113.8L193.9 114.5M198.6 115.6L201.5 116.3M233.9 104.3L236.9 104.8M236.5 104.7L239.4 105.3M241.6 105.7L244.5 106.3M234.7 110.5L237.5 111.5M237.1 111.4L239.9 112.4M242.0 113.2L244.8 114.2M244.4 114.1L247.2 115.1M249.3 115.9L252.1 116.9M173.3 110.6L176.2 111.3M178.4 111.9L181.3 112.7M180.9 112.6L183.8 113.3" stroke="#f5ef20" stroke-width="2.0"/>
<path d="M230.0 114.8L232.8 115.9M237.2 117.7L240.0 118.7M152.5 115.7L155.3 114.7M154.9 114.8L157.7 113.7M157.3 113.9L160.1 112.8M159.8 113.0L162.6 111.9M217.2 123.1L220.0 122.2M219.6 122.3L222.5 121.4M222.1 121.5L225.0 120.6M232.0 118.3L234.9 117.4M140.9 114.5L143.5 113.1M143.2 113.3L145.8 111.8M145.5 112.0L148.1 110.6M104.5 39.5L107.5 39.8M107.1 39.8L110.1 40.1M109.7 40.1L112.6 40.4M114.8 40.6L117.8 41.0M117.4 40.9L120.4 41.2M120.0 41.2L123.0 41.5M126.5 51.2L129.1 49.9M135.8 46.6L138.5 45.3M138.1 45.5L140.8 44.2M140.5 44.4L143.2 43.0M142.8 43.2L145.5 41.9M145.1 42.1L147.8 40.8M149.8 39.8L152.5 38.5M230.1 114.0L233.0 114.7M247.8 118.3L250.7 119.0M71.6 86.7L74.2 85.3M68.3 90.4L71.0 89.2M108.8 107.0L111.7 107.5M113.9 107.8L116.9 108.3M119.0 108.6L122.0 109.1M134.5 111.1L137.4 111.6M139.6 111.9L142.5 112.4M142.2 112.3L145.1 112.8M147.3 113.1L150.2 113.6M155.0 114.4L157.9 114.8M170.4 116.8L173.4 117.3M173.0 117.2L175.9 117.7M180.7 118.4L183.6 118.9M185.8 119.3L188.8 119.7M132.9 31.7L135.7 32.8M140.2 34.5L143.0 35.6M142.6 35.5L145.4 36.5M145.0 36.4L147.8 37.5M152.3 39.2L155.1 40.3M154.7 40.2L157.5 41.2M157.1 41.1L159.9 42.2M162.0 43.0L164.8 44.0M136.0 31.9L138.8 33.0M230.0 121.7L232.7 120.4M237.0 118.4L239.7 117.1M239.4 117.3L242.1 116.0M244.1 115.1L246.8 113.8M139.5 37.6L142.3 36.3M149.0 33.2L151.7 31.9M151.3 32.1L154.0 30.8M153.7 31.0L156.4 29.7M97.9 42.2L100.7 43.1M188.3 103.4L191.1 104.4M190.7 104.3L193.5 105.3M193.1 105.2L195.9 106.3M194.7 109.9L197.6 110.7M227.1 119.8L229.9 118.7M241.5 112.9L244.4 112.1M154.3 108.6L157.2 109.5M156.8 109.3L159.7 110.2" stroke="#f5ef20" stroke-width="2.5"/>
</g>
<polygon points="33.1,60.9 37.0,58.9 50.3,58.6 53.4,60.6 58.8,65.6 63.5,70.3 65.1,75.7 64.6,80.4 67.4,86.6 69.8,93.7 73.7,100.7 76.8,103.0 84.6,104.6 90.0,106.1 93.2,108.9 98.6,109.7 110.0,108.5 117.5,108.0 121.8,110.4 137.8,111.8 150.9,114.7 166.9,116.8 178.5,117.6 184.4,119.1 196.0,122.0 204.7,121.4 216.4,121.4 230.9,120.0 245.5,119.1 251.6,118.5 251.6,127.0 45.6,127.0 45.6,118.6 44.8,112.4 42.5,107.7 43.3,103.0 46.1,96.8 45.6,89.0 44.0,86.6 37.0,92.9 33.1,98.3" fill="#fff"/>
<polygon points="33.1,64.8 37.0,64.3 39.4,66.4 39.7,69.5 37.8,71.8 33.1,72.6" fill="#7dfd80" stroke="#222" stroke-width="0.8"/>
<polyline points="33.1,60.9 37.0,58.9 50.3,58.6 53.4,60.6 58.8,65.6 63.5,70.3 65.1,75.7 64.6,80.4 67.4,86.6 69.8,93.7 73.7,100.7 76.8,103.0 84.6,104.6 90.0,106.1 93.2,108.9 98.6,109.7 110.0,108.5 117.5,108.0 121.8,110.4 137.8,111.8 150.9,114.7 166.9,116.8 178.5,117.6 184.4,119.1 196.0,122.0 204.7,121.4 216.4,121.4 230.9,120.0 245.5,119.1 251.6,118.5" fill="none" stroke="#151515" stroke-width="1.1"/>
<polyline points="33.1,98.3 37.0,92.9 44.0,86.6 45.6,89.0 46.1,96.8 43.3,103.0 42.5,107.7 44.8,112.4 45.6,118.6 45.6,127.0" fill="none" stroke="#222" stroke-width="0.9"/>
<g transform="translate(0.0,0)">
<path d="M71.8 91.1h1.8M119.6 109.1h1.2M133.4 106.4h1.1M194.4 121.7h1.3M64.7 69.8h1.0M92.5 109.3h1.4M65.8 80.6h1.0M67.8 82.3h1.1M63.0 64.2h2.2M111.1 104.7h1.0M81.5 102.3h1.8M214.0 116.8h1.7M63.3 66.6h1.7M248.9 117.4h1.8M63.1 71.2h2.1M158.4 114.0h1.9M65.8 84.9h1.0M208.4 121.7h2.0M227.5 121.8h1.3M184.8 119.1h1.7M77.2 99.8h1.3M246.1 117.3h2.0M170.1 115.2h1.8M93.7 105.7h2.0M71.7 95.9h1.5M92.5 103.2h1.7M208.3 116.7h2.0" stroke="#fdc933" stroke-width="1.7" stroke-linecap="round" fill="none"/>
<path d="M73.9 98.6h1.2M95.5 102.8h1.3M64.0 71.4h1.8M65.9 87.0h1.3M106.0 106.4h1.7M64.2 74.3h1.9M118.9 107.2h2.0M84.8 101.1h1.2M67.7 89.5h1.0M79.6 100.7h1.1M62.9 70.4h1.8" stroke="#f6dc29" stroke-width="1.7" stroke-linecap="round" fill="none"/>
<path d="M176.5 114.5h1.1M74.9 98.7h2.1M94.5 104.8h1.4M235.4 117.8h2.0M118.2 108.5h1.3M65.6 77.4h2.1M75.1 96.2h1.4M75.6 97.2h1.7M93.3 104.9h1.3M174.8 114.4h1.3M190.9 122.5h2.2M66.3 77.8h2.0M149.6 111.3h2.0M195.9 117.7h1.2M82.2 99.3h1.2M97.1 106.3h2.0M192.4 121.0h1.2M117.2 106.3h2.0M188.7 119.3h1.4" stroke="#07b4d0" stroke-width="1.7" stroke-linecap="round" fill="none"/>
<path d="M75.5 98.7h1.6M92.2 103.0h1.3M59.8 66.0h1.5M246.6 114.3h2.0M64.7 75.8h2.0M141.1 106.9h1.4M62.7 65.0h1.8M218.2 117.5h1.6M99.0 103.3h2.1M182.4 113.7h1.3M250.1 115.6h1.6M245.3 117.0h1.5M87.5 104.5h1.3M77.8 100.8h1.4M59.8 63.7h1.8M248.9 116.2h1.8M120.0 104.1h1.4" stroke="#f4e824" stroke-width="1.7" stroke-linecap="round" fill="none"/>
<path d="M175.3 114.4h1.0M168.7 116.3h1.5M190.3 115.8h1.8M67.4 85.8h1.9M86.0 103.6h1.5M77.6 99.4h1.4M105.2 108.7h2.0M69.2 93.3h1.8M184.4 119.4h1.3M181.8 116.7h1.6M143.9 111.5h1.3M140.6 109.3h1.5M79.6 103.2h1.3M150.2 111.6h2.0M213.6 119.0h1.2M93.0 107.2h1.0M247.4 115.4h2.2M234.4 117.9h1.9M67.5 77.9h1.0" stroke="#dcbc28" stroke-width="1.7" stroke-linecap="round" fill="none"/>
<path d="M211.4 122.4h2.0M213.8 116.0h1.5M215.8 117.7h2.1M76.2 101.8h1.7M240.2 117.9h1.6M194.7 119.5h1.3M111.1 106.1h1.8M202.9 121.4h1.8M215.8 122.8h1.2M158.9 110.4h1.4M78.7 98.9h1.6M209.2 117.1h1.3M90.2 106.7h1.7M79.8 101.9h1.4M161.5 113.1h1.4M189.2 119.6h1.8M66.9 72.5h1.1M134.2 108.7h1.6M68.0 78.0h1.1M237.7 116.8h1.9M76.8 100.8h1.6M107.3 108.2h1.2M158.1 116.2h1.5" stroke="#f9d52d" stroke-width="1.7" stroke-linecap="round" fill="none"/>
<path d="M103.6 107.0h2.0M96.8 106.7h1.3M63.6 82.4h1.9M63.3 65.1h1.6M83.3 101.5h1.3M74.4 92.3h2.2M100.6 106.2h2.0M136.7 109.3h1.2M122.6 105.3h2.0M138.6 111.0h1.2M76.5 97.8h1.3M115.4 102.8h1.7M247.0 115.5h2.0M180.0 114.2h1.5M122.7 109.0h1.7M145.9 108.0h1.8M116.5 110.8h1.8M141.4 111.3h1.6M101.3 106.0h1.1M108.8 102.5h2.1" stroke="#4acb84" stroke-width="1.7" stroke-linecap="round" fill="none"/>
<path d="M111.1 107.7h2.1M82.0 103.7h1.2M161.9 112.5h2.0M77.2 95.9h1.6M68.8 76.3h1.8M227.2 117.8h1.3M102.9 108.8h2.0M143.8 108.6h1.7M96.5 107.1h1.8M94.5 106.4h1.4M181.4 114.7h1.8M73.5 98.9h1.8M118.1 107.5h2.0M186.8 117.8h1.3M149.1 110.7h1.4M197.6 117.6h2.0M164.3 112.6h1.6" stroke="#f5ef20" stroke-width="1.7" stroke-linecap="round" fill="none"/>
<path d="M244.0 118.8h1.1M74.5 100.5h1.0M89.9 106.6h1.9M199.8 119.4h1.9M68.8 80.2h1.3M247.5 116.7h1.7M178.8 112.6h2.1M226.8 121.6h2.1M59.9 66.8h1.9M228.8 117.2h1.8M83.1 102.6h1.5M73.8 94.9h1.6M96.3 108.4h1.3M67.6 81.5h2.0M200.0 119.1h2.2M131.5 109.5h1.6M77.4 99.0h1.8" stroke="#f8ba3d" stroke-width="1.7" stroke-linecap="round" fill="none"/>
</g>
</g>
<line x1="33.2" y1="127.0" x2="251.6" y2="127.0" stroke="#333" stroke-width="1"/>
<line x1="33.2" y1="127.0" x2="33.2" y2="124.8" stroke="#333" stroke-width="0.7"/>
<text x="33.2" y="141" text-anchor="middle" font-size="9.8" fill="#333">56</text>
<line x1="64.4" y1="127.0" x2="64.4" y2="124.8" stroke="#333" stroke-width="0.7"/>
<text x="64.4" y="141" text-anchor="middle" font-size="9.8" fill="#333">57</text>
<line x1="95.6" y1="127.0" x2="95.6" y2="124.8" stroke="#333" stroke-width="0.7"/>
<text x="95.6" y="141" text-anchor="middle" font-size="9.8" fill="#333">58</text>
<line x1="126.8" y1="127.0" x2="126.8" y2="124.8" stroke="#333" stroke-width="0.7"/>
<text x="126.8" y="141" text-anchor="middle" font-size="9.8" fill="#333">59</text>
<line x1="158.0" y1="127.0" x2="158.0" y2="124.8" stroke="#333" stroke-width="0.7"/>
<text x="158.0" y="141" text-anchor="middle" font-size="9.8" fill="#333">60</text>
<line x1="189.2" y1="127.0" x2="189.2" y2="124.8" stroke="#333" stroke-width="0.7"/>
<text x="189.2" y="141" text-anchor="middle" font-size="9.8" fill="#333">61</text>
<line x1="220.4" y1="127.0" x2="220.4" y2="124.8" stroke="#333" stroke-width="0.7"/>
<text x="220.4" y="141" text-anchor="middle" font-size="9.8" fill="#333">62</text>
<line x1="251.6" y1="127.0" x2="251.6" y2="124.8" stroke="#333" stroke-width="0.7"/>
<text x="251.6" y="141" text-anchor="middle" font-size="9.8" fill="#333">63</text>
<text x="29.6" y="130.9" text-anchor="end" font-size="9.8" fill="#333">25</text>
<text x="29.6" y="99.7" text-anchor="end" font-size="9.8" fill="#333">26</text>
<text x="29.6" y="68.5" text-anchor="end" font-size="9.8" fill="#333">27</text>
<text x="29.6" y="37.3" text-anchor="end" font-size="9.8" fill="#333">28</text>
<text x="142.4" y="154" text-anchor="middle" font-size="9.85" fill="#333">Longitude</text>
<text x="149.8" y="13.7" text-anchor="middle" font-size="9.9" font-weight="bold" fill="#000">Corrected SNR before data preparationn(dB)</text>
</g>
<g>
<rect x="320.5" y="18.0" width="218.8" height="109.0" fill="#7dfd80"/>
<clipPath id="clip2"><rect x="320.5" y="17.5" width="218.8" height="109.5"/></clipPath>
<g clip-path="url(#clip2)">
<g transform="translate(287.3,0)" fill="none" stroke-linecap="butt">
<path d="M84.8 86.6L87.7 87.4M87.3 87.3L90.2 88.2M89.8 88.1L92.7 88.9M92.3 88.8L95.1 89.7M94.8 89.6L97.6 90.4M97.3 90.3L100.1 91.2M99.7 91.1L102.6 91.9M102.2 91.8L105.1 92.7M104.7 92.6L107.6 93.4M109.7 94.1L112.6 94.9M112.2 94.8L115.1 95.7M114.7 95.6L117.5 96.4M117.2 96.3L120.0 97.2M119.7 97.1L122.5 98.0M177.7 50.4L180.5 49.2M180.1 49.4L182.9 48.2M182.5 48.4L185.3 47.2M220.8 32.2L223.6 31.0M60.4 30.6L63.3 31.0M62.9 30.9L65.9 31.3M65.5 31.3L68.5 31.7M68.1 31.7L71.1 32.1M243.4 97.6L246.3 96.8M245.9 96.9L248.7 96.0M248.4 96.1L251.2 95.2M132.7 62.8L135.6 63.5M135.2 63.4L138.1 64.1" stroke="#463bde" stroke-width="1.5"/>
<path d="M241.0 70.4L243.8 69.3M243.4 69.4L246.2 68.4" stroke="#474cf0" stroke-width="2.0"/>
<path d="M74.9 83.5L77.7 84.4M77.4 84.3L80.2 85.2M79.8 85.1L82.7 85.9M82.3 85.8L85.2 86.7M107.2 93.3L110.1 94.2M122.1 97.8L125.0 98.7M172.9 52.4L175.7 51.2M175.3 51.4L178.1 50.2M199.3 41.3L202.0 40.1M218.4 33.2L221.2 32.1M70.7 32.0L73.6 32.4M152.9 67.8L155.8 68.5M155.4 68.4L158.3 69.1" stroke="#474cf0" stroke-width="1.5"/>
<path d="M238.5 71.3L241.3 70.2M245.8 68.5L248.6 67.4M183.7 27.3L186.6 27.8M186.3 27.7L189.2 28.1" stroke="#465dfa" stroke-width="2.0"/>
<path d="M72.4 82.8L75.2 83.7M124.6 98.6L127.5 99.5M168.0 71.6L170.9 72.3" stroke="#465dfa" stroke-width="1.5"/>
<path d="M182.7 92.7L185.5 91.6M185.1 91.8L187.9 90.7M187.6 90.8L190.4 89.8M190.0 89.9L192.8 88.8M221.6 77.8L224.3 76.7M224.0 76.9L226.8 75.8M248.3 67.6L251.1 66.5" stroke="#3e6ffe" stroke-width="2.0"/>
<path d="M69.9 82.0L72.7 82.9M153.7 60.5L156.5 59.3M163.3 56.4L166.1 55.3M165.7 55.4L168.5 54.3M213.6 35.2L216.4 34.1M216.0 34.2L218.8 33.1M73.2 32.4L76.2 32.8M240.9 98.4L243.8 97.5M170.5 72.2L173.4 72.9M173.1 72.8L176.0 73.5" stroke="#3e6ffe" stroke-width="1.5"/>
<path d="M168.2 78.5L171.1 77.9M170.8 78.0L173.7 77.3M173.3 77.4L176.2 76.7M175.8 76.8L178.7 76.1M178.4 76.2L181.3 75.5M180.3 93.6L183.1 92.6M192.4 89.0L195.2 87.9M194.8 88.0L197.6 87.0M197.3 87.1L200.1 86.0M219.1 78.7L221.9 77.7M226.4 75.9L229.2 74.9M228.8 75.0L231.6 73.9M236.1 72.2L238.9 71.2M182.2 45.6L184.9 44.4M184.6 44.5L187.3 43.3M187.0 43.5L189.7 42.3M208.4 34.1L211.1 32.9M210.8 33.1L213.5 31.9M213.2 32.0L215.9 30.8M164.1 57.5L166.8 56.4M166.5 56.6L169.3 55.5M168.9 55.6L171.7 54.5M171.3 54.6L174.1 53.5M173.7 53.7L176.5 52.6M176.1 52.7L178.9 51.6M178.6 51.8L181.3 50.7M181.0 50.8L183.7 49.7M164.4 55.5L167.1 56.7M166.8 56.5L169.5 57.8M207.0 74.9L209.7 76.1M209.4 76.0L212.1 77.2M211.7 77.0L214.5 78.3M214.1 78.1L216.8 79.3M216.5 79.2L219.2 80.4M170.6 34.4L173.5 33.5M173.1 33.6L176.0 32.8M175.6 32.9L178.5 32.1" stroke="#2e81f9" stroke-width="2.0"/>
<path d="M161.6 35.9L164.4 34.8M164.0 35.0L166.8 33.9M166.4 34.1L169.3 33.0M127.1 99.3L130.0 100.2M156.1 59.5L158.9 58.3M158.5 58.5L161.3 57.3M160.9 57.4L163.7 56.3M75.8 32.8L78.8 33.2M190.7 77.2L193.6 77.9" stroke="#2e81f9" stroke-width="1.5"/>
<path d="M249.4 51.5L252.3 50.8M159.1 36.8L161.9 35.7M168.9 33.2L171.7 32.1M242.1 100.9L244.6 99.4M244.3 99.6L246.9 98.1M246.5 98.3L249.1 96.7M248.7 96.9L251.3 95.4M59.6 43.8L62.4 42.6M62.0 42.7L64.7 41.5M64.4 41.7L67.1 40.5M66.8 40.6L69.5 39.4M67.4 81.3L70.3 82.2M129.6 100.1L132.5 101.0M78.4 33.1L81.3 33.5M193.3 77.8L196.2 78.6M195.8 78.5L198.7 79.2" stroke="#2b91ee" stroke-width="1.5"/>
<path d="M115.0 90.8L117.9 90.1M165.7 79.1L168.6 78.5M180.9 75.6L183.8 75.0M183.4 75.0L186.3 74.4M186.0 74.5L188.9 73.8M188.5 73.9L191.4 73.2M191.0 73.3L193.9 72.6M83.3 23.2L86.1 22.1M85.7 22.2L88.5 21.0M88.1 21.2L90.9 20.0M90.5 20.2L93.3 19.0M67.8 20.3L70.6 19.1M177.8 94.6L180.6 93.5M199.7 86.2L202.5 85.1M231.3 74.1L234.1 73.0M233.7 73.2L236.5 72.1M198.9 38.3L201.6 37.1M171.0 88.9L173.9 89.6M152.0 62.3L154.8 61.2M154.4 61.4L157.2 60.3M156.8 60.4L159.6 59.3M159.2 59.4L162.0 58.3M161.6 58.5L164.4 57.4M169.1 57.6L171.9 58.9M202.3 72.7L205.0 74.0M221.2 81.3L223.9 82.6M223.6 82.4L226.3 83.7M168.1 35.1L171.0 34.3M178.1 32.2L180.9 31.3" stroke="#2b91ee" stroke-width="2.0"/>
<path d="M110.4 84.9L113.3 84.2M112.9 84.3L115.8 83.6M115.4 83.7L118.3 83.0M118.0 83.0L120.9 82.3M120.5 82.4L123.4 81.7M123.0 81.8L125.9 81.1M239.3 53.9L242.2 53.2M241.8 53.3L244.7 52.6M244.4 52.7L247.3 52.0M246.9 52.1L249.8 51.4M156.7 37.6L159.5 36.6M171.3 32.3L174.1 31.2M235.4 104.9L237.9 103.4M237.6 103.6L240.2 102.1M239.8 102.3L242.4 100.7M69.1 39.6L71.9 38.4M71.5 38.5L74.3 37.3M132.1 100.8L135.0 101.7M152.0 106.9L154.9 107.7M154.5 107.6L157.4 108.5M157.0 108.4L159.9 109.2M81.0 33.5L83.9 33.9M83.5 33.9L86.5 34.3M238.4 99.2L241.3 98.3" stroke="#1fa4e2" stroke-width="1.5"/>
<path d="M155.6 81.5L158.5 80.8M193.6 72.7L196.5 72.0M196.1 72.1L199.0 71.5M81.0 24.3L83.7 23.1M154.5 37.3L157.4 37.7M157.0 37.7L160.0 38.2M159.6 38.1L162.6 38.6M162.2 38.5L165.1 39.0M164.7 39.0L167.7 39.5M167.3 39.4L170.2 39.9M169.9 39.8L172.8 40.3M172.4 40.3L175.4 40.8M175.0 40.7L177.9 41.2M177.6 41.1L180.5 41.6M180.1 41.6L183.1 42.0M168.1 98.3L170.9 97.2M170.6 97.3L173.4 96.3M173.0 96.4L175.8 95.3M175.4 95.5L178.2 94.4M202.1 85.3L204.9 84.2M204.6 84.3L207.3 83.3M207.0 83.4L209.8 82.3M216.7 79.7L219.5 78.6M173.6 89.5L176.5 90.3M144.7 65.2L147.5 64.1M147.1 64.3L149.9 63.1M149.6 63.3L152.3 62.2M162.0 54.4L164.8 55.6M171.5 58.7L174.2 59.9M197.5 70.6L200.3 71.8M199.9 71.6L202.6 72.9M225.9 83.5L228.6 84.7M228.3 84.6L231.0 85.8M163.1 36.6L166.0 35.7M165.6 35.8L168.5 35.0" stroke="#1fa4e2" stroke-width="2.0"/>
<path d="M95.2 88.5L98.1 87.8M97.7 87.9L100.6 87.2M100.3 87.3L103.2 86.6M102.8 86.7L105.7 86.0M105.3 86.1L108.2 85.4M107.9 85.5L110.8 84.8M125.5 81.2L128.5 80.5M234.3 55.1L237.2 54.4M236.8 54.5L239.7 53.8M154.2 38.5L157.1 37.5M173.8 31.4L176.6 30.3M233.1 106.3L235.7 104.7M73.9 37.5L76.6 36.3M134.6 101.6L137.5 102.5M139.6 103.1L142.4 104.0M149.5 106.1L152.4 107.0M159.5 109.1L162.3 110.0M86.1 34.2L89.1 34.6" stroke="#11b1d6" stroke-width="1.5"/>
<path d="M153.0 82.0L155.9 81.4M59.5 33.5L62.2 32.3M78.6 25.3L81.3 24.1M65.5 21.3L68.2 20.1M144.2 35.5L147.2 36.0M146.8 36.0L149.7 36.5M149.3 36.4L152.3 36.9M151.9 36.8L154.9 37.3M182.7 42.0L185.6 42.5M185.2 42.4L188.2 42.9M187.8 42.8L190.8 43.3M190.4 43.3L193.3 43.8M200.6 45.0L203.6 45.5M203.2 45.4L206.1 45.9M205.8 45.8L208.7 46.3M208.3 46.3L211.3 46.8M210.9 46.7L213.8 47.2M213.5 47.1L216.4 47.6M216.0 47.6L219.0 48.1M151.1 104.8L153.9 103.7M160.9 101.1L163.6 100.0M163.3 100.1L166.1 99.1M165.7 99.2L168.5 98.1M209.4 82.5L212.2 81.4M211.8 81.5L214.6 80.5M214.3 80.6L217.1 79.5M176.1 90.2L179.0 90.9M241.6 106.6L244.5 107.4M244.2 107.3L247.1 108.0M246.7 107.9L249.6 108.6M139.9 67.1L142.7 66.0M142.3 66.2L145.1 65.1M156.9 26.1L159.7 24.9M190.4 67.3L193.2 68.6M192.8 68.4L195.5 69.6M195.2 69.5L197.9 70.7M65.8 65.1L68.7 64.3M160.6 37.3L163.5 36.5" stroke="#11b1d6" stroke-width="2.0"/>
<path d="M92.7 89.1L95.6 88.4M128.1 80.6L131.0 79.9M229.2 56.3L232.1 55.6M231.7 55.7L234.6 55.0M151.8 39.4L154.6 38.4M176.2 30.5L179.0 29.4M224.2 111.6L226.8 110.1M226.4 110.3L229.0 108.7M228.7 108.9L231.2 107.4M230.9 107.6L233.5 106.1M83.4 33.3L86.2 32.1M85.8 32.3L88.5 31.1M88.2 31.2L90.9 30.0M90.6 30.2L93.3 29.0M92.9 29.1L95.7 27.9M95.3 28.1L98.1 26.9M97.7 27.0L100.4 25.8M104.8 23.9L107.6 22.7M107.2 22.8L110.0 21.6M109.6 21.8L112.3 20.6M137.1 102.4L139.9 103.2M142.1 103.9L144.9 104.7M144.5 104.6L147.4 105.5M147.0 105.4L149.9 106.2M88.7 34.6L91.6 35.0M122.1 39.4L125.1 39.8M221.1 104.6L223.9 103.7M223.5 103.8L226.4 103.0M226.0 103.1L228.9 102.2" stroke="#01bac3" stroke-width="1.5"/>
<path d="M150.5 82.6L153.4 81.9M76.2 26.3L78.9 25.1M60.7 23.4L63.4 22.2M63.1 22.4L65.8 21.2M141.7 35.1L144.6 35.6M192.9 43.7L195.9 44.2M195.5 44.1L198.5 44.6M198.1 44.6L201.0 45.1M218.6 48.0L221.5 48.5M221.1 48.4L224.1 48.9M148.7 105.7L151.5 104.6M153.6 103.9L156.4 102.8M156.0 102.9L158.8 101.9M158.4 102.0L161.2 100.9M178.6 90.8L181.5 91.5M236.6 105.4L239.5 106.1M239.1 106.0L242.0 106.7M249.2 108.5L252.1 109.3M209.4 31.0L212.4 31.4M212.0 31.4L215.0 31.8M214.6 31.7L217.5 32.2M217.2 32.1L220.1 32.5M74.7 93.1L77.4 92.0M135.1 69.1L137.8 68.0M137.5 68.1L140.3 67.0M152.2 28.1L154.9 26.9M154.5 27.1L157.3 25.9M112.4 31.7L115.1 33.0M159.7 53.3L162.4 54.5M188.1 66.2L190.8 67.5M155.6 38.8L158.5 37.9M158.1 38.0L161.0 37.2" stroke="#01bac3" stroke-width="2.0"/>
<path d="M130.6 80.0L133.5 79.3M168.5 70.9L171.4 70.2M171.1 70.3L174.0 69.6M173.6 69.7L176.5 69.0M224.1 57.5L227.0 56.8M226.7 56.9L229.6 56.2M178.6 29.6L181.5 28.5M181.1 28.7L183.9 27.6M111.9 37.9L114.8 38.3M114.4 38.3L117.4 38.7M117.0 38.6L120.0 39.0M119.6 39.0L122.5 39.4M218.6 105.4L221.4 104.5M228.5 102.3L231.4 101.4M236.0 100.0L238.8 99.1" stroke="#23c1ae" stroke-width="1.5"/>
<path d="M61.9 32.5L64.6 31.3M73.8 27.4L76.5 26.2M59.6 21.4L62.5 21.9M62.2 21.8L65.1 22.3M64.7 22.2L67.7 22.7M67.3 22.6L70.2 23.1M69.9 23.1L72.8 23.6M72.4 23.5L75.4 24.0M75.0 23.9L77.9 24.4M77.5 24.4L80.5 24.9M80.1 24.8L83.1 25.3M82.7 25.2L85.6 25.7M85.2 25.7L88.2 26.1M87.8 26.1L90.8 26.6M90.4 26.5L93.3 27.0M92.9 26.9L95.9 27.4M136.5 34.2L139.5 34.7M139.1 34.7L142.0 35.2M223.7 48.9L226.7 49.3M249.4 53.2L252.3 53.6M181.1 91.4L184.0 92.2M234.1 104.7L237.0 105.5M94.0 85.4L96.8 84.3M96.4 84.4L99.2 83.3M98.8 83.5L101.6 82.4M132.7 70.0L135.4 68.9M63.8 66.1L66.5 65.0M75.7 61.0L78.5 59.8M78.1 60.0L80.9 58.8M80.5 59.0L83.3 57.8M82.9 57.9L85.6 56.7M85.3 56.9L88.0 55.7M147.4 30.2L150.1 29.0M149.8 29.2L152.5 28.0M63.3 65.9L66.2 65.0M80.8 60.7L83.7 59.9M83.3 60.0L86.1 59.2M153.1 39.5L156.0 38.7" stroke="#23c1ae" stroke-width="2.0"/>
<path d="M75.0 93.4L77.9 92.7M90.2 89.7L93.1 89.0M163.5 72.1L166.4 71.4M166.0 71.5L168.9 70.8M176.1 69.1L179.0 68.4M178.6 68.5L181.5 67.8M181.2 67.9L184.1 67.2M183.7 67.2L186.6 66.5M186.2 66.6L189.1 65.9M188.7 66.0L191.7 65.3M191.3 65.4L194.2 64.7M193.8 64.8L196.7 64.1M196.3 64.2L199.2 63.5M198.9 63.6L201.8 62.9M201.4 63.0L204.3 62.3M203.9 62.4L206.8 61.7M206.4 61.8L209.4 61.1M209.0 61.2L211.9 60.5M211.5 60.6L214.4 59.9M214.0 60.0L216.9 59.3M216.6 59.3L219.5 58.7M219.1 58.7L222.0 58.0M221.6 58.1L224.5 57.4M103.0 57.4L105.8 56.4M149.4 40.3L152.2 39.3M222.0 112.9L224.5 111.4M162.0 109.9L164.8 110.7M91.3 35.0L94.2 35.4M106.7 37.2L109.7 37.6M109.3 37.5L112.2 37.9M213.6 107.0L216.5 106.1M216.1 106.2L219.0 105.3M231.0 101.5L233.8 100.6M233.5 100.7L236.3 99.9" stroke="#37c797" stroke-width="1.5"/>
<path d="M71.4 28.4L74.1 27.2M95.5 27.4L98.4 27.9M134.0 33.8L136.9 34.3M226.3 49.3L229.2 49.8M228.8 49.7L231.8 50.2M231.4 50.1L234.4 50.6M236.5 51.0L239.5 51.5M239.1 51.4L242.0 51.9M241.7 51.9L244.6 52.4M244.2 52.3L247.2 52.8M246.8 52.7L249.7 53.2M146.3 106.6L149.1 105.6M183.6 92.1L186.5 92.8M229.0 103.5L231.9 104.2M231.6 104.1L234.5 104.8M77.1 92.1L79.9 91.0M91.6 86.4L94.4 85.2M101.2 82.5L104.0 81.4M103.7 81.5L106.4 80.4M106.1 80.6L108.9 79.5M108.5 79.6L111.3 78.5M110.9 78.7L113.7 77.6M113.3 77.7L116.1 76.6M115.7 76.7L118.5 75.6M118.2 75.8L120.9 74.7M120.6 74.8L123.3 73.7M130.2 71.0L133.0 69.9M66.2 65.1L68.9 63.9M68.6 64.1L71.3 62.9M71.0 63.1L73.7 61.9M73.3 62.0L76.1 60.9M145.0 31.2L147.7 30.0M157.3 52.2L160.0 53.5M73.3 62.9L76.2 62.1M75.8 62.2L78.7 61.4M78.3 61.5L81.2 60.6M150.6 40.2L153.5 39.4" stroke="#37c797" stroke-width="2.0"/>
<path d="M77.5 92.8L80.4 92.1M133.1 79.4L136.0 78.7M160.9 72.7L163.8 72.0M215.3 116.9L217.8 115.4M217.5 115.6L220.1 114.0M219.7 114.2L222.3 112.7M93.8 35.3L96.8 35.7M96.4 35.7L99.4 36.1M104.1 36.8L107.1 37.2M208.7 108.5L211.5 107.6M211.1 107.7L214.0 106.8" stroke="#56cc7a" stroke-width="1.5"/>
<path d="M64.2 31.5L67.0 30.3M66.6 30.4L69.4 29.3M69.0 29.4L71.8 28.2M98.1 27.8L101.0 28.3M234.0 50.6L236.9 51.1M143.9 107.6L146.6 106.5M186.2 92.7L189.1 93.4M188.7 93.3L191.6 94.1M191.2 94.0L194.1 94.7M193.7 94.6L196.6 95.3M226.5 102.8L229.4 103.6M123.0 73.9L125.8 72.8M125.4 72.9L128.2 71.8M127.8 71.9L130.6 70.8M87.7 55.9L90.4 54.7M140.2 33.3L143.0 32.1M142.6 32.2L145.4 31.1M121.8 36.1L124.5 37.3M124.2 37.1L126.9 38.4M126.6 38.2L129.3 39.5M128.9 39.3L131.6 40.5M154.9 51.2L157.7 52.4M93.3 57.1L96.1 56.2M148.1 41.0L151.0 40.1" stroke="#56cc7a" stroke-width="2.0"/>
<path d="M87.6 90.3L90.5 89.6M135.7 78.8L138.6 78.1M158.4 73.3L161.3 72.6M146.9 41.2L149.7 40.2M64.9 80.5L67.8 81.4M101.6 36.4L104.5 36.8M203.7 110.1L206.5 109.2M206.2 109.3L209.0 108.4" stroke="#8fca4d" stroke-width="1.5"/>
<path d="M100.6 28.2L103.6 28.7M131.4 33.4L134.3 33.9M196.3 95.2L199.2 96.0M79.5 91.2L82.3 90.1M89.2 87.3L91.9 86.2M90.1 54.8L92.8 53.7M106.8 47.6L109.5 46.5M137.8 34.3L140.6 33.1M152.6 50.1L155.3 51.3" stroke="#8fca4d" stroke-width="2.0"/>
<path d="M72.5 94.0L75.4 93.3M85.1 90.9L88.0 90.2M138.2 78.2L141.1 77.5M153.4 74.5L156.3 73.8M155.9 73.9L158.8 73.2M191.8 118.9L194.7 119.8M201.2 110.8L204.1 109.9" stroke="#b8c430" stroke-width="1.5"/>
<path d="M103.2 28.7L106.1 29.2M105.8 29.1L108.7 29.6M128.8 33.0L131.8 33.5M201.3 96.5L204.2 97.2M213.9 99.7L216.8 100.4M216.4 100.3L219.3 101.0M84.3 89.2L87.1 88.1M86.7 88.3L89.5 87.2M92.4 53.8L95.2 52.6M94.8 52.8L97.6 51.6M97.2 51.8L100.0 50.6M99.6 50.7L102.4 49.5M109.2 46.6L111.9 45.4M111.6 45.6L114.3 44.4M130.7 37.4L133.4 36.2M133.1 36.3L135.8 35.2" stroke="#b8c430" stroke-width="2.0"/>
<path d="M107.9 55.6L110.7 54.6M184.4 116.6L187.2 117.5M186.9 117.4L189.7 118.3M189.3 118.2L192.2 119.0" stroke="#dcbc28" stroke-width="1.5"/>
<path d="M203.8 97.1L206.7 97.9M121.1 41.5L123.9 40.3M123.5 40.5L126.2 39.3" stroke="#dcbc28" stroke-width="2.0"/>
<path d="M143.2 77.0L146.2 76.3M145.8 76.4L148.7 75.7M199.3 121.2L202.2 122.0M201.8 121.9L204.7 122.8M196.2 112.4L199.1 111.5" stroke="#f8ba3d" stroke-width="1.5"/>
<path d="M110.3 54.7L113.1 53.7M166.9 111.4L169.8 112.2" stroke="#fdc933" stroke-width="1.5"/>
<path d="M139.6 43.9L142.4 42.9" stroke="#f6dc29" stroke-width="1.5"/>
<path d="M136.6 110.4L139.4 109.3M140.7 43.2L143.5 42.3" stroke="#f6dc29" stroke-width="2.0"/>
<path d="M112.8 53.8L115.6 52.8M129.8 47.5L132.7 46.5M132.3 46.6L135.1 45.6M137.2 44.8L140.0 43.8M171.9 112.9L174.8 113.8M174.4 113.6L177.3 114.5M176.4 118.6L179.2 117.7M183.8 116.3L186.7 115.4M186.3 115.5L189.2 114.6M188.8 114.7L191.7 113.8M191.3 113.9L194.1 113.0" stroke="#f5ef20" stroke-width="1.5"/>
<path d="M129.3 113.2L132.1 112.1M131.7 112.2L134.5 111.2M69.8 95.0L72.6 93.9M61.4 67.2L64.1 66.0M113.2 51.2L116.1 50.4M118.2 49.8L121.1 48.9M135.7 44.6L138.5 43.8" stroke="#f5ef20" stroke-width="2.0"/>
<path d="M74.3 19.3L77.2 20.1M76.9 20.0L79.7 20.8M79.4 20.7L82.2 21.5M81.9 21.4L84.7 22.2M84.4 22.1L87.2 22.9M247.4 88.0L250.0 86.5M249.6 86.7L252.2 85.2M212.5 94.3L215.3 93.2M214.9 93.3L217.7 92.2M217.3 92.3L220.1 91.2M169.2 78.9L172.1 78.4M171.7 78.5L174.7 78.0M174.3 78.1L177.3 77.6M247.4 39.4L250.2 38.3M249.8 38.5L252.6 37.4" stroke="#463bde" stroke-width="2.0"/>
<path d="M167.6 77.5L170.4 76.5M170.0 76.6L172.8 75.6M172.5 75.7L175.3 74.7M174.9 74.8L177.7 73.7M177.4 73.9L180.2 72.8M179.8 73.0L182.6 71.9M182.2 72.1L185.0 71.0M201.7 64.8L204.5 63.8M204.1 63.9L206.9 62.8M206.6 63.0L209.4 61.9M209.0 62.1L211.8 61.0M211.5 61.2L214.3 60.1M213.9 60.3L216.7 59.2M216.3 59.3L219.1 58.3M226.1 55.7L228.9 54.7M228.5 54.8L231.3 53.8M230.9 53.9L233.7 52.8M233.4 53.0L236.2 51.9M235.8 52.1L238.6 51.0M238.3 51.2L241.1 50.1M240.7 50.3L243.5 49.2M237.1 66.2L239.9 67.3M239.6 67.1L242.4 68.2M242.0 68.0L244.8 69.1M244.4 68.9L247.3 70.0" stroke="#463bde" stroke-width="1.5"/>
<path d="M71.8 18.6L74.7 19.4M231.8 97.4L234.4 95.9M234.0 96.1L236.6 94.5M219.7 91.4L222.5 90.2M166.6 79.4L169.6 78.9M176.9 77.6L179.8 77.1M139.8 25.3L142.5 26.5M142.2 26.3L144.9 27.4M144.6 27.3L147.3 28.4M147.0 28.3L149.7 29.4M167.7 71.2L170.5 70.1M170.2 70.3L172.9 69.2M172.6 69.3L175.3 68.2M175.0 68.4L177.8 67.2M240.2 42.3L243.0 41.2M242.6 41.4L245.4 40.2M245.0 40.4L247.8 39.3M68.6 81.5L71.5 80.6M71.1 80.7L74.0 79.9M73.6 80.0L76.5 79.2M91.1 74.9L94.0 74.0M93.6 74.1L96.4 73.3M96.1 73.4L98.9 72.6M98.6 72.7L101.4 71.8M101.1 71.9L103.9 71.1M103.6 71.2L106.4 70.4M106.1 70.5L108.9 69.6M108.5 69.8L111.4 68.9M111.0 69.0L113.9 68.2M113.5 68.3L116.4 67.4" stroke="#474cf0" stroke-width="2.0"/>
<path d="M184.7 71.2L187.5 70.1M196.8 66.6L199.6 65.6M199.3 65.7L202.1 64.7M217.9 75.2L220.8 74.7M220.5 74.8L223.4 74.3M125.0 24.8L127.8 25.8M127.4 25.7L130.2 26.7M129.8 26.6L132.6 27.6M132.3 27.5L135.1 28.5M134.7 28.4L137.5 29.4M173.7 42.8L176.5 43.8M176.2 43.7L179.0 44.7M178.6 44.6L181.4 45.6M181.0 45.5L183.8 46.5M183.5 46.4L186.3 47.4M185.9 47.3L188.7 48.3M188.4 48.2L191.2 49.2M229.8 63.5L232.6 64.6M232.3 64.4L235.1 65.5M234.7 65.3L237.5 66.4M246.9 69.9L249.7 70.9M249.3 70.8L252.1 71.8" stroke="#474cf0" stroke-width="1.5"/>
<path d="M224.1 99.9L226.7 98.4M187.1 70.2L189.9 69.2M189.5 69.3L192.3 68.3M192.0 68.4L194.8 67.4M194.4 67.5L197.2 66.5M217.1 100.0L219.8 98.8M219.5 99.0L222.2 97.9M221.9 98.0L224.7 96.9M224.3 97.0L227.1 95.9M223.0 74.3L226.0 73.9M137.2 29.3L140.0 30.3M139.6 30.2L142.4 31.2M142.0 31.1L144.8 32.1M144.5 32.0L147.3 33.0M146.9 32.9L149.7 33.9M149.3 33.8L152.1 34.8M151.8 34.7L154.6 35.7M154.2 35.6L157.0 36.6M156.7 36.5L159.5 37.5M159.1 37.4L161.9 38.4M161.5 38.3L164.3 39.3M164.0 39.2L166.8 40.2M166.4 40.1L169.2 41.1M168.9 41.0L171.7 42.0M171.3 41.9L174.1 42.9M190.8 49.1L193.6 50.1M193.2 50.0L196.0 51.0M215.2 58.1L218.0 59.2M217.6 59.0L220.4 60.1M220.1 59.9L222.9 61.0M222.5 60.8L225.3 61.9M224.9 61.7L227.7 62.8M227.4 62.6L230.2 63.7" stroke="#465dfa" stroke-width="1.5"/>
<path d="M229.6 98.8L232.1 97.2M236.3 94.7L238.8 93.2M245.2 89.4L247.7 87.8M210.1 95.3L212.9 94.1M179.4 77.2L182.4 76.7M137.4 24.3L140.1 25.5M149.4 29.3L152.1 30.4M175.8 40.1L178.6 41.3M178.2 41.1L181.0 42.3M180.6 42.1L183.4 43.3M183.0 43.1L185.8 44.2M177.4 67.4L180.2 66.3M179.8 66.4L182.6 65.3M182.2 65.5L185.0 64.4M184.6 64.5L187.4 63.4M228.1 47.1L230.9 46.0M230.5 46.2L233.3 45.1M232.9 45.2L235.7 44.1M235.3 44.2L238.1 43.1M237.8 43.3L240.5 42.2M76.1 79.3L79.0 78.4M78.6 78.5L81.5 77.7M81.1 77.8L84.0 77.0M83.6 77.1L86.5 76.2M86.1 76.3L89.0 75.5M88.6 75.6L91.5 74.8M116.0 67.6L118.9 66.7M118.5 66.8L121.4 66.0M121.0 66.1L123.9 65.3M123.5 65.4L126.4 64.5" stroke="#465dfa" stroke-width="2.0"/>
<path d="M221.8 101.2L224.4 99.7M207.4 103.8L210.2 102.7M209.8 102.9L212.6 101.7M212.2 101.9L215.0 100.8M214.6 100.9L217.4 99.8M226.7 96.1L229.5 95.0M246.0 88.3L248.8 87.2M248.4 87.4L251.2 86.2M225.6 73.9L228.5 73.4M195.7 50.9L198.5 51.9M210.3 56.3L213.1 57.4M212.7 57.2L215.5 58.3M103.0 82.0L105.8 80.8M105.4 80.9L108.1 79.7M107.8 79.9L110.5 78.6M192.0 59.3L194.7 58.2M194.4 58.3L197.1 57.2M196.8 57.3L199.5 56.1" stroke="#3e6ffe" stroke-width="1.5"/>
<path d="M238.5 93.4L241.1 91.9M207.7 96.3L210.5 95.1M97.4 91.1L100.4 90.6M100.0 90.6L102.9 90.1M102.5 90.2L105.5 89.7M105.1 89.8L108.0 89.3M107.7 89.3L110.6 88.8M110.2 88.9L113.2 88.4M164.1 79.8L167.0 79.3M134.9 23.3L137.7 24.5M173.4 39.2L176.2 40.3M185.4 44.1L188.2 45.2M187.9 45.1L190.6 46.2M190.3 46.1L193.0 47.2M192.7 47.1L195.4 48.2M195.1 48.1L197.8 49.2M197.5 49.0L200.2 50.2M199.9 50.0L202.6 51.2M187.1 63.5L189.8 62.4M189.5 62.6L192.2 61.5M191.9 61.6L194.7 60.5M194.3 60.6L197.1 59.5M196.7 59.7L199.5 58.6M199.1 58.7L201.9 57.6M201.5 57.7L204.3 56.6M204.0 56.8L206.7 55.7M206.4 55.8L209.2 54.7M208.8 54.9L211.6 53.7M211.2 53.9L214.0 52.8M213.6 52.9L216.4 51.8M216.0 52.0L218.8 50.9M218.4 51.0L221.2 49.9M220.9 50.0L223.6 48.9M223.3 49.1L226.1 48.0M225.7 48.1L228.5 47.0M126.0 64.6L128.9 63.8M151.0 57.3L153.8 56.5M153.5 56.6L156.3 55.7M180.9 48.5L183.8 47.7M183.4 47.8L186.3 47.0M185.9 47.1L188.8 46.2M188.4 46.3L191.3 45.5" stroke="#3e6ffe" stroke-width="2.0"/>
<path d="M66.8 68.4L69.6 67.3M104.4 27.7L107.3 28.5M106.9 28.4L109.8 29.3M109.4 29.1L112.3 30.0M227.4 100.1L229.9 98.6M240.7 92.1L243.3 90.5M242.9 90.7L245.5 89.2M94.8 91.5L97.8 91.0M112.8 88.5L115.7 88.0M115.3 88.0L118.3 87.5M117.9 87.6L120.9 87.1M120.5 87.2L123.4 86.7M123.0 86.7L126.0 86.2M161.5 80.2L164.4 79.7M182.0 76.8L184.9 76.3M151.8 30.3L154.5 31.4M171.0 38.2L173.8 39.3M128.5 63.9L131.4 63.1M143.5 59.5L146.3 58.7M146.0 58.8L148.8 57.9M148.5 58.0L151.3 57.2M156.0 55.9L158.8 55.0M158.4 55.1L161.3 54.3M160.9 54.4L163.8 53.5M175.9 50.0L178.8 49.2M178.4 49.3L181.3 48.4M190.9 45.6L193.7 44.8" stroke="#2e81f9" stroke-width="2.0"/>
<path d="M249.1 86.0L251.7 84.6M205.0 104.8L207.8 103.7M229.1 95.1L231.9 94.0M231.5 94.1L234.3 93.0M233.9 93.2L236.7 92.1M236.4 92.2L239.1 91.1M238.8 91.2L241.5 90.1M241.2 90.3L244.0 89.1M243.6 89.3L246.4 88.2M158.9 84.9L161.8 84.4M161.5 84.5L164.4 84.0M164.0 84.1L167.0 83.6M174.3 82.4L177.2 81.9M176.9 82.0L179.8 81.5M179.4 81.5L182.4 81.1M182.0 81.1L184.9 80.6M198.1 51.8L200.9 52.8M200.6 52.7L203.4 53.8M203.0 53.6L205.8 54.7M205.4 54.5L208.2 55.6M207.9 55.4L210.7 56.5M140.9 64.9L143.7 63.7M143.3 63.8L146.0 62.6M145.7 62.8L148.4 61.5M148.1 61.7L150.8 60.5M110.0 90.3L112.9 91.1M112.5 91.0L115.4 91.8M115.0 91.7L117.9 92.5M117.6 92.4L120.4 93.2M189.6 60.4L192.3 59.2M199.1 56.3L201.9 55.1" stroke="#2e81f9" stroke-width="1.5"/>
<path d="M69.2 67.5L72.0 66.4M71.6 66.5L74.4 65.4M111.9 29.9L114.8 30.7M114.4 30.6L117.3 31.4M205.3 97.2L208.1 96.1M125.6 86.3L128.5 85.8M128.2 85.9L131.1 85.4M158.9 80.7L161.9 80.2M184.6 76.3L187.5 75.8M194.8 74.6L197.8 74.1M168.6 37.2L171.4 38.3M131.0 63.2L133.9 62.3M133.5 62.4L136.4 61.6M136.0 61.7L138.9 60.9M138.5 61.0L141.4 60.1M141.0 60.2L143.8 59.4M163.4 53.7L166.3 52.8M165.9 52.9L168.8 52.1M168.4 52.2L171.3 51.4M170.9 51.5L173.8 50.6M173.4 50.7L176.3 49.9" stroke="#2b91ee" stroke-width="2.0"/>
<path d="M219.5 102.4L222.1 101.0M242.2 89.8L244.9 88.4M244.5 88.5L247.1 87.1M202.6 105.8L205.4 104.7M115.3 92.1L118.2 91.6M117.8 91.7L120.8 91.2M120.4 91.3L123.4 90.8M123.0 90.8L125.9 90.3M125.5 90.4L128.5 89.9M184.5 80.7L187.5 80.2M187.1 80.3L190.1 79.8M228.2 73.5L231.1 73.0M100.7 83.1L103.4 81.8M110.1 78.8L112.9 77.6M138.6 66.0L141.3 64.7M150.4 60.6L153.2 59.4M122.6 93.8L125.4 94.6M125.1 94.4L128.0 95.2M127.6 95.1L130.5 95.9M130.1 95.8L133.0 96.6M155.1 102.7L158.0 103.5M157.7 103.4L160.5 104.2M201.5 55.3L204.3 54.1M203.9 54.3L206.7 53.1" stroke="#2b91ee" stroke-width="1.5"/>
<path d="M188.4 57.8L191.3 57.2M190.9 57.3L193.8 56.6M193.4 56.7L196.3 56.0M196.0 56.1L198.9 55.4M198.5 55.5L201.4 54.8M201.0 54.9L203.9 54.2M240.0 91.1L242.6 89.6M112.7 92.5L115.7 92.0M128.1 90.0L131.1 89.5M189.7 79.8L192.6 79.4M192.2 79.4L195.2 78.9M230.7 73.1L233.7 72.6M249.9 61.8L252.8 62.4M98.3 84.1L101.0 82.9M112.5 77.7L115.2 76.5M131.5 69.2L134.2 67.9M133.8 68.1L136.6 66.9M136.2 67.0L138.9 65.8M74.9 80.6L77.8 81.4M77.4 81.3L80.3 82.1M80.0 82.0L82.8 82.8M82.5 82.7L85.3 83.5M85.0 83.4L87.8 84.2M132.6 96.5L135.5 97.3M147.6 100.7L150.5 101.5M150.1 101.4L153.0 102.2M152.6 102.0L155.5 102.8M160.2 104.1L163.0 104.9M206.3 53.2L209.1 52.1M208.7 52.2L211.5 51.0M211.1 51.2L213.9 50.0M213.5 50.2L216.3 49.0M235.0 41.0L237.8 39.8M237.4 40.0L240.2 38.8" stroke="#1fa4e2" stroke-width="1.5"/>
<path d="M74.0 65.5L76.8 64.4M76.5 64.6L79.2 63.4M78.9 63.6L81.6 62.5M81.3 62.6L84.1 61.5M116.9 31.3L119.8 32.1M119.4 32.0L122.3 32.8M121.9 32.7L124.8 33.5M124.4 33.4L127.3 34.2M202.9 98.2L205.7 97.1M92.3 91.9L95.2 91.4M130.7 85.4L133.7 84.9M133.3 85.0L136.2 84.5M135.9 84.6L138.8 84.1M138.4 84.1L141.4 83.6M141.0 83.7L143.9 83.2M187.1 75.9L190.1 75.4M189.7 75.5L192.6 75.0M192.3 75.0L195.2 74.5M154.2 31.3L157.0 32.4" stroke="#1fa4e2" stroke-width="2.0"/>
<path d="M120.0 74.0L123.0 73.3M122.6 73.4L125.5 72.7M125.1 72.8L128.0 72.1M127.6 72.2L130.5 71.5M130.2 71.6L133.1 70.9M132.7 71.0L135.6 70.3M135.2 70.4L138.1 69.7M185.8 58.4L188.7 57.8M217.2 103.7L219.9 102.2M237.7 92.3L240.3 90.9M200.2 106.7L202.9 105.6M135.8 88.7L138.8 88.2M194.8 79.0L197.8 78.5M197.4 78.6L200.3 78.1M199.9 78.2L202.9 77.7M126.7 71.3L129.5 70.1M129.1 70.2L131.8 69.0M152.8 59.6L155.5 58.3M135.1 97.2L138.0 98.0M137.6 97.9L140.5 98.7M215.9 49.2L218.6 48.0M218.3 48.1L221.0 47.0M232.6 42.0L235.4 40.9M149.1 76.2L151.6 74.6M151.3 74.8L153.8 73.3M153.5 73.5L156.1 72.0" stroke="#11b1d6" stroke-width="1.5"/>
<path d="M143.5 83.3L146.5 82.8M146.1 82.8L149.1 82.3M148.7 82.4L151.6 81.9M151.2 82.0L154.2 81.5M153.8 81.5L156.7 81.0M156.4 81.1L159.3 80.6M156.6 32.2L159.4 33.4M166.2 36.2L169.0 37.3" stroke="#11b1d6" stroke-width="2.0"/>
<path d="M72.0 85.4L74.9 84.7M74.5 84.8L77.4 84.1M115.0 75.2L117.9 74.5M117.5 74.6L120.4 73.9M137.8 69.8L140.7 69.1M140.3 69.2L143.2 68.5M142.8 68.6L145.7 67.9M145.3 68.0L148.3 67.3M147.9 67.4L150.8 66.7M183.3 59.0L186.2 58.4M203.6 111.3L206.2 109.8M192.9 109.6L195.7 108.5M195.3 108.7L198.1 107.6M197.8 107.7L200.5 106.6M97.3 95.1L100.3 94.6M138.4 88.3L141.3 87.8M233.3 72.7L236.2 72.2M95.9 85.2L98.6 84.0M114.9 76.7L117.6 75.4M122.0 73.5L124.7 72.2M124.4 72.4L127.1 71.2M220.7 47.1L223.4 46.0M223.1 46.1L225.8 44.9M144.6 78.9L147.2 77.3M146.8 77.5L149.4 76.0M155.7 72.2L158.3 70.6M158.0 70.8L160.5 69.3M160.2 69.5L162.8 67.9M162.4 68.1L165.0 66.6" stroke="#01bac3" stroke-width="1.5"/>
<path d="M90.9 58.7L93.7 57.6M225.1 101.4L227.7 99.9M200.5 99.2L203.2 98.1M159.0 33.2L161.8 34.4M161.4 34.2L164.2 35.4M163.8 35.2L166.6 36.3" stroke="#01bac3" stroke-width="2.0"/>
<path d="M109.9 76.4L112.8 75.7M112.5 75.8L115.4 75.1M201.3 112.5L203.9 111.1M215.0 104.9L217.6 103.5M190.5 110.6L193.3 109.5M99.9 94.6L102.8 94.2M102.5 94.2L105.4 93.7M235.9 72.2L238.8 71.8M238.4 71.8L241.4 71.3M241.0 71.4L243.9 70.9M77.0 93.8L79.7 92.5M117.2 75.6L120.0 74.4M119.6 74.5L122.3 73.3M155.2 58.5L157.9 57.3M172.7 107.6L175.6 108.4M142.4 80.2L144.9 78.7M164.7 66.8L167.2 65.2M166.9 65.4L169.4 63.9M169.1 64.1L171.7 62.6M171.3 62.8L173.9 61.2M173.6 61.4L176.1 59.9M175.8 60.1L178.3 58.5M178.0 58.7L180.6 57.2" stroke="#23c1ae" stroke-width="1.5"/>
<path d="M93.3 57.8L96.1 56.6M95.7 56.8L98.5 55.7M207.3 112.2L209.9 110.6M209.5 110.8L212.1 109.3M211.8 109.5L214.3 107.9M181.2 107.0L184.0 105.9M183.6 106.0L186.4 104.9M66.1 82.2L69.0 81.3" stroke="#23c1ae" stroke-width="2.0"/>
<path d="M77.0 84.2L79.9 83.5M97.3 79.4L100.2 78.7M208.1 108.7L210.8 107.3M87.1 96.8L90.0 96.3M74.6 94.8L77.3 93.6M93.5 86.3L96.3 85.1M157.5 57.4L160.3 56.2M111.2 99.0L113.8 97.5M113.4 97.7L116.0 96.1M140.2 81.6L142.7 80.0M180.2 57.4L182.8 55.9M182.5 56.1L185.0 54.5M184.7 54.7L187.3 53.2M186.9 53.4L189.5 51.8M189.1 52.0L191.7 50.5M191.4 50.7L193.9 49.1M193.6 49.3L196.2 47.8M195.8 48.0L198.4 46.5M198.1 46.7L200.6 45.1M200.3 45.3L202.8 43.8" stroke="#37c797" stroke-width="1.5"/>
<path d="M98.2 55.8L100.9 54.7M214.0 108.1L216.5 106.6M178.8 108.0L181.6 106.9M186.0 105.0L188.8 103.9M198.1 100.2L200.8 99.0M89.7 92.4L92.7 91.9" stroke="#37c797" stroke-width="2.0"/>
<path d="M79.6 83.6L82.5 82.9M199.1 113.8L201.7 112.3M210.4 107.5L213.0 106.0M212.7 106.2L215.3 104.8M188.1 111.6L190.9 110.5M74.2 98.9L77.2 98.4M84.5 97.2L87.4 96.7M79.3 92.7L82.0 91.5M159.9 56.3L162.6 55.1M175.2 108.3L178.1 109.1M115.7 96.3L118.2 94.8M117.9 95.0L120.4 93.4M137.9 82.9L140.5 81.3" stroke="#56cc7a" stroke-width="1.5"/>
<path d="M100.6 54.8L103.3 53.7M222.9 102.8L225.5 101.2M74.3 95.0L77.3 94.5" stroke="#56cc7a" stroke-width="2.0"/>
<path d="M178.2 60.2L181.1 59.6M196.8 115.0L199.4 113.6M76.8 98.4L79.8 98.0M81.9 97.6L84.9 97.1M81.7 91.6L84.4 90.4M177.7 109.0L180.6 109.7M180.2 109.6L183.1 110.4M122.3 92.3L124.9 90.7M135.7 84.2L138.3 82.7" stroke="#8fca4d" stroke-width="1.5"/>
<path d="M103.0 53.9L105.8 52.8M105.4 52.9L108.2 51.8M205.1 113.5L207.6 112.0M216.2 106.8L218.8 105.3M188.4 104.1L191.2 102.9M195.7 101.1L198.4 100.0M71.8 95.4L74.7 94.9M76.9 94.5L79.8 94.0" stroke="#8fca4d" stroke-width="2.0"/>
<path d="M107.8 51.9L110.6 50.8M110.2 51.0L113.0 49.9M202.8 114.8L205.4 113.3M220.7 104.1L223.2 102.6M190.8 103.1L193.6 102.0M193.2 102.1L196.0 101.0" stroke="#b8c430" stroke-width="2.0"/>
<path d="M194.5 116.3L197.1 114.9M124.6 90.9L127.1 89.4M126.8 89.6L129.4 88.1M129.0 88.3L131.6 86.7M131.2 86.9L133.8 85.4" stroke="#b8c430" stroke-width="1.5"/>
<path d="M163.1 63.8L166.0 63.1M173.2 61.4L176.1 60.7M187.7 120.1L190.3 118.6M190.0 118.8L192.6 117.4M192.2 117.6L194.9 116.1M71.7 99.3L74.6 98.8M84.1 90.6L86.8 89.3M88.8 88.4L91.5 87.2M192.7 113.1L195.6 113.9M195.3 113.8L198.1 114.6" stroke="#dcbc28" stroke-width="1.5"/>
<path d="M122.3 46.1L125.1 45.0M193.9 120.2L196.5 118.7M196.2 118.9L198.7 117.3M198.4 117.5L200.9 116.0M200.6 116.2L203.2 114.6" stroke="#dcbc28" stroke-width="2.0"/>
<path d="M168.1 62.6L171.0 61.9M170.6 62.0L173.6 61.3M185.4 121.3L188.0 119.9M183.3 113.5L186.1 112.4" stroke="#f8ba3d" stroke-width="1.5"/>
<path d="M69.8 97.0L72.6 95.7" stroke="#f6dc29" stroke-width="1.5"/>
<path d="M173.6 117.4L176.4 116.3M93.4 109.7L96.0 108.2M95.6 108.4L98.2 106.8M97.8 107.0L100.4 105.5M100.1 105.7L102.6 104.2" stroke="#f5ef20" stroke-width="1.5"/>
<path d="M58.5 32.8L61.4 33.5M61.0 33.4L63.9 34.1M63.5 34.0L66.4 34.7M93.0 87.2L95.7 86.0M95.4 86.1L98.1 84.9M97.7 85.1L100.5 83.9M100.1 84.0L102.8 82.8M102.5 83.0L105.2 81.7M104.8 81.9L107.6 80.7M107.2 80.8L109.9 79.6M109.6 79.8L112.3 78.5M112.0 78.7L114.7 77.5M114.3 77.6L117.1 76.4M116.7 76.6L119.4 75.3M119.1 75.5L121.8 74.3M223.2 85.7L225.9 86.9M225.6 86.8L228.3 88.0M227.9 87.9L230.6 89.1M230.3 89.0L233.0 90.2M232.6 90.1L235.3 91.3M235.0 91.2L237.7 92.4M237.3 92.3L240.0 93.5M239.7 93.4L242.4 94.6" stroke="#463bde" stroke-width="1.5"/>
<path d="M71.5 42.9L74.3 42.0M227.1 81.2L229.8 80.0M229.4 80.2L232.2 79.0" stroke="#463bde" stroke-width="2.0"/>
<path d="M218.0 69.8L221.0 70.4M220.6 70.4L223.5 71.0M223.1 70.9L226.0 71.6M225.6 71.5L228.6 72.2M228.2 72.1L231.1 72.8M90.6 88.3L93.3 87.1M121.4 74.4L124.2 73.2M123.8 73.4L126.5 72.1M171.3 52.1L174.0 50.8M173.6 51.0L176.4 49.8M176.0 49.9L178.7 48.7M178.4 48.9L181.1 47.6M180.7 47.8L183.5 46.6M183.1 46.7L185.8 45.5M185.5 45.7L188.2 44.5M187.9 44.6L190.6 43.4M190.2 43.5L193.0 42.3M162.0 57.0L164.7 58.3M164.3 58.1L167.0 59.4M166.7 59.2L169.4 60.5M213.8 81.3L216.5 82.5M216.1 82.4L218.8 83.6M218.5 83.5L221.2 84.7M220.8 84.6L223.6 85.8M242.0 94.5L244.7 95.7" stroke="#474cf0" stroke-width="1.5"/>
<path d="M59.1 47.0L62.0 46.0M61.6 46.2L64.4 45.2M64.1 45.4L66.9 44.4M73.9 42.1L76.8 41.2M76.4 41.3L79.3 40.4M118.4 27.5L121.2 26.6M120.9 26.7L123.7 25.8M123.3 25.9L126.2 25.0M125.8 25.1L128.7 24.1M128.3 24.3L131.1 23.3M130.8 23.5L133.6 22.5M185.2 40.4L187.9 39.3M187.6 39.4L190.3 38.2M190.0 38.4L192.7 37.2M192.4 37.4L195.1 36.2M194.8 36.4L197.5 35.2M197.2 35.4L199.9 34.2M199.6 34.3L202.3 33.2M202.0 33.3L204.7 32.2M204.4 32.3L207.1 31.2M206.7 31.3L209.5 30.1M164.8 76.3L167.7 77.0M167.3 76.9L170.3 77.6M169.9 77.5L172.8 78.2M172.4 78.1L175.3 78.8M174.9 78.7L177.8 79.4M177.5 79.4L180.4 80.1M180.0 80.0L182.9 80.7M182.5 80.6L185.4 81.3M185.0 81.2L187.9 81.9M187.6 81.8L190.5 82.5M190.1 82.4L193.0 83.1M210.3 87.4L213.2 88.1M212.8 88.0L215.7 88.7M215.3 88.6L218.2 89.3M217.9 89.2L220.8 89.9M220.4 89.8L223.3 90.5" stroke="#474cf0" stroke-width="2.0"/>
<path d="M66.1 34.6L69.0 35.3M124.3 48.1L127.2 48.8M126.9 48.7L129.8 49.3M129.4 49.3L132.3 49.9M139.5 51.6L142.4 52.3M142.1 52.2L145.0 52.9M144.6 52.8L147.5 53.4M147.1 53.4L150.0 54.0M149.7 53.9L152.6 54.6M152.2 54.5L155.1 55.2M154.7 55.1L157.6 55.8M157.3 55.7L160.2 56.4M159.8 56.3L162.7 57.0M162.3 56.9L165.2 57.5M164.9 57.5L167.8 58.1M167.4 58.0L170.3 58.7M169.9 58.6L172.8 59.3M172.5 59.2L175.4 59.9M175.0 59.8L177.9 60.5M205.4 66.8L208.3 67.5M207.9 67.4L210.8 68.1M210.4 68.0L213.4 68.7M213.0 68.6L215.9 69.3M215.5 69.2L218.4 69.9M230.7 72.7L233.6 73.4M244.2 42.6L246.9 43.8M246.6 43.6L249.3 44.9M248.9 44.7L251.7 45.9M223.6 67.6L226.4 66.5M126.2 72.3L128.9 71.1M154.7 59.5L157.4 58.3M157.0 58.5L159.8 57.2M159.4 57.4L162.1 56.2M161.8 56.3L164.5 55.1M164.1 55.3L166.9 54.0M166.5 54.2L169.2 53.0M168.9 53.1L171.6 51.9M192.6 42.5L195.3 41.3M195.0 41.4L197.7 40.2M197.3 40.4L200.1 39.1M199.7 39.3L202.4 38.1M202.1 38.2L204.8 37.0M204.5 37.2L207.2 35.9M206.8 36.1L209.6 34.9M209.2 35.0L211.9 33.8M211.6 34.0L214.3 32.7M214.0 32.9L216.7 31.7M216.3 31.8L219.1 30.6M169.0 60.3L171.7 61.6M211.4 80.2L214.1 81.4M244.4 95.6L247.1 96.8M85.0 70.1L87.9 69.4M87.5 69.5L90.4 68.7M90.0 68.8L92.9 68.1M92.5 68.2L95.4 67.4M157.9 51.0L160.8 50.2M160.4 50.3L163.3 49.6M163.0 49.7L165.8 48.9M165.5 49.0L168.4 48.3" stroke="#465dfa" stroke-width="1.5"/>
<path d="M141.8 34.7L144.6 33.6M144.2 33.7L147.0 32.7M111.0 29.9L113.8 29.0M113.5 29.1L116.3 28.2M115.9 28.3L118.8 27.4M175.6 44.5L178.4 43.3M178.0 43.5L180.8 42.3M180.4 42.4L183.2 41.3M182.8 41.4L185.6 40.3M162.3 75.7L165.2 76.4M192.6 83.0L195.5 83.8M195.1 83.7L198.0 84.4M197.7 84.3L200.6 85.0M200.2 84.9L203.1 85.6M202.7 85.5L205.6 86.2M205.2 86.1L208.1 86.8M207.8 86.7L210.7 87.4M222.9 90.4L225.8 91.1M224.7 82.2L227.4 81.0" stroke="#465dfa" stroke-width="2.0"/>
<path d="M68.6 35.2L71.5 35.9M119.3 46.9L122.2 47.6M121.8 47.5L124.7 48.2M131.9 49.8L134.8 50.5M134.5 50.4L137.4 51.1M137.0 51.0L139.9 51.7M177.5 60.4L180.4 61.1M180.1 61.0L183.0 61.6M200.3 65.7L203.2 66.3M202.8 66.2L205.8 66.9M233.2 73.3L236.2 74.0M235.8 73.9L238.7 74.5M180.1 64.7L183.0 64.0M182.6 64.1L185.5 63.4M185.1 63.5L188.0 62.8M187.6 62.9L190.5 62.1M190.2 62.2L193.1 61.5M192.7 61.6L195.6 60.9M239.5 40.4L242.2 41.6M241.8 41.5L244.6 42.7M136.8 102.6L139.6 101.4M139.2 101.6L142.0 100.5M141.6 100.6L144.4 99.5M216.4 70.5L219.2 69.4M218.8 69.5L221.6 68.4M221.2 68.6L224.0 67.5M248.8 91.2L251.7 91.8M88.2 89.3L91.0 88.1M128.6 71.2L131.3 70.0M130.9 70.2L133.7 68.9M145.2 63.8L147.9 62.6M147.5 62.7L150.3 61.5M149.9 61.7L152.6 60.4M152.3 60.6L155.0 59.4M171.4 61.4L174.1 62.7M173.7 62.5L176.4 63.8M209.1 79.1L211.8 80.3M246.8 96.7L249.5 98.0M82.5 70.8L85.4 70.0M168.0 48.4L170.9 47.6M170.5 47.7L173.4 46.9" stroke="#3e6ffe" stroke-width="1.5"/>
<path d="M76.4 60.2L79.2 59.1M78.8 59.3L81.6 58.2M81.2 58.3L84.0 57.2M83.6 57.4L86.4 56.3M136.9 36.6L139.7 35.5M139.3 35.6L142.1 34.5M146.6 32.8L149.4 31.7M149.0 31.8L151.8 30.8M151.5 30.9L154.2 29.8M153.9 30.0L156.7 28.9M156.3 29.0L159.1 27.9M86.3 38.1L89.1 37.1M106.1 31.6L108.9 30.6M108.5 30.8L111.4 29.8M149.3 55.6L152.0 54.4M151.7 54.6L154.4 53.4M173.2 45.5L176.0 44.3M159.8 75.0L162.7 75.7M225.4 91.1L228.3 91.8M157.4 40.2L160.1 39.0M159.7 39.1L162.5 37.9M162.1 38.1L164.8 36.8" stroke="#3e6ffe" stroke-width="2.0"/>
<path d="M71.1 35.8L74.0 36.4M114.2 45.7L117.1 46.4M116.7 46.3L119.6 47.0M182.6 61.6L185.5 62.2M185.1 62.1L188.0 62.8M187.7 62.7L190.6 63.4M195.2 64.5L198.2 65.2M197.8 65.1L200.7 65.8M238.3 74.5L241.2 75.1M240.8 75.0L243.8 75.7M243.4 75.6L246.3 76.3M245.9 76.2L248.8 76.9M248.4 76.8L251.4 77.5M195.2 61.0L198.1 60.3M186.5 94.2L189.2 93.0M188.9 93.1L191.6 91.9M191.3 92.1L194.0 90.9M193.6 91.0L196.4 89.8M196.0 90.0L198.7 88.7M198.4 88.9L201.1 87.7M230.0 36.1L232.7 37.4M232.4 37.2L235.1 38.4M234.7 38.3L237.4 39.5M237.1 39.3L239.8 40.6M144.1 99.6L146.8 98.5M146.5 98.7L149.2 97.6M148.9 97.7L151.7 96.6M151.3 96.7L154.1 95.6M204.4 75.4L207.1 74.2M206.8 74.4L209.5 73.3M209.2 73.4L211.9 72.3M211.6 72.5L214.4 71.3M214.0 71.5L216.8 70.4M113.8 63.6L116.7 64.2M116.3 64.1L119.3 64.7M118.9 64.7L121.8 65.3M121.4 65.2L124.4 65.8M124.0 65.7L126.9 66.3M126.5 66.2L129.5 66.8M129.1 66.7L132.0 67.3M243.7 90.2L246.6 90.8M246.3 90.7L249.2 91.3M133.3 69.1L136.0 67.9M135.7 68.0L138.4 66.8M138.1 67.0L140.8 65.8M140.4 65.9L143.2 64.7M142.8 64.8L145.5 63.6M59.6 53.4L62.4 52.2M62.0 52.4L64.7 51.2M64.4 51.3L67.1 50.2M159.3 59.5L162.1 58.3M161.7 58.5L164.4 57.2M176.1 63.6L178.8 64.9M178.4 64.7L181.2 66.0M180.8 65.9L183.5 67.1M206.7 78.0L209.4 79.2M249.1 97.8L251.8 99.1M80.0 71.5L82.9 70.7M173.0 47.0L175.9 46.3M175.5 46.4L178.4 45.6M59.5 40.1L62.3 38.9M61.9 39.1L64.7 37.9M64.3 38.1L67.1 36.9M66.7 37.1L69.5 35.9M69.1 36.1L71.9 34.9M71.5 35.1L74.3 33.9M73.9 34.1L76.7 32.9" stroke="#2e81f9" stroke-width="1.5"/>
<path d="M74.0 61.2L76.7 60.1M86.1 56.4L88.8 55.4M134.5 37.5L137.3 36.4M158.7 28.1L161.5 27.0M161.1 27.1L163.9 26.0M88.8 37.2L91.6 36.3M91.2 36.4L94.1 35.5M101.1 33.2L104.0 32.3M103.6 32.4L106.4 31.4M178.7 50.6L181.6 51.0M181.2 51.0L184.2 51.4M154.1 53.6L156.8 52.4M156.5 52.6L159.2 51.4M170.8 46.5L173.6 45.3M228.0 91.7L230.9 92.4M152.6 42.4L155.4 41.1M155.0 41.3L157.7 40.1M164.5 37.0L167.2 35.8M166.9 35.9L169.6 34.7M169.2 34.9L172.0 33.6M171.6 33.8L174.3 32.6M174.0 32.7L176.7 31.5M176.3 31.7L179.1 30.4M178.7 30.6L181.4 29.4M157.5 68.3L160.3 67.2M159.9 67.3L162.7 66.2" stroke="#2e81f9" stroke-width="2.0"/>
<path d="M73.7 36.4L76.6 37.0M76.2 36.9L79.1 37.6M106.6 44.0L109.5 44.7M109.1 44.6L112.0 45.2M111.7 45.2L114.6 45.8M190.2 63.3L193.1 64.0M192.7 63.9L195.6 64.6M96.7 85.1L99.6 84.4M99.2 84.5L102.2 83.8M101.8 83.9L104.7 83.2M114.4 80.8L117.3 80.1M116.9 80.2L119.8 79.5M134.6 75.8L137.5 75.1M137.1 75.2L140.0 74.5M139.7 74.6L142.6 73.9M142.2 74.0L145.1 73.3M144.7 73.4L147.6 72.7M147.2 72.7L150.1 72.0M149.8 72.1L152.7 71.4M181.8 96.3L184.5 95.1M184.1 95.3L186.9 94.0M200.7 87.8L203.5 86.6M225.2 34.0L228.0 35.2M227.6 35.1L230.3 36.3M153.7 95.8L156.5 94.6M156.1 94.8L158.9 93.7M175.4 87.0L178.2 85.9M177.8 86.0L180.6 84.9M180.2 85.1L183.0 84.0M182.6 84.1L185.4 83.0M185.1 83.1L187.8 82.0M187.5 82.2L190.2 81.0M189.9 81.2L192.7 80.1M192.3 80.2L195.1 79.1M194.7 79.3L197.5 78.1M197.1 78.3L199.9 77.2M199.5 77.3L202.3 76.2M201.9 76.3L204.7 75.2M108.7 62.6L111.6 63.2M111.3 63.1L114.2 63.7M131.6 67.3L134.6 67.9M134.2 67.8L137.1 68.4M136.7 68.3L139.7 68.9M139.3 68.8L142.2 69.4M141.8 69.3L144.7 69.9M144.4 69.9L147.3 70.5M200.4 81.3L203.3 81.9M203.0 81.9L205.9 82.5M205.5 82.4L208.4 83.0M208.0 82.9L211.0 83.5M210.6 83.4L213.5 84.0M241.2 89.7L244.1 90.3M85.9 90.4L88.6 89.2M114.4 80.0L117.1 78.8M116.7 78.9L119.5 77.7M119.1 77.9L121.8 76.6M157.0 60.6L159.7 59.4M164.1 57.4L166.8 56.1M166.4 56.3L169.2 55.1M183.2 67.0L185.9 68.2M185.5 68.1L188.2 69.3M147.9 53.6L150.8 52.9" stroke="#2b91ee" stroke-width="1.5"/>
<path d="M71.5 62.1L74.3 61.0M132.1 38.5L134.9 37.4M163.6 26.2L166.3 25.1M58.3 48.9L61.2 49.7M158.9 51.6L161.6 50.4M161.2 50.5L164.0 49.4M163.6 49.5L166.4 48.4M166.0 48.5L168.8 47.4M168.4 47.5L171.2 46.3M157.2 74.4L160.1 75.1M230.5 92.3L233.4 93.0M150.3 43.4L153.0 42.2M181.1 29.5L183.8 28.3M183.4 28.4L186.2 27.2M104.8 90.4L107.5 89.3M107.2 89.4L109.9 88.3M109.6 88.4L112.3 87.3M155.1 69.3L157.9 68.2M200.9 92.6L203.6 91.4M222.3 83.3L225.0 82.1" stroke="#2b91ee" stroke-width="2.0"/>
<path d="M78.7 37.5L81.6 38.2M104.1 43.4L107.0 44.1M91.7 86.4L94.6 85.6M94.2 85.7L97.1 85.0M162.8 104.8L165.5 103.6M165.1 103.7L167.9 102.5M167.5 102.7L170.2 101.5M169.9 101.6L172.6 100.4M172.3 100.6L175.0 99.3M203.1 86.8L205.9 85.6M218.1 30.8L220.9 32.0M220.5 31.9L223.2 33.1M222.9 32.9L225.6 34.2M134.4 103.5L137.2 102.4M158.5 93.8L161.3 92.7M170.6 89.0L173.4 87.8M173.0 88.0L175.8 86.9M103.6 61.5L106.5 62.1M106.2 62.0L109.1 62.6M146.9 70.4L149.8 71.0M149.5 70.9L152.4 71.5M152.0 71.4L154.9 72.0M169.8 75.1L172.8 75.7M172.4 75.6L175.3 76.2M174.9 76.1L177.9 76.7M177.5 76.6L180.4 77.2M180.0 77.2L183.0 77.8M182.6 77.7L185.5 78.3M185.1 78.2L188.1 78.8M187.7 78.7L190.6 79.3M190.2 79.3L193.1 79.9M192.8 79.8L195.7 80.4M195.3 80.3L198.2 80.9M197.9 80.8L200.8 81.4M213.1 83.9L216.1 84.5M215.7 84.5L218.6 85.1M218.2 85.0L221.2 85.6M220.8 85.5L223.7 86.1M238.6 89.2L241.5 89.8M109.7 82.2L112.4 80.9M112.0 81.1L114.7 79.9M121.5 76.8L124.2 75.5M168.8 55.2L171.5 54.0M218.5 32.6L221.2 31.4M187.9 69.2L190.6 70.4M190.2 70.3L192.9 71.5M204.4 76.9L207.1 78.1M77.4 72.1L80.3 71.4M145.3 54.3L148.2 53.5" stroke="#1fa4e2" stroke-width="1.5"/>
<path d="M69.1 63.1L71.9 62.0M88.5 55.5L91.3 54.4M129.7 39.4L132.4 38.3M207.0 54.5L210.0 54.9M219.9 56.2L222.9 56.7M232.8 58.0L235.7 58.4M235.3 58.4L238.3 58.8M60.8 49.6L63.7 50.5M233.0 92.9L235.9 93.6M235.5 93.5L238.5 94.2M238.1 94.1L241.0 94.8M95.8 68.0L98.5 66.8M98.1 67.0L100.9 65.7M147.9 44.5L150.6 43.3M242.1 109.7L244.7 108.3M244.4 108.5L247.1 107.2M246.7 107.3L249.4 106.0M102.4 91.5L105.2 90.3M112.0 87.4L114.7 86.3M162.3 66.3L165.1 65.2M231.9 37.1L234.6 36.0M234.3 36.1L237.0 35.0M236.7 35.1L239.4 34.0M239.1 34.1L241.8 33.0M203.2 91.6L206.0 90.4M205.6 90.6L208.4 89.4" stroke="#1fa4e2" stroke-width="2.0"/>
<path d="M101.5 42.8L104.4 43.5M74.0 90.7L76.9 90.0M205.3 58.5L208.2 57.8M160.4 105.9L163.1 104.6M205.5 85.7L208.2 84.5M234.0 73.0L236.7 71.8M236.4 71.9L239.1 70.7M238.7 70.9L241.5 69.7M241.1 69.8L243.8 68.6M243.5 68.8L246.2 67.5M245.9 67.7L248.6 66.5M248.2 66.6L251.0 65.4M160.9 92.8L163.7 91.7M163.4 91.9L166.1 90.8M165.8 90.9L168.5 89.8M168.2 89.9L170.9 88.8M98.5 60.5L101.4 61.1M101.1 61.0L104.0 61.6M154.6 72.0L157.5 72.6M157.1 72.5L160.0 73.1M159.7 73.0L162.6 73.6M162.2 73.5L165.1 74.1M164.7 74.0L167.7 74.6M167.3 74.6L170.2 75.2M223.3 86.0L226.3 86.6M225.9 86.6L228.8 87.2M228.4 87.1L231.4 87.7M231.0 87.6L233.9 88.2M233.5 88.1L236.4 88.7M236.1 88.6L239.0 89.2M83.5 91.5L86.2 90.2M78.8 45.3L81.5 44.1M81.1 44.2L83.9 43.1M107.3 83.3L110.0 82.0M123.8 75.7L126.6 74.5M154.6 61.7L157.3 60.5M171.2 54.2L173.9 52.9M213.8 34.8L216.5 33.5M216.1 33.7L218.9 32.4M192.6 71.4L195.3 72.6M194.9 72.5L197.6 73.7M197.3 73.6L200.0 74.8M199.6 74.7L202.4 75.9M202.0 75.8L204.7 77.0M74.9 72.8L77.8 72.0M105.1 64.9L108.0 64.1M142.8 55.0L145.7 54.2" stroke="#11b1d6" stroke-width="1.5"/>
<path d="M64.3 65.0L67.1 63.9M66.7 64.0L69.5 62.9M90.9 54.6L93.7 53.5M127.2 40.4L130.0 39.3M204.4 54.1L207.4 54.5M222.5 56.6L225.4 57.0M225.0 57.0L228.0 57.4M227.6 57.3L230.6 57.7M230.2 57.7L233.2 58.1M58.6 55.6L61.5 56.2M61.2 56.1L64.1 56.7M137.7 71.1L140.6 71.7M140.3 71.6L143.2 72.2M142.8 72.1L145.7 72.7M145.4 72.6L148.3 73.2M147.9 73.1L150.8 73.7M150.5 73.6L153.4 74.2M170.9 77.6L173.8 78.2M173.4 78.1L176.4 78.7M176.0 78.6L178.9 79.2M178.5 79.1L181.5 79.7M63.3 50.4L66.1 51.2M154.7 73.8L157.6 74.5M240.6 94.7L243.5 95.5M243.1 95.4L246.0 96.1M72.1 78.7L74.8 77.5M86.3 72.3L89.0 71.1M88.7 71.2L91.4 70.0M91.0 70.2L93.8 68.9M93.4 69.1L96.1 67.9M249.0 106.1L251.7 104.8M97.6 93.5L100.4 92.3M100.0 92.5L102.8 91.3M114.4 86.4L117.1 85.3M152.7 70.3L155.5 69.2M181.5 58.3L184.3 57.1M183.9 57.3L186.7 56.1M186.3 56.3L189.1 55.1M222.3 41.2L225.0 40.0M224.7 40.2L227.4 39.0M227.1 39.2L229.8 38.0M229.5 38.2L232.2 37.0M184.2 99.9L186.9 98.7" stroke="#11b1d6" stroke-width="2.0"/>
<path d="M81.3 38.1L84.2 38.8M99.0 42.2L101.9 42.9M207.8 57.9L210.7 57.2M207.9 84.7L210.6 83.4M231.6 74.1L234.3 72.8M132.0 104.5L134.8 103.4M88.3 58.4L91.3 59.0M90.9 58.9L93.8 59.5M93.4 59.4L96.4 60.0M96.0 60.0L98.9 60.6M81.1 92.5L83.9 91.3M124.2 26.0L127.0 24.8M102.6 85.4L105.3 84.2M104.9 84.3L107.6 83.1M152.2 62.8L155.0 61.5M211.4 35.8L214.1 34.6M72.4 73.4L75.3 72.7M140.3 55.6L143.2 54.9" stroke="#01bac3" stroke-width="1.5"/>
<path d="M93.3 53.6L96.1 52.5M124.8 41.3L127.6 40.2M201.9 53.8L204.8 54.2M63.7 56.6L66.6 57.2M66.3 57.1L69.2 57.7M124.9 68.6L127.9 69.2M127.5 69.1L130.4 69.7M130.0 69.6L133.0 70.2M132.6 70.1L135.5 70.7M135.2 70.6L138.1 71.2M153.0 74.1L155.9 74.7M168.3 77.1L171.3 77.7M181.1 79.6L184.0 80.2M198.9 83.1L201.9 83.7M201.5 83.6L204.4 84.2M204.0 84.1L207.0 84.7M206.6 84.6L209.5 85.2M209.1 85.1L212.1 85.7M227.0 88.6L229.9 89.2M229.6 89.1L232.5 89.7M232.1 89.6L235.0 90.2M234.7 90.1L237.6 90.7M245.7 96.0L248.6 96.7M74.4 77.7L77.2 76.4M76.8 76.6L79.5 75.4M79.2 75.5L81.9 74.3M81.6 74.5L84.3 73.2M83.9 73.4L86.6 72.2M145.5 45.6L148.3 44.3M239.8 110.9L242.4 109.5M95.2 94.5L98.0 93.3M116.8 85.4L119.5 84.3M119.2 84.4L121.9 83.3M121.6 83.4L124.3 82.2M124.0 82.4L126.7 81.2M126.4 81.4L129.1 80.2M128.8 80.4L131.5 79.2M131.2 79.4L133.9 78.2M133.6 78.4L136.3 77.2M164.7 65.3L167.5 64.1M188.7 55.2L191.5 54.1M219.9 42.2L222.6 41.0M172.3 105.1L175.0 103.9M174.6 104.1L177.4 102.9M177.0 103.0L179.8 101.8M179.4 102.0L182.1 100.8M181.8 101.0L184.5 99.8M219.9 84.3L222.7 83.1" stroke="#01bac3" stroke-width="2.0"/>
<path d="M83.8 38.7L86.7 39.4M226.9 76.2L229.6 75.0M229.2 75.1L232.0 73.9M78.8 93.6L81.5 92.4M88.3 41.2L91.1 40.0M117.1 29.0L119.8 27.9M119.5 28.0L122.2 26.8M121.8 27.0L124.6 25.8M95.5 88.6L98.2 87.4M97.8 87.6L100.5 86.3M100.2 86.5L102.9 85.2M126.2 74.6L128.9 73.4M173.5 53.1L176.3 51.8M199.6 41.2L202.3 40.0M201.9 40.1L204.7 38.9M204.3 39.1L207.0 37.8M206.7 38.0L209.4 36.8M209.0 36.9L211.8 35.7M67.4 74.8L70.3 74.0M69.9 74.1L72.8 73.3M107.6 64.2L110.5 63.4M110.1 63.5L113.0 62.8M135.3 56.9L138.2 56.2M137.8 56.3L140.7 55.5" stroke="#23c1ae" stroke-width="1.5"/>
<path d="M95.8 52.7L98.5 51.6M112.7 46.0L115.5 44.9M115.1 45.1L117.9 44.0M117.5 44.1L120.3 43.1M120.0 43.2L122.8 42.1M122.4 42.3L125.2 41.2M191.6 52.4L194.5 52.8M194.1 52.7L197.1 53.1M196.7 53.1L199.7 53.5M199.3 53.4L202.2 53.8M68.8 57.6L71.7 58.2M99.4 63.6L102.4 64.2M102.0 64.1L104.9 64.7M104.5 64.6L107.5 65.2M107.1 65.1L110.0 65.7M109.6 65.6L112.6 66.2M112.2 66.1L115.1 66.7M114.7 66.6L117.7 67.2M117.3 67.1L120.2 67.7M119.8 67.6L122.8 68.2M122.4 68.1L125.3 68.7M155.6 74.6L158.5 75.2M158.1 75.1L161.0 75.7M163.2 76.1L166.2 76.7M165.8 76.6L168.7 77.2M183.6 80.1L186.6 80.7M196.4 82.6L199.3 83.2M211.7 85.6L214.6 86.2M214.2 86.1L217.2 86.7M216.8 86.6L219.7 87.2M219.3 87.1L222.3 87.7M221.9 87.6L224.8 88.2M224.5 88.1L227.4 88.7M237.2 90.6L240.1 91.2M152.2 73.2L155.1 73.9M248.2 96.6L251.1 97.3M143.2 46.6L145.9 45.4M92.8 95.5L95.6 94.3M136.0 77.4L138.7 76.2M150.3 71.3L153.1 70.2M179.1 59.3L181.9 58.1M191.1 54.2L193.9 53.1M167.5 107.2L170.2 106.0M169.9 106.2L172.6 105.0M215.1 86.4L217.9 85.2M217.5 85.4L220.3 84.2" stroke="#23c1ae" stroke-width="2.0"/>
<path d="M86.3 39.3L89.2 40.0M96.5 41.6L99.4 42.3M71.5 91.3L74.4 90.6M210.2 83.6L213.0 82.4M224.5 77.2L227.2 76.0M129.6 105.5L132.4 104.4M90.7 40.2L93.5 39.0M93.1 39.2L95.9 38.0M95.5 38.2L98.3 37.0M97.9 37.1L100.7 36.0M105.1 34.1L107.8 32.9M107.5 33.1L110.2 31.9M109.9 32.1L112.6 30.9M112.3 31.1L115.0 29.9M114.7 30.0L117.4 28.9M93.1 89.7L95.8 88.5M128.6 73.6L131.3 72.3M149.9 63.9L152.6 62.6M175.9 52.0L178.6 50.8M194.8 43.4L197.6 42.1M197.2 42.3L199.9 41.1M112.7 62.9L115.5 62.1M115.2 62.2L118.1 61.5M132.8 57.6L135.7 56.8" stroke="#37c797" stroke-width="1.5"/>
<path d="M98.2 51.7L101.0 50.6M100.6 50.8L103.4 49.7M103.0 49.8L105.8 48.7M105.4 48.9L108.2 47.8M107.9 47.9L110.6 46.8M110.3 47.0L113.1 45.9M71.4 58.1L74.3 58.7M73.9 58.6L76.8 59.2M76.5 59.1L79.4 59.7M79.0 59.6L82.0 60.2M94.3 62.6L97.3 63.2M96.9 63.1L99.8 63.7M160.7 75.6L163.6 76.2M186.2 80.6L189.1 81.2M193.8 82.1L196.8 82.7M239.8 91.1L242.7 91.7M114.7 59.5L117.5 58.2M237.4 112.1L240.1 110.7M138.4 76.4L141.1 75.2M167.1 64.3L169.9 63.1M176.7 60.3L179.5 59.1M193.5 53.2L196.3 52.1M195.9 52.2L198.7 51.1M217.5 43.2L220.2 42.0" stroke="#37c797" stroke-width="2.0"/>
<path d="M88.9 39.9L91.8 40.6M91.4 40.5L94.3 41.1M93.9 41.0L96.8 41.7M212.6 82.5L215.3 81.3M215.0 81.5L217.7 80.3M217.4 80.4L220.1 79.2M219.7 79.4L222.5 78.1M222.1 78.3L224.8 77.1M127.2 106.4L129.9 105.3M76.4 94.7L79.1 93.4M90.7 90.8L93.4 89.6M178.3 50.9L181.0 49.7M180.6 49.8L183.4 48.6M187.7 46.6L190.5 45.4M190.1 45.5L192.8 44.3M192.5 44.5L195.2 43.2M64.9 75.4L67.8 74.7M117.7 61.6L120.6 60.8" stroke="#56cc7a" stroke-width="1.5"/>
<path d="M81.6 60.1L84.5 60.7M84.1 60.6L87.1 61.2M86.7 61.1L89.6 61.7M89.2 61.6L92.2 62.2M91.8 62.1L94.7 62.7M188.7 81.1L191.7 81.7M191.3 81.6L194.2 82.2M242.3 91.6L245.2 92.2M244.9 92.1L247.8 92.7M250.0 93.1L252.9 93.7M147.1 72.0L150.0 72.7M149.7 72.6L152.6 73.3M117.1 58.4L119.8 57.2M119.5 57.3L122.2 56.1M90.4 96.5L93.2 95.3M140.8 75.4L143.5 74.2M143.2 74.4L145.9 73.2M145.6 73.3L148.3 72.2M147.9 72.3L150.7 71.2M198.3 51.2L201.1 50.1M200.7 50.2L203.5 49.1M215.1 44.2L217.8 43.0" stroke="#56cc7a" stroke-width="2.0"/>
<path d="M247.4 92.6L250.3 93.2M121.8 56.3L124.6 55.0M169.5 63.3L172.3 62.1M203.1 49.2L205.9 48.1M212.7 45.2L215.4 44.0" stroke="#8fca4d" stroke-width="2.0"/>
<path d="M81.3 95.1L84.0 93.9M83.6 94.0L86.3 92.8M130.9 72.5L133.7 71.2M147.5 64.9L150.2 63.7M183.0 48.8L185.7 47.5M185.4 47.7L188.1 46.5" stroke="#8fca4d" stroke-width="1.5"/>
<path d="M124.2 55.2L126.9 54.0M126.6 54.1L129.3 52.9M235.1 113.2L237.8 111.9M210.3 46.2L213.0 45.0" stroke="#b8c430" stroke-width="2.0"/>
<path d="M74.2 98.3L76.9 97.1M86.0 92.9L88.7 91.7M88.4 91.9L91.1 90.6" stroke="#b8c430" stroke-width="1.5"/>
<path d="M122.3 108.4L125.1 107.3M142.8 67.1L145.5 65.8" stroke="#f8ba3d" stroke-width="1.5"/>
<path d="M232.8 114.4L235.5 113.1M162.7 109.3L165.5 108.1" stroke="#f8ba3d" stroke-width="2.0"/>
<path d="M68.9 91.9L71.8 91.2M138.0 69.2L140.8 68.0M140.4 68.2L143.1 66.9" stroke="#fdc933" stroke-width="1.5"/>
<path d="M88.0 97.5L90.8 96.3" stroke="#fdc933" stroke-width="2.0"/>
<path d="M71.6 96.8L74.4 95.6" stroke="#f6dc29" stroke-width="1.5"/>
<path d="M160.3 110.3L163.1 109.1" stroke="#f6dc29" stroke-width="2.0"/>
<path d="M141.4 114.3L144.1 113.1M146.1 112.2L148.9 111.0M148.5 111.2L151.2 109.9M117.5 110.3L120.3 109.2" stroke="#f5ef20" stroke-width="1.5"/>
<path d="M83.2 99.5L86.0 98.3M85.6 98.5L88.4 97.3" stroke="#f5ef20" stroke-width="2.0"/>
<path d="M199.1 83.6L201.9 82.5M201.5 82.7L204.3 81.6M204.0 81.7L206.8 80.7M206.4 80.8L209.2 79.8M208.8 79.9L211.6 78.9M211.3 79.0L214.1 78.0M213.7 78.1L216.5 77.1M216.1 77.2L218.9 76.1M218.6 76.3L221.4 75.2M221.0 75.4L223.8 74.3M223.4 74.5L226.2 73.4M225.9 73.6L228.7 72.5M228.3 72.6L231.1 71.6M230.7 71.7L233.5 70.7M233.2 70.8L236.0 69.8M235.6 69.9L238.4 68.9M238.0 69.0L240.9 68.0M240.5 68.1L243.3 67.0M242.9 67.2L245.7 66.1M245.4 66.3L248.2 65.2M247.8 65.4L250.6 64.3M205.1 38.1L208.1 38.7M228.1 42.7L231.0 43.3M230.6 43.3L233.5 43.9M233.2 43.8L236.1 44.4M235.7 44.3L238.6 44.9M238.3 44.8L241.2 45.4M240.8 45.3L243.7 45.9M243.4 45.9L246.3 46.5M245.9 46.4L248.8 47.0M248.4 46.9L251.4 47.5M148.8 29.8L151.6 28.7M151.2 28.9L154.0 27.8M153.7 27.9L156.5 26.9M156.1 27.0L158.9 26.0M158.5 26.1L161.3 25.1" stroke="#463bde" stroke-width="2.0"/>
<path d="M208.0 69.6L210.7 68.5M210.4 68.6L213.1 67.5M212.8 67.7L215.6 66.5M155.1 88.9L157.9 87.8M157.5 87.9L160.3 86.9M160.0 87.0L162.8 85.9M162.4 86.1L165.2 85.0M164.8 85.1L167.6 84.0M167.2 84.2L170.0 83.1M169.7 83.2L172.5 82.1M201.2 71.0L204.0 69.9M203.6 70.0L206.4 69.0M206.0 69.1L208.8 68.0M133.6 26.7L136.3 27.8M177.1 43.8L179.9 44.9M179.5 44.7L182.3 45.8M182.0 45.7L184.7 46.8M184.4 46.6L187.2 47.7M186.8 47.6L189.6 48.7M130.1 88.2L133.0 88.9M132.7 88.8L135.6 89.5M135.2 89.4L138.1 90.1M137.7 90.0L140.6 90.7M140.3 90.6L143.2 91.3M142.8 91.2L145.7 91.9M145.3 91.8L148.2 92.5M147.8 92.4L150.7 93.1" stroke="#463bde" stroke-width="1.5"/>
<path d="M154.2 27.7L157.1 28.3M156.7 28.2L159.7 28.8M197.5 36.5L200.4 37.1M200.0 37.0L203.0 37.6M202.6 37.5L205.5 38.1M207.7 38.6L210.6 39.2M210.2 39.1L213.2 39.7M212.8 39.6L215.7 40.2M215.3 40.1L218.3 40.7M217.9 40.7L220.8 41.3M220.4 41.2L223.4 41.8M223.0 41.7L225.9 42.3M225.5 42.2L228.4 42.8" stroke="#474cf0" stroke-width="2.0"/>
<path d="M176.7 82.4L179.4 81.3M179.1 81.4L181.9 80.3M181.5 80.4L184.3 79.3M183.9 79.5L186.7 78.3M186.3 78.5L189.1 77.3M188.7 77.5L191.5 76.4M203.2 71.6L205.9 70.5M205.6 70.6L208.3 69.5M215.2 66.7L218.0 65.5M236.9 57.8L239.6 56.7M239.3 56.8L242.0 55.7M241.7 55.9L244.4 54.7M152.7 89.8L155.5 88.7M172.1 82.3L174.9 81.2M215.7 65.3L218.5 64.3M218.1 64.4L220.9 63.3M220.6 63.5L223.3 62.4M223.0 62.5L225.8 61.4M225.4 61.6L228.2 60.5M227.8 60.6L230.6 59.5M230.3 59.7L233.0 58.6M131.1 25.8L133.9 26.9M152.9 34.3L155.7 35.4M172.3 41.9L175.1 43.0M174.7 42.8L177.5 43.9M120.0 85.7L122.9 86.4M122.6 86.3L125.5 87.0M125.1 86.9L128.0 87.6M127.6 87.5L130.5 88.2" stroke="#474cf0" stroke-width="1.5"/>
<path d="M230.3 76.0L232.8 74.5M232.5 74.7L235.1 73.1M234.7 73.3L237.3 71.8M159.3 28.7L162.2 29.3M189.9 34.9L192.8 35.5M192.4 35.5L195.3 36.1M194.9 36.0L197.9 36.6" stroke="#465dfa" stroke-width="2.0"/>
<path d="M174.3 83.4L177.0 82.3M191.1 76.5L193.9 75.4M193.5 75.5L196.3 74.4M195.9 74.5L198.7 73.4M198.3 73.6L201.1 72.4M200.7 72.6L203.5 71.4M217.6 65.7L220.4 64.6M234.4 58.8L237.2 57.7M244.1 54.9L246.8 53.7M174.5 81.3L177.3 80.3M128.7 24.8L131.5 25.9M155.3 35.3L158.1 36.3M157.8 36.2L160.5 37.3M169.9 40.9L172.6 42.0M66.9 73.0L69.8 73.7M69.5 73.6L72.4 74.3M72.0 74.2L74.9 74.9M74.5 74.8L77.4 75.5M77.1 75.4L80.0 76.1M79.6 76.0L82.5 76.7M82.1 76.6L85.0 77.3M84.6 77.2L87.5 77.9M87.2 77.8L90.1 78.5M89.7 78.4L92.6 79.1M92.2 79.0L95.1 79.7M94.7 79.7L97.7 80.4M97.3 80.3L100.2 81.0M99.8 80.9L102.7 81.6M102.3 81.5L105.2 82.2M104.9 82.1L107.8 82.8M107.4 82.7L110.3 83.4M109.9 83.3L112.8 84.0M112.4 83.9L115.4 84.6M115.0 84.5L117.9 85.2M117.5 85.1L120.4 85.8M100.0 90.9L102.9 91.7M102.5 91.6L105.3 92.5M105.0 92.4L107.8 93.3M107.5 93.2L110.3 94.0M109.9 93.9L112.8 94.8M112.4 94.7L115.3 95.6M60.6 33.7L63.6 34.2M63.2 34.1L66.1 34.6M65.7 34.6L68.7 35.1M68.3 35.0L71.2 35.6M70.8 35.5L73.8 36.0" stroke="#465dfa" stroke-width="1.5"/>
<path d="M228.0 77.3L230.6 75.8M237.0 72.0L239.5 70.5M161.8 29.2L164.8 29.8M187.3 34.4L190.2 35.0M119.6 40.8L122.4 39.7M136.6 34.3L139.4 33.3M200.7 32.8L203.4 31.7M203.1 31.8L205.8 30.7M205.5 30.8L208.2 29.6" stroke="#3e6ffe" stroke-width="2.0"/>
<path d="M130.9 101.1L133.7 99.9M133.4 100.1L136.1 99.0M135.8 99.1L138.5 98.0M138.2 98.1L140.9 97.0M140.6 97.1L143.3 96.0M164.6 87.3L167.4 86.2M167.0 86.3L169.8 85.2M169.5 85.4L172.2 84.2M171.9 84.4L174.6 83.2M220.0 64.7L222.8 63.6M222.4 63.7L225.2 62.6M229.6 60.8L232.4 59.6M232.0 59.8L234.8 58.7M246.5 53.9L249.3 52.8M150.3 90.8L153.1 89.7M176.9 80.4L179.7 79.3M179.4 79.5L182.1 78.4M181.8 78.5L184.6 77.4M184.2 77.6L187.0 76.5M126.3 23.9L129.1 25.0M160.2 37.2L163.0 38.2M64.4 72.4L67.3 73.1M92.6 88.5L95.4 89.4M95.0 89.3L97.9 90.2M97.5 90.1L100.4 91.0M114.9 95.5L117.8 96.4M73.4 36.0L76.3 36.5" stroke="#3e6ffe" stroke-width="1.5"/>
<path d="M59.1 23.4L61.9 24.2M61.6 24.1L64.5 24.9M64.1 24.8L67.0 25.5M66.6 25.4L69.5 26.2M69.1 26.1L72.0 26.9M71.6 26.8L74.5 27.6M74.1 27.5L77.0 28.2M76.6 28.1L79.5 28.9M79.1 28.8L82.0 29.6M144.4 46.5L147.3 47.3M114.4 96.7L117.3 97.4M117.0 97.3L119.9 98.1M119.5 98.0L122.4 98.7M143.0 96.2L145.7 95.0M145.4 95.2L148.2 94.0M147.8 94.2L150.6 93.1M155.0 91.2L157.8 90.1M157.4 90.3L160.2 89.1M159.8 89.3L162.6 88.2M162.2 88.3L165.0 87.2M224.8 62.7L227.6 61.6M227.2 61.8L230.0 60.6M147.9 91.7L150.6 90.6M101.5 20.2L104.2 21.3M123.9 22.9L126.7 24.0M87.6 87.0L90.4 87.9M90.1 87.8L92.9 88.7M117.4 96.2L120.2 97.1M76.0 36.4L78.9 37.0M102.3 103.3L105.2 104.2" stroke="#2e81f9" stroke-width="1.5"/>
<path d="M197.1 29.1L199.9 30.3M199.5 30.1L202.2 31.3M225.8 78.7L228.4 77.1M239.2 70.7L241.8 69.1M229.3 35.2L232.2 35.7M239.5 37.1L242.4 37.7M89.6 27.1L92.3 26.0M92.0 26.1L94.8 25.0M94.4 25.2L97.2 24.0M96.8 24.2L99.6 23.1M99.2 23.2L102.0 22.1M101.6 22.2L104.4 21.1M104.0 21.3L106.8 20.1M164.4 29.8L167.3 30.3M166.9 30.3L169.9 30.9M169.5 30.8L172.4 31.4M172.0 31.3L175.0 31.9M174.6 31.8L177.5 32.4M177.1 32.3L180.0 32.9M179.7 32.9L182.6 33.5M182.2 33.4L185.1 34.0M184.8 33.9L187.7 34.5M122.0 39.8L124.8 38.8" stroke="#2e81f9" stroke-width="2.0"/>
<path d="M81.6 29.5L84.5 30.3M84.2 30.2L87.0 31.0M86.7 30.9L89.6 31.6M136.9 44.4L139.8 45.2M139.4 45.1L142.3 45.9M141.9 45.8L144.8 46.6M109.4 95.3L112.3 96.1M111.9 96.0L114.8 96.8M122.0 98.6L124.9 99.4M124.5 99.3L127.4 100.0M128.5 102.1L131.3 100.9M150.2 93.2L153.0 92.1M152.6 92.2L155.4 91.1M248.9 52.9L251.7 51.8M143.0 93.6L145.8 92.5M145.4 92.6L148.2 91.6M103.9 21.1L106.6 22.2M121.4 22.0L124.2 23.1M80.1 84.7L83.0 85.6M82.6 85.5L85.5 86.4M85.1 86.2L88.0 87.1M119.9 97.0L122.7 97.9M147.2 105.5L150.1 106.4M149.7 106.2L152.5 107.1M78.5 36.9L81.5 37.4" stroke="#2b91ee" stroke-width="1.5"/>
<path d="M194.7 28.0L197.5 29.2M223.6 80.0L226.1 78.5M241.4 69.3L244.0 67.8M226.7 34.7L229.6 35.2M242.0 37.6L245.0 38.2M87.2 28.1L89.9 27.0M234.7 106.7L237.6 107.3" stroke="#2b91ee" stroke-width="2.0"/>
<path d="M89.2 31.5L92.1 32.3M91.7 32.2L94.6 33.0M131.8 43.1L134.7 43.9M134.4 43.8L137.2 44.5M106.9 94.7L109.8 95.4M127.0 99.9L129.9 100.7M129.5 100.6L132.4 101.4M106.3 22.1L109.1 23.2M72.7 82.4L75.5 83.3M75.2 83.2L78.0 84.0M77.7 83.9L80.5 84.8M122.4 97.8L125.2 98.7M124.8 98.5L127.7 99.4M144.7 104.7L147.6 105.6M152.2 107.0L155.0 107.9M69.6 59.9L72.4 59.1M72.1 59.2L74.9 58.3M74.6 58.4L77.4 57.6M77.0 57.7L79.9 56.8M164.2 31.5L167.1 30.6M166.7 30.8L169.6 29.9M169.2 30.0L172.0 29.2M104.8 104.1L107.6 105.0" stroke="#1fa4e2" stroke-width="1.5"/>
<path d="M115.5 83.8L118.3 82.6M117.9 82.8L120.7 81.6M120.3 81.8L123.1 80.6M122.7 80.8L125.5 79.6M216.9 84.0L219.4 82.4M219.1 82.6L221.7 81.1M221.3 81.3L223.9 79.8M243.7 68.0L246.2 66.5M213.9 32.2L216.9 32.8M82.3 30.0L85.1 28.9M84.7 29.1L87.5 27.9M232.1 106.2L235.1 106.8M69.8 81.7L72.5 80.5" stroke="#1fa4e2" stroke-width="2.0"/>
<path d="M94.2 32.9L97.1 33.7M96.7 33.6L99.6 34.4M99.2 34.3L102.1 35.0M101.7 34.9L104.6 35.7M104.2 35.6L107.1 36.4M109.3 37.0L112.1 37.8M111.8 37.6L114.7 38.4M114.3 38.3L117.2 39.1M116.8 39.0L119.7 39.8M119.3 39.7L122.2 40.5M121.8 40.4L124.7 41.1M124.3 41.0L127.2 41.8M126.8 41.7L129.7 42.5M129.3 42.4L132.2 43.2M71.7 85.5L74.6 86.2M104.4 94.0L107.3 94.8M123.4 69.4L126.3 70.3M125.9 70.2L128.8 71.0M108.7 23.0L111.5 24.1M111.1 24.0L113.9 25.1M113.5 25.0L116.3 26.1M115.9 25.9L118.7 27.0M118.4 26.9L121.1 28.0M67.7 80.8L70.6 81.7M70.2 81.6L73.1 82.5M127.3 99.3L130.2 100.2M129.8 100.1L132.7 101.0M132.3 100.9L135.1 101.7M139.7 103.2L142.6 104.0M142.2 103.9L145.1 104.8M154.6 107.8L157.5 108.7M81.1 37.4L84.0 37.9M64.6 61.4L67.5 60.6M67.1 60.7L70.0 59.8M79.5 56.9L82.4 56.1M156.7 33.8L159.6 32.9M159.2 33.0L162.1 32.1M161.7 32.3L164.6 31.4M171.7 29.3L174.5 28.4M174.2 28.5L177.0 27.7" stroke="#11b1d6" stroke-width="1.5"/>
<path d="M110.8 85.8L113.5 84.7M113.2 84.8L115.9 83.7M125.1 79.8L127.9 78.6M127.5 78.7L130.3 77.6M129.9 77.7L132.7 76.6M132.3 76.7L135.1 75.6M134.7 75.7L137.5 74.5M173.0 59.5L175.8 58.3M175.4 58.5L178.2 57.3M177.8 57.5L180.6 56.3M180.2 56.5L183.0 55.3M182.6 55.5L185.4 54.3M185.0 54.4L187.7 53.3M187.4 53.4L190.1 52.3M189.8 52.4L192.5 51.3M192.2 51.4L194.9 50.2M194.6 50.4L197.3 49.2M214.6 85.3L217.2 83.8M245.9 66.7L248.5 65.1M248.1 65.3L250.7 63.8M211.4 31.7L214.3 32.3M244.6 38.1L247.5 38.7" stroke="#11b1d6" stroke-width="2.0"/>
<path d="M106.7 36.3L109.6 37.1M74.2 86.1L77.1 86.9M132.1 101.3L134.9 102.0M116.0 67.2L118.8 68.0M118.4 67.9L121.3 68.8M120.9 68.7L123.8 69.5M128.4 70.9L131.3 71.8M126.1 103.0L128.9 101.9M120.8 27.9L123.6 29.0M123.2 28.8L126.0 29.9M125.6 29.8L128.4 30.9M128.0 30.7L130.8 31.8M134.8 101.6L137.6 102.5M137.3 102.4L140.1 103.3M157.1 108.5L160.0 109.4M83.6 37.8L86.6 38.3M93.9 39.7L96.8 40.2M151.8 35.2L154.6 34.4M154.2 34.5L157.1 33.6M176.7 27.8L179.5 26.9M107.3 104.9L110.1 105.8" stroke="#01bac3" stroke-width="1.5"/>
<path d="M108.4 86.9L111.1 85.7M137.1 74.7L139.9 73.5M139.5 73.7L142.2 72.5M141.9 72.7L144.6 71.5M144.3 71.7L147.0 70.5M146.7 70.6L149.4 69.5M149.1 69.6L151.8 68.5M151.5 68.6L154.2 67.5M153.9 67.6L156.6 66.4M156.3 66.6L159.0 65.4M158.7 65.6L161.4 64.4M161.0 64.6L163.8 63.4M163.4 63.6L166.2 62.4M165.8 62.5L168.6 61.4M168.2 61.5L171.0 60.4M170.6 60.5L173.4 59.4M212.4 86.6L215.0 85.1M208.8 31.3L211.8 31.8M229.6 105.7L232.5 106.3M95.3 49.9L98.0 48.9M97.7 49.0L100.5 47.9M100.1 48.1L102.9 47.0M102.6 47.2L105.3 46.1M105.0 46.2L107.8 45.2M76.9 78.5L79.6 77.3M86.4 74.2L89.1 72.9M88.7 73.1L91.4 71.8M91.1 72.0L93.8 70.8" stroke="#01bac3" stroke-width="2.0"/>
<path d="M106.0 87.9L108.7 86.7M206.3 30.8L209.2 31.3M247.1 38.6L250.1 39.2M60.6 38.8L63.4 37.7M227.0 105.2L230.0 105.8M247.5 109.2L250.4 109.7M67.4 82.8L70.2 81.6M79.3 77.4L82.0 76.2M81.6 76.3L84.3 75.1M84.0 75.3L86.7 74.0M96.3 104.7L99.1 105.6" stroke="#23c1ae" stroke-width="2.0"/>
<path d="M101.9 93.4L104.8 94.1M134.6 101.9L137.5 102.7M111.0 65.7L113.8 66.5M113.5 66.4L116.3 67.3M130.9 71.7L133.8 72.5M130.4 31.7L133.2 32.8M132.9 32.7L135.6 33.8M135.3 33.6L138.0 34.7M137.7 34.6L140.5 35.7M140.1 35.6L142.9 36.7M142.5 36.5L145.3 37.6M159.6 109.3L162.5 110.2M82.0 56.2L84.9 55.3M149.3 36.0L152.1 35.1M109.8 105.6L112.6 106.5" stroke="#23c1ae" stroke-width="1.5"/>
<path d="M103.6 88.9L106.3 87.7M210.2 88.0L212.7 86.4M193.5 28.3L196.5 28.9M196.1 28.8L199.0 29.4M249.7 39.1L252.6 39.7M196.4 99.3L199.3 99.9M199.0 99.8L201.9 100.4M201.5 100.3L204.4 100.9M250.0 109.7L252.9 110.2M154.9 42.8L157.6 41.6M157.3 41.7L160.0 40.5M162.0 39.6L164.7 38.3M164.4 38.5L167.1 37.3M183.3 29.9L186.0 28.6M98.8 105.5L101.6 106.3" stroke="#37c797" stroke-width="2.0"/>
<path d="M76.7 86.8L79.6 87.5M96.8 92.1L99.7 92.8M99.3 92.7L102.2 93.5M137.1 102.6L140.0 103.3M139.6 103.2L142.5 104.0M142.1 103.9L145.0 104.6M64.4 34.7L67.3 35.5M67.0 35.4L69.8 36.2M154.8 59.1L157.7 59.9M157.3 59.8L160.2 60.6M159.8 60.5L162.7 61.3M106.0 64.2L108.9 65.0M108.5 64.9L111.3 65.8M133.4 72.4L136.2 73.3M175.7 85.1L178.6 86.0M123.7 104.0L126.5 102.9M144.9 37.5L147.7 38.6M147.3 38.4L150.1 39.5M149.8 39.4L152.5 40.5M162.1 110.1L165.0 111.0M86.2 38.3L89.1 38.8M88.8 38.7L91.7 39.3M91.3 39.2L94.3 39.7M62.1 62.2L65.0 61.3M84.5 55.4L87.4 54.6M146.8 36.7L149.6 35.9" stroke="#37c797" stroke-width="1.5"/>
<path d="M96.4 91.9L99.1 90.8M98.8 90.9L101.5 89.7M101.2 89.9L103.9 88.7M207.9 89.3L210.5 87.8M198.6 29.3L201.6 29.9M201.2 29.8L204.1 30.4M204.1 100.8L207.0 101.4M224.5 104.7L227.4 105.3M152.6 43.9L155.3 42.7M166.8 37.4L169.5 36.2M169.1 36.3L171.8 35.1M178.6 32.0L181.3 30.8M180.9 30.9L183.7 29.7M101.3 106.2L104.1 107.0" stroke="#56cc7a" stroke-width="2.0"/>
<path d="M94.3 91.4L97.2 92.2M144.6 104.5L147.5 105.3M147.1 105.2L150.0 106.0M69.5 36.1L72.3 36.9M152.3 58.5L155.2 59.2M162.3 61.2L165.2 61.9M164.8 61.8L167.7 62.6M184.9 67.3L187.8 68.0M187.4 67.9L190.3 68.7M101.0 62.7L103.9 63.5M103.5 63.4L106.4 64.3M135.9 73.2L138.7 74.0M173.2 84.4L176.1 85.3M121.3 105.0L124.1 103.9M164.6 110.9L167.4 111.7M167.1 111.6L169.9 112.5M100.9 104.6L103.8 105.5M112.2 106.4L115.1 107.3" stroke="#56cc7a" stroke-width="1.5"/>
<path d="M94.0 92.9L96.8 91.8M203.5 92.0L206.0 90.4M206.6 101.3L209.5 101.8M150.2 45.0L152.9 43.7M81.3 100.4L84.2 101.2" stroke="#8fca4d" stroke-width="2.0"/>
<path d="M91.8 90.7L94.7 91.5M167.4 62.5L170.2 63.3M98.5 61.9L101.4 62.8M170.7 83.6L173.6 84.5M106.7 107.7L109.4 106.6M144.3 37.5L147.1 36.6" stroke="#8fca4d" stroke-width="1.5"/>
<path d="M79.2 87.4L82.1 88.2M152.2 106.5L155.1 107.3M138.4 73.9L141.2 74.8M163.3 81.4L166.1 82.3M165.8 82.1L168.6 83.0M168.2 82.9L171.1 83.8M109.3 109.9L112.0 108.8M114.7 107.2L117.6 108.1M103.3 39.7L106.2 40.6M94.9 50.5L97.8 49.6M140.3 53.2L143.1 54.2M145.2 54.9L148.0 55.9M150.7 110.4L153.7 110.8M153.3 110.7L156.3 111.1" stroke="#b8c430" stroke-width="1.5"/>
<path d="M214.3 102.8L217.2 103.3M114.7 61.2L117.4 60.0M73.8 98.2L76.7 99.0M100.9 41.3L103.8 42.1M105.9 42.7L108.8 43.6M203.6 113.6L206.5 114.0M97.6 110.8L100.6 110.7M122.1 112.3L125.0 111.5" stroke="#b8c430" stroke-width="2.0"/>
<path d="M154.7 107.2L157.6 107.9M58.7 49.9L61.6 50.8M81.1 56.7L84.0 57.5M91.1 59.7L93.9 60.5M140.9 74.7L143.7 75.5M153.3 78.4L156.2 79.3M114.1 108.0L116.9 106.8M99.4 110.5L102.2 109.5M174.5 113.9L177.4 114.8M177.0 114.7L179.9 115.6M179.5 115.5L182.3 116.4M186.9 117.8L189.8 118.7M191.9 119.3L194.8 120.2M194.4 120.1L197.2 121.0M141.8 38.2L144.7 37.4M108.6 49.9L111.5 50.7M118.2 45.4L121.0 46.4M155.9 111.1L158.9 111.5M158.5 111.4L161.4 111.8" stroke="#dcbc28" stroke-width="1.5"/>
<path d="M117.1 60.1L119.8 58.9M147.8 46.1L150.6 44.8M121.4 55.0L124.3 55.7M127.1 38.2L130.1 38.6M83.4 36.3L86.3 37.1M85.9 37.0L88.8 37.8M108.4 43.5L111.3 44.3M100.7 46.4L103.6 47.3M167.4 109.8L170.1 108.6M198.1 105.9L201.0 105.2" stroke="#dcbc28" stroke-width="2.0"/>
<path d="M89.2 95.0L92.0 93.8M119.5 59.0L122.2 57.8M124.5 37.7L127.5 38.2M105.4 36.9L108.2 37.8M120.6 52.5L123.4 53.4M182.9 108.1L185.8 107.1M187.8 106.3L190.7 105.3M194.1 112.2L196.9 111.0M169.8 108.7L172.5 107.5M164.2 109.1L167.1 110.0M186.6 116.0L189.4 116.9M161.9 114.1L164.8 114.7" stroke="#f8ba3d" stroke-width="2.0"/>
<path d="M89.3 90.1L92.2 90.8M142.3 55.7L145.1 56.5M61.2 50.7L64.0 51.5M78.6 55.9L81.5 56.8M116.5 107.0L119.3 105.8M184.4 117.0L187.3 117.9M59.6 62.9L62.5 62.1M122.1 109.6L125.0 110.5M102.4 48.2L105.2 47.3M120.7 46.3L123.5 47.3M123.1 47.1L125.9 48.1" stroke="#f8ba3d" stroke-width="1.5"/>
<path d="M86.8 96.0L89.6 94.8M71.3 97.5L74.2 98.3M118.9 54.3L121.8 55.1M114.3 36.0L117.2 36.5M116.9 36.5L119.8 36.9M95.6 33.6L98.4 34.5M127.4 52.6L130.4 53.2M95.9 39.9L98.8 40.7M165.8 114.1L168.6 113.1M168.2 113.2L171.1 112.2M170.7 112.4L173.5 111.4M178.0 109.8L180.9 108.8M172.1 107.6L174.8 106.4M188.0 108.4L190.9 107.7M121.9 111.5L124.7 112.5M129.7 110.3L132.6 109.6" stroke="#fdc933" stroke-width="2.0"/>
<path d="M63.7 51.4L66.5 52.3M66.2 52.2L69.0 53.0M68.7 52.9L71.5 53.8M71.1 53.7L74.0 54.5M65.2 80.1L68.1 81.0M199.3 121.6L202.2 122.5M201.8 122.4L204.7 123.3M129.6 111.9L132.4 112.8M104.8 47.4L107.7 46.6M98.6 47.1L101.5 47.9M132.9 50.6L135.8 51.6M135.4 51.5L138.2 52.5M111.8 39.9L114.7 40.4M114.3 40.4L117.3 40.9M116.9 40.9L119.8 41.4M119.4 41.4L122.4 41.9M211.9 113.8L214.9 114.4M161.1 111.7L164.0 112.1" stroke="#fdc933" stroke-width="1.5"/>
<path d="M65.1 83.9L67.8 82.7M140.7 49.3L143.5 48.1M116.4 53.6L119.3 54.4M114.7 50.1L117.6 50.7M117.2 50.6L120.2 51.2M135.1 54.1L138.0 54.7M110.6 49.5L113.5 50.3M114.5 108.9L117.3 109.9" stroke="#f6dc29" stroke-width="2.0"/>
<path d="M92.0 53.2L94.9 52.3M225.1 112.5L228.1 113.0M186.4 108.6L189.4 109.2M204.3 112.2L207.2 112.8M168.8 112.7L171.8 113.1M133.4 112.3L136.3 113.3" stroke="#f6dc29" stroke-width="1.5"/>
<path d="M72.4 102.0L75.2 100.9M74.8 101.0L77.6 99.9M77.2 100.0L80.0 98.9M79.6 99.0L82.4 97.8M82.0 98.0L84.8 96.8M128.9 54.7L131.6 53.5M136.0 51.5L138.7 50.2M138.4 50.4L141.1 49.1M108.8 51.6L111.7 52.4M210.8 104.9L213.5 103.7M215.6 102.8L218.3 101.6M184.0 102.3L186.7 101.1M169.2 110.7L172.0 111.5M176.6 112.9L179.5 113.8M179.1 113.7L182.0 114.6M123.6 109.9L126.5 109.8M126.2 109.8L129.1 109.7M169.5 115.8L172.4 116.5" stroke="#f5ef20" stroke-width="2.0"/>
<path d="M179.8 113.8L182.7 114.5M194.9 117.7L197.8 118.5M79.5 38.8L82.4 39.6M99.6 44.2L102.5 45.0M114.6 48.3L117.5 49.1M117.2 49.0L120.0 49.7M137.2 54.4L140.1 55.2M94.5 52.4L97.3 51.6M99.5 51.0L102.3 50.1M109.4 48.0L112.3 47.1M114.4 46.5L117.3 45.6M121.9 44.2L124.7 43.4M124.4 43.5L127.2 42.6M126.9 42.7L129.7 41.9M129.3 42.0L132.2 41.1M136.8 39.7L139.7 38.9M118.4 109.6L121.3 110.4M120.9 110.3L123.8 111.1M122.7 40.6L125.6 41.5M127.7 42.1L130.6 42.9M129.7 43.4L132.6 43.9M177.2 107.5L180.1 108.2M191.9 106.1L194.9 106.7M197.0 107.1L200.0 107.7M209.8 109.5L212.8 110.1M214.9 110.5L217.9 111.1M217.5 111.0L220.4 111.6M196.6 110.7L199.6 111.3M201.7 111.7L204.7 112.3M208.3 105.1L211.3 105.5M210.9 105.4L213.8 105.9M216.0 106.2L219.0 106.6M226.3 107.7L229.3 108.1M163.6 112.1L166.6 112.5" stroke="#f5ef20" stroke-width="1.5"/>
<path d="M203.6 108.0L206.4 106.8" stroke="#56cc7a" stroke-width="2.0"/>
<path d="M82.1 83.0L85.0 82.3M105.5 56.5L108.3 55.5M213.0 118.2L215.6 116.7M149.7 105.9L152.6 106.6M169.9 63.2L172.8 64.0M172.4 63.9L175.3 64.7M96.0 61.2L98.9 62.0M104.2 108.7L107.0 107.6M72.2 95.9L74.9 94.7M91.2 87.4L93.9 86.1M169.5 112.4L172.4 113.3M99.0 36.1L101.9 36.5M120.1 93.6L122.7 92.1" stroke="#8fca4d" stroke-width="1.5"/>
<path d="M205.7 90.6L208.3 89.1M79.5 94.1L82.4 93.6M87.1 92.8L90.1 92.3M198.8 95.9L201.7 96.6M221.5 101.6L224.4 102.3M224.0 102.2L226.9 102.9M174.3 61.3L177.1 60.1M205.5 48.2L208.3 47.1M72.3 94.0L75.0 92.9M104.4 48.7L107.1 47.5M165.1 108.2L167.8 107.0M76.3 98.9L79.2 99.8M78.8 99.6L81.7 100.5M86.3 101.8L89.2 102.7M201.3 109.1L204.0 107.9M206.0 107.0L208.8 105.8M95.0 110.9L98.0 110.8" stroke="#8fca4d" stroke-width="2.0"/>
<path d="M175.7 60.8L178.6 60.2M80.0 92.2L83.0 91.5M82.6 91.6L85.5 90.9M210.8 119.6L213.4 118.0M124.8 107.4L127.5 106.3M185.7 112.6L188.5 111.4M79.4 98.0L82.3 97.5M72.0 36.8L74.9 37.5M93.5 60.4L96.4 61.3M160.8 80.6L163.6 81.5M118.9 106.0L121.7 104.9M101.8 109.6L104.6 108.5M76.5 97.3L79.2 96.0M78.9 96.2L81.6 94.9M172.0 113.2L174.9 114.1M182.7 110.3L185.6 111.1M185.2 111.0L188.1 111.8M164.5 110.6L167.3 111.5M194.3 119.7L197.2 120.5M87.0 54.7L89.9 53.8M103.4 105.4L106.3 106.2M109.0 100.3L111.5 98.8M133.5 85.6L136.0 84.0M105.8 40.5L108.7 41.4M97.4 49.7L100.2 48.8" stroke="#b8c430" stroke-width="1.5"/>
<path d="M112.6 50.0L115.4 48.9M115.0 49.0L117.8 47.9M117.5 48.1L120.2 46.9M119.9 47.1L122.6 46.0M91.6 93.9L94.4 92.8M218.4 105.5L221.0 103.9M82.0 93.7L85.0 93.2M84.6 93.2L87.5 92.7M209.2 101.8L212.1 102.3M211.7 102.3L214.7 102.8M218.9 100.9L221.8 101.7M128.9 53.1L131.7 51.8M171.9 62.3L174.7 61.1M207.9 47.2L210.6 46.0M81.9 90.2L84.7 89.1M102.0 49.7L104.7 48.5M113.9 44.6L116.7 43.4M135.4 35.3L138.2 34.1M145.6 41.7L148.5 40.9M83.8 101.1L86.7 101.9M198.9 110.1L201.6 108.9M96.3 109.6L99.2 110.5" stroke="#b8c430" stroke-width="2.0"/>
<path d="M140.7 77.6L143.6 76.9M150.8 75.1L153.7 74.4M144.5 42.1L147.3 41.1M208.6 120.9L211.1 119.4M81.7 88.1L84.6 88.9M83.6 57.4L86.5 58.3M86.1 58.2L88.9 59.0M88.6 58.9L91.4 59.8M155.8 79.1L158.7 80.0M158.3 79.9L161.1 80.8M111.7 108.9L114.5 107.8M74.0 95.7L76.7 94.5M133.3 71.4L136.0 70.2M145.1 66.0L147.9 64.8M189.4 118.6L192.3 119.4M196.8 120.4L199.7 121.3M198.7 111.6L201.6 110.7M105.9 106.1L108.8 106.9M117.2 108.0L120.0 108.9M119.7 108.8L122.5 109.7M106.8 101.7L109.3 100.1M100.9 38.9L103.7 39.8M108.3 41.3L111.1 42.2M99.9 49.0L102.7 48.1M113.3 43.7L116.1 44.7M115.8 44.5L118.6 45.5M147.6 55.8L150.5 56.8" stroke="#dcbc28" stroke-width="1.5"/>
<path d="M124.7 45.1L127.5 44.0M176.4 109.0L179.2 107.8M108.3 29.5L111.3 30.0M126.3 32.5L129.2 33.0M141.4 108.5L144.2 107.4M206.3 97.8L209.2 98.5M208.9 98.4L211.8 99.1M211.4 99.0L214.3 99.8M116.3 43.5L119.1 42.4M118.7 42.5L121.5 41.3M125.9 39.4L128.6 38.2M128.3 38.4L131.0 37.2M93.3 44.1L96.1 45.0M95.7 44.8L98.6 45.7M103.2 47.1L106.1 48.0M195.9 112.3L198.8 112.8M198.4 112.7L201.4 113.2M201.0 113.2L203.9 113.6M196.5 111.1L199.2 109.9M100.2 110.7L103.2 110.6M102.8 110.6L105.8 110.5" stroke="#dcbc28" stroke-width="2.0"/>
<path d="M165.6 63.2L168.5 62.5M148.3 75.8L151.2 75.1M204.1 123.6L206.7 122.0M206.3 122.2L208.9 120.7M84.3 88.8L87.1 89.5M74.5 37.4L77.4 38.2M73.6 54.4L76.5 55.3M76.1 55.2L79.0 56.0M143.3 75.4L146.2 76.3M145.8 76.2L148.7 77.0M148.3 76.9L151.2 77.8M150.8 77.6L153.7 78.5M86.4 89.5L89.2 88.3M135.7 70.3L138.4 69.1M182.0 116.2L184.8 117.1M196.9 120.9L199.7 121.7M197.8 114.5L200.6 115.3M181.9 115.9L184.7 116.8M89.5 53.9L92.4 53.1M98.4 38.1L101.2 39.0M103.6 48.5L106.5 49.3M111.1 50.6L114.0 51.3M137.8 52.3L140.7 53.3M184.8 109.4L187.7 110.1M187.3 110.0L190.2 110.8M171.4 113.1L174.3 113.5" stroke="#f8ba3d" stroke-width="1.5"/>
<path d="M189.5 122.9L192.0 121.3M191.7 121.5L194.3 120.0M110.9 30.0L113.8 30.4M113.4 30.4L116.4 30.9M123.7 32.1L126.7 32.6M145.5 47.1L148.2 45.9M143.2 42.4L146.0 41.6M111.7 35.6L114.7 36.1M102.9 36.1L105.8 37.0M88.4 37.7L91.3 38.5M98.4 40.6L101.3 41.4M113.4 44.9L116.3 45.7M115.9 45.6L118.8 46.4M105.7 47.9L108.5 48.8M193.3 111.9L196.2 112.4M208.4 105.9L211.1 104.7M193.0 107.2L195.9 106.4M195.5 106.5L198.4 105.8M184.1 115.2L186.9 116.1M189.1 116.7L191.9 117.6M142.8 113.7L145.7 112.8M147.8 112.1L150.6 111.2M124.6 111.6L127.5 110.9" stroke="#f8ba3d" stroke-width="2.0"/>
<path d="M61.8 65.9L64.6 64.8M116.0 30.8L119.0 31.3M118.6 31.2L121.5 31.7M121.1 31.7L124.1 32.2M69.2 95.8L72.2 95.3M139.0 109.4L141.8 108.4M121.8 58.0L124.5 56.7M143.1 48.2L145.8 47.0M230.5 115.6L233.2 114.2M111.2 109.1L114.1 109.9M122.0 37.3L124.9 37.8M98.0 34.4L100.8 35.3M100.5 35.2L103.3 36.2M122.3 51.6L125.3 52.2M124.9 52.1L127.8 52.7M130.0 53.1L132.9 53.7M90.9 38.4L93.8 39.2M173.1 111.5L176.0 110.5M175.6 110.6L178.4 109.7M166.7 109.9L169.5 110.8M119.4 110.6L122.2 111.6M127.2 111.0L130.1 110.2M139.7 107.7L142.6 106.9M164.4 114.7L167.3 115.3" stroke="#fdc933" stroke-width="2.0"/>
<path d="M150.9 110.1L153.6 108.9M142.0 43.0L144.9 42.0M86.8 89.4L89.7 90.2M157.2 107.8L160.1 108.6M71.8 99.4L74.5 98.2M179.4 115.1L182.3 116.0M139.3 39.0L142.2 38.1M108.4 106.8L111.3 107.6M124.6 110.4L127.5 111.3M127.1 111.1L130.0 112.0M104.5 103.0L107.1 101.5M95.9 37.3L98.8 38.2M101.1 47.8L104.0 48.6M128.0 48.9L130.9 49.9M183.9 108.1L186.8 108.7M123.6 109.1L126.4 110.0" stroke="#fdc933" stroke-width="1.5"/>
<path d="M119.9 109.4L122.7 108.2M159.7 108.5L162.6 109.2M180.9 114.5L183.6 113.4M139.7 55.1L142.6 55.8M176.9 114.4L179.8 115.3M193.8 113.2L196.6 112.3M102.3 104.4L104.9 102.8M93.4 36.5L96.3 37.4M182.2 108.8L185.1 109.5M192.3 111.3L195.2 112.1M222.6 112.0L225.5 112.5M131.0 111.5L133.8 112.4" stroke="#f6dc29" stroke-width="1.5"/>
<path d="M174.0 109.9L176.7 108.8M124.2 56.9L126.9 55.6M228.2 116.8L230.8 115.4M119.8 51.1L122.7 51.7M93.4 39.1L96.3 40.0M190.3 105.5L193.1 104.5M222.7 99.7L225.4 98.5M180.4 110.3L183.3 109.6M182.9 109.7L185.8 109.0M132.2 109.7L135.1 108.9M134.7 109.0L137.6 108.3M137.2 108.4L140.1 107.6M167.0 115.2L169.9 115.9" stroke="#f6dc29" stroke-width="2.0"/>
<path d="M59.4 66.8L62.2 65.8M84.4 97.0L87.2 95.8M157.1 116.8L159.9 115.6M159.5 115.8L162.3 114.7M161.9 114.8L164.7 113.7M164.3 113.8L167.1 112.7M166.7 112.9L169.5 111.7M169.2 111.9L171.9 110.8M171.6 110.9L174.3 109.8M134.1 111.3L136.9 110.2M126.6 55.8L129.3 54.6M80.8 100.5L83.6 99.3M59.0 68.2L61.8 67.0M174.3 115.0L177.1 113.8M176.7 113.9L179.4 112.7M179.1 112.9L181.8 111.6M181.4 111.8L184.2 110.6M115.7 50.5L118.6 49.6M128.2 46.8L131.1 46.0M130.7 46.1L133.5 45.2M133.2 45.4L136.0 44.5M138.2 43.9L141.0 43.1M103.8 50.3L106.7 51.1M111.4 52.3L114.2 53.1M113.9 53.0L116.8 53.7M217.9 101.8L220.7 100.6M174.5 106.6L177.2 105.3M181.6 103.4L184.3 102.1M171.7 111.4L174.5 112.3M118.4 110.1L121.3 110.0M128.8 109.7L131.7 109.6M172.0 116.4L174.9 117.1" stroke="#f5ef20" stroke-width="2.0"/>
<path d="M143.8 113.3L146.5 112.1M115.2 52.9L118.0 51.9M117.7 52.0L120.5 51.0M120.1 51.1L122.9 50.1M122.5 50.2L125.3 49.2M125.0 49.3L127.8 48.3M127.4 48.4L130.2 47.4M134.7 45.7L137.5 44.7M162.2 109.2L165.1 109.9M164.8 109.8L167.6 110.6M167.3 110.5L170.2 111.2M169.8 111.1L172.7 111.9M172.3 111.8L175.2 112.5M174.8 112.4L177.7 113.2M177.3 113.1L180.2 113.9M182.4 114.4L185.3 115.2M184.9 115.1L187.8 115.8M187.4 115.7L190.3 116.5M189.9 116.4L192.8 117.1M192.4 117.0L195.3 117.8M171.2 118.4L174.0 117.3M176.0 116.4L178.8 115.3M178.5 115.5L181.2 114.3M77.0 38.1L79.9 38.9M82.0 39.5L84.9 40.3M92.1 42.2L94.9 43.0M94.6 42.9L97.4 43.6M97.1 43.5L100.0 44.3M102.1 44.9L105.0 45.7M104.6 45.6L107.5 46.4M107.1 46.3L110.0 47.0M109.6 46.9L112.5 47.7M112.1 47.6L115.0 48.4M119.7 49.6L122.6 50.4M169.4 112.1L172.3 113.0M97.0 51.7L99.8 50.8M101.9 50.2L104.8 49.3M104.4 49.5L107.3 48.6M106.9 48.7L109.8 47.8M111.9 47.2L114.8 46.4M116.9 45.7L119.8 44.9M119.4 45.0L122.2 44.1M131.8 41.2L134.7 40.4M134.3 40.5L137.2 39.6M178.9 117.8L181.7 116.9M181.4 117.0L184.2 116.1M113.4 108.2L116.3 109.0M115.9 108.9L118.8 109.7M123.4 111.0L126.3 111.8M125.9 111.7L128.8 112.5M120.2 39.9L123.1 40.8M125.2 41.4L128.1 42.2M130.2 42.8L133.0 43.7M127.1 42.9L130.0 43.4M179.7 108.1L182.6 108.9M194.5 106.6L197.4 107.2M207.3 109.1L210.2 109.6M194.1 110.1L197.0 110.7M199.2 111.2L202.1 111.8M213.5 105.8L216.4 106.2M218.6 106.6L221.6 107.0M223.8 107.3L226.7 107.8M166.2 112.4L169.2 112.8" stroke="#f5ef20" stroke-width="1.5"/>
</g>
<polygon points="320.4,60.9 324.3,58.9 337.6,58.6 340.7,60.6 346.1,65.6 350.8,70.3 352.4,75.7 351.9,80.4 354.7,86.6 357.1,93.7 361.0,100.7 364.1,103.0 371.9,104.6 377.3,106.1 380.5,108.9 385.9,109.7 397.3,108.5 404.8,108.0 409.1,110.4 425.1,111.8 438.2,114.7 454.2,116.8 465.8,117.6 471.7,119.1 483.3,122.0 492.0,121.4 503.7,121.4 518.2,120.0 532.8,119.1 538.9,118.5 538.9,127.0 332.9,127.0 332.9,118.6 332.1,112.4 329.8,107.7 330.6,103.0 333.4,96.8 332.9,89.0 331.3,86.6 324.3,92.9 320.4,98.3" fill="#fff"/>
<polygon points="320.4,64.8 324.3,64.3 326.7,66.4 327.0,69.5 325.1,71.8 320.4,72.6" fill="#7dfd80" stroke="#222" stroke-width="0.8"/>
<polyline points="320.4,60.9 324.3,58.9 337.6,58.6 340.7,60.6 346.1,65.6 350.8,70.3 352.4,75.7 351.9,80.4 354.7,86.6 357.1,93.7 361.0,100.7 364.1,103.0 371.9,104.6 377.3,106.1 380.5,108.9 385.9,109.7 397.3,108.5 404.8,108.0 409.1,110.4 425.1,111.8 438.2,114.7 454.2,116.8 465.8,117.6 471.7,119.1 483.3,122.0 492.0,121.4 503.7,121.4 518.2,120.0 532.8,119.1 538.9,118.5" fill="none" stroke="#151515" stroke-width="1.1"/>
<polyline points="320.4,98.3 324.3,92.9 331.3,86.6 332.9,89.0 333.4,96.8 330.6,103.0 329.8,107.7 332.1,112.4 332.9,118.6 332.9,127.0" fill="none" stroke="#222" stroke-width="0.9"/>
<g transform="translate(287.3,0)">
<path d="M110.8 108.4h1.5M81.7 99.5h1.1M100.6 105.7h1.8M208.8 117.4h1.4M110.0 105.0h1.7M78.1 99.8h1.5M64.1 71.2h1.9M183.9 115.6h1.5M120.1 109.6h1.3M69.8 89.8h1.2M150.7 111.5h1.9M172.3 116.5h1.1" stroke="#07b4d0" stroke-width="1.7" stroke-linecap="round" fill="none"/>
<path d="M65.9 71.3h1.4M219.7 119.5h1.3M100.7 108.6h1.3M81.4 100.4h1.8M136.8 105.7h1.6M222.8 118.5h1.1M64.2 67.2h2.0M92.9 105.9h1.4M163.1 110.2h1.3M110.8 109.8h2.1M120.0 110.7h1.6M210.0 118.7h1.3M223.1 119.7h2.1M135.7 109.6h1.1M141.5 111.6h1.7" stroke="#dcbc28" stroke-width="1.7" stroke-linecap="round" fill="none"/>
<path d="M87.1 100.9h1.1M66.5 81.4h1.6M109.7 103.5h1.9M226.2 122.0h2.2M75.8 101.1h2.0M161.8 113.0h2.0M87.5 102.7h1.6M191.3 116.4h1.9M108.6 107.7h1.9M61.7 81.7h2.1M84.8 101.8h1.6M192.8 115.4h1.2M196.4 116.4h1.6M133.6 109.6h1.9M71.4 94.3h1.0" stroke="#f4e824" stroke-width="1.7" stroke-linecap="round" fill="none"/>
<path d="M206.7 116.5h1.2M217.7 116.8h1.6M213.5 120.2h1.6M80.0 102.9h1.8M103.1 107.8h1.3M191.8 122.4h1.1M141.7 108.3h2.0M207.8 118.5h1.1M123.2 107.3h1.3M65.7 87.8h1.3M92.2 104.5h1.4M63.7 64.4h2.1M116.6 107.4h2.1M237.0 117.8h1.8M171.0 115.6h1.7M199.3 118.5h1.6M94.7 103.8h1.1M79.7 95.9h1.0" stroke="#f8ba3d" stroke-width="1.7" stroke-linecap="round" fill="none"/>
<path d="M78.1 101.6h1.6M180.7 116.7h2.2M75.6 101.5h1.8M92.4 104.2h2.1M238.1 118.9h1.3M63.2 76.4h2.0M104.1 106.9h1.2M166.6 112.3h1.1M250.7 120.1h1.6M93.2 108.3h1.5M130.9 109.6h1.7M213.8 121.5h1.5M94.3 106.8h1.2" stroke="#4acb84" stroke-width="1.7" stroke-linecap="round" fill="none"/>
<path d="M189.7 117.5h1.9M89.0 102.7h2.1M77.2 98.9h2.0M74.2 95.3h1.4M211.7 121.3h1.5M200.1 119.6h1.5M195.0 119.2h1.2M111.9 106.3h1.5M217.4 117.9h1.3M92.0 106.6h2.0M64.1 66.6h1.6M107.9 104.1h2.2M139.1 111.0h1.3M71.2 94.9h1.5M115.9 106.2h1.2M98.3 104.9h2.1" stroke="#f5ef20" stroke-width="1.7" stroke-linecap="round" fill="none"/>
<path d="M212.5 123.7h1.2M122.4 108.0h1.0M62.8 69.7h2.1M66.5 78.4h1.2M120.9 106.4h1.5M232.0 114.1h1.2M173.0 115.2h2.1M200.7 122.3h1.6M66.3 78.0h1.1M76.5 98.9h1.5M67.3 86.2h1.6M193.4 121.2h2.1" stroke="#f6dc29" stroke-width="1.7" stroke-linecap="round" fill="none"/>
<path d="M225.9 117.7h1.4M194.0 119.9h1.5M185.7 116.1h2.0M74.1 102.1h1.1M173.6 114.0h1.2M100.8 107.6h1.7M239.6 116.5h1.6M93.3 104.0h2.2M158.0 110.9h1.5M222.8 119.2h2.0M77.5 97.1h1.8M68.1 83.2h1.8M104.9 105.2h1.3M70.8 95.9h1.3M68.0 80.6h1.4" stroke="#f9d52d" stroke-width="1.7" stroke-linecap="round" fill="none"/>
<path d="M70.5 92.1h1.6M65.9 70.9h2.1M61.7 70.7h1.9M72.1 100.1h1.6M83.7 101.2h2.1M120.3 106.9h1.5M120.9 108.8h1.7M68.8 90.0h1.8M169.1 115.6h1.9M60.3 65.8h1.9M131.8 109.6h1.4M102.5 109.2h1.5M68.4 92.5h1.2M75.4 98.8h1.3" stroke="#fdc933" stroke-width="1.7" stroke-linecap="round" fill="none"/>
</g>
</g>
<line x1="320.5" y1="127.0" x2="539.3" y2="127.0" stroke="#333" stroke-width="1"/>
<line x1="320.5" y1="127.0" x2="320.5" y2="124.8" stroke="#333" stroke-width="0.7"/>
<text x="320.5" y="141" text-anchor="middle" font-size="9.8" fill="#333">56</text>
<line x1="351.7" y1="127.0" x2="351.7" y2="124.8" stroke="#333" stroke-width="0.7"/>
<text x="351.7" y="141" text-anchor="middle" font-size="9.8" fill="#333">57</text>
<line x1="382.9" y1="127.0" x2="382.9" y2="124.8" stroke="#333" stroke-width="0.7"/>
<text x="382.9" y="141" text-anchor="middle" font-size="9.8" fill="#333">58</text>
<line x1="414.1" y1="127.0" x2="414.1" y2="124.8" stroke="#333" stroke-width="0.7"/>
<text x="414.1" y="141" text-anchor="middle" font-size="9.8" fill="#333">59</text>
<line x1="445.3" y1="127.0" x2="445.3" y2="124.8" stroke="#333" stroke-width="0.7"/>
<text x="445.3" y="141" text-anchor="middle" font-size="9.8" fill="#333">60</text>
<line x1="476.5" y1="127.0" x2="476.5" y2="124.8" stroke="#333" stroke-width="0.7"/>
<text x="476.5" y="141" text-anchor="middle" font-size="9.8" fill="#333">61</text>
<line x1="507.7" y1="127.0" x2="507.7" y2="124.8" stroke="#333" stroke-width="0.7"/>
<text x="507.7" y="141" text-anchor="middle" font-size="9.8" fill="#333">62</text>
<line x1="538.9" y1="127.0" x2="538.9" y2="124.8" stroke="#333" stroke-width="0.7"/>
<text x="538.9" y="141" text-anchor="middle" font-size="9.8" fill="#333">63</text>
<text x="316.9" y="130.9" text-anchor="end" font-size="9.8" fill="#333">25</text>
<text x="316.9" y="99.7" text-anchor="end" font-size="9.8" fill="#333">26</text>
<text x="316.9" y="68.5" text-anchor="end" font-size="9.8" fill="#333">27</text>
<text x="316.9" y="37.3" text-anchor="end" font-size="9.8" fill="#333">28</text>
<text x="429.9" y="154" text-anchor="middle" font-size="9.85" fill="#333">Longitude</text>
<text x="430.3" y="13.7" text-anchor="middle" font-size="9.9" font-weight="bold" fill="#000">Corrected SNR after data preparation</text>
</g>
<rect x="254.6" y="19.3" width="14" height="85" fill="url(#par)" stroke="#333" stroke-width="0.6"/>
<text x="272" y="23.4" font-size="9.8" fill="#333">160</text>
<text x="272" y="63.199999999999996" font-size="9.8" fill="#333">150</text>
<line x1="268.6" y1="59.8" x2="266.6" y2="59.8" stroke="#333" stroke-width="0.6"/>
<text x="272" y="104.0" font-size="9.8" fill="#333">140</text>
<line x1="268.6" y1="100.6" x2="266.6" y2="100.6" stroke="#333" stroke-width="0.6"/>
<text transform="translate(13.4,72.2) rotate(-90)" text-anchor="middle" font-size="9.9" fill="#333">Latitude</text>
<g>
<rect x="33.6" y="182.5" width="218.1" height="123.5" fill="#fff"/>
<line x1="60.6" y1="182.5" x2="60.6" y2="306.0" stroke="#dedede" stroke-width="0.7"/>
<text x="60.6" y="320" text-anchor="middle" font-size="9.8" fill="#333">10</text>
<line x1="89.8" y1="182.5" x2="89.8" y2="306.0" stroke="#dedede" stroke-width="0.7"/>
<text x="89.8" y="320" text-anchor="middle" font-size="9.8" fill="#333">20</text>
<line x1="119.0" y1="182.5" x2="119.0" y2="306.0" stroke="#dedede" stroke-width="0.7"/>
<text x="119.0" y="320" text-anchor="middle" font-size="9.8" fill="#333">30</text>
<line x1="148.2" y1="182.5" x2="148.2" y2="306.0" stroke="#dedede" stroke-width="0.7"/>
<text x="148.2" y="320" text-anchor="middle" font-size="9.8" fill="#333">40</text>
<line x1="177.4" y1="182.5" x2="177.4" y2="306.0" stroke="#dedede" stroke-width="0.7"/>
<text x="177.4" y="320" text-anchor="middle" font-size="9.8" fill="#333">50</text>
<line x1="206.6" y1="182.5" x2="206.6" y2="306.0" stroke="#dedede" stroke-width="0.7"/>
<text x="206.6" y="320" text-anchor="middle" font-size="9.8" fill="#333">60</text>
<line x1="235.8" y1="182.5" x2="235.8" y2="306.0" stroke="#dedede" stroke-width="0.7"/>
<text x="235.8" y="320" text-anchor="middle" font-size="9.8" fill="#333">70</text>
<text x="23.7" y="309.9" text-anchor="middle" font-size="9.8" fill="#333">0</text>
<line x1="33.6" y1="244.2" x2="251.7" y2="244.2" stroke="#dedede" stroke-width="0.7"/>
<text x="23.7" y="248.2" text-anchor="middle" font-size="9.8" fill="#333">5</text>
<line x1="33.6" y1="182.5" x2="251.7" y2="182.5" stroke="#dedede" stroke-width="0.7"/>
<text x="29.8" y="186.4" text-anchor="end" font-size="9.8" fill="#333">10</text>
<rect x="43.09" y="280.68" width="5.84" height="25.32" fill="#63aadb" stroke="#121a22" stroke-width="0.7"/>
<rect x="48.93" y="281.30" width="5.84" height="24.70" fill="#63aadb" stroke="#121a22" stroke-width="0.7"/>
<rect x="54.76" y="286.86" width="5.84" height="19.14" fill="#63aadb" stroke="#121a22" stroke-width="0.7"/>
<rect x="60.60" y="299.82" width="5.84" height="6.17" fill="#63aadb" stroke="#121a22" stroke-width="0.7"/>
<rect x="66.44" y="291.80" width="5.84" height="14.20" fill="#63aadb" stroke="#121a22" stroke-width="0.7"/>
<rect x="72.28" y="298.59" width="5.84" height="7.41" fill="#63aadb" stroke="#121a22" stroke-width="0.7"/>
<rect x="78.12" y="290.56" width="5.84" height="15.44" fill="#63aadb" stroke="#121a22" stroke-width="0.7"/>
<rect x="83.96" y="278.83" width="5.84" height="27.17" fill="#63aadb" stroke="#121a22" stroke-width="0.7"/>
<rect x="89.80" y="282.54" width="5.84" height="23.46" fill="#63aadb" stroke="#121a22" stroke-width="0.7"/>
<rect x="95.63" y="283.77" width="5.84" height="22.23" fill="#63aadb" stroke="#121a22" stroke-width="0.7"/>
<rect x="101.47" y="286.86" width="5.84" height="19.14" fill="#63aadb" stroke="#121a22" stroke-width="0.7"/>
<rect x="107.31" y="264.01" width="5.84" height="41.99" fill="#63aadb" stroke="#121a22" stroke-width="0.7"/>
<rect x="113.15" y="291.18" width="5.84" height="14.82" fill="#63aadb" stroke="#121a22" stroke-width="0.7"/>
<rect x="118.99" y="292.42" width="5.84" height="13.59" fill="#63aadb" stroke="#121a22" stroke-width="0.7"/>
<rect x="124.83" y="265.25" width="5.84" height="40.75" fill="#63aadb" stroke="#121a22" stroke-width="0.7"/>
<rect x="130.67" y="235.61" width="5.84" height="70.39" fill="#63aadb" stroke="#121a22" stroke-width="0.7"/>
<rect x="136.50" y="201.64" width="5.84" height="104.36" fill="#63aadb" stroke="#121a22" stroke-width="0.7"/>
<rect x="142.34" y="266.48" width="5.84" height="39.52" fill="#63aadb" stroke="#121a22" stroke-width="0.7"/>
<rect x="148.18" y="257.22" width="5.84" height="48.78" fill="#63aadb" stroke="#121a22" stroke-width="0.7"/>
<rect x="154.02" y="249.81" width="5.84" height="56.19" fill="#63aadb" stroke="#121a22" stroke-width="0.7"/>
<rect x="159.86" y="266.48" width="5.84" height="39.52" fill="#63aadb" stroke="#121a22" stroke-width="0.7"/>
<rect x="165.70" y="272.65" width="5.84" height="33.34" fill="#63aadb" stroke="#121a22" stroke-width="0.7"/>
<rect x="171.54" y="259.69" width="5.84" height="46.31" fill="#63aadb" stroke="#121a22" stroke-width="0.7"/>
<rect x="177.37" y="264.01" width="5.84" height="41.99" fill="#63aadb" stroke="#121a22" stroke-width="0.7"/>
<rect x="183.21" y="234.37" width="5.84" height="71.63" fill="#63aadb" stroke="#121a22" stroke-width="0.7"/>
<rect x="189.05" y="262.16" width="5.84" height="43.84" fill="#63aadb" stroke="#121a22" stroke-width="0.7"/>
<rect x="194.89" y="255.98" width="5.84" height="50.02" fill="#63aadb" stroke="#121a22" stroke-width="0.7"/>
<rect x="200.73" y="265.25" width="5.84" height="40.75" fill="#63aadb" stroke="#121a22" stroke-width="0.7"/>
<rect x="206.57" y="251.04" width="5.84" height="54.96" fill="#63aadb" stroke="#121a22" stroke-width="0.7"/>
<rect x="212.41" y="247.34" width="5.84" height="58.66" fill="#63aadb" stroke="#121a22" stroke-width="0.7"/>
<rect x="218.24" y="277.60" width="5.84" height="28.40" fill="#63aadb" stroke="#121a22" stroke-width="0.7"/>
<rect x="224.08" y="249.19" width="5.84" height="56.81" fill="#63aadb" stroke="#121a22" stroke-width="0.7"/>
<rect x="229.92" y="297.97" width="5.84" height="8.03" fill="#63aadb" stroke="#121a22" stroke-width="0.7"/>
<rect x="235.76" y="288.71" width="5.84" height="17.29" fill="#63aadb" stroke="#121a22" stroke-width="0.7"/>
<rect x="33.6" y="182.5" width="218.1" height="123.5" fill="none" stroke="#333" stroke-width="0.7"/>
<line x1="60.6" y1="306.0" x2="60.6" y2="303.8" stroke="#333" stroke-width="0.6"/>
<line x1="60.6" y1="182.5" x2="60.6" y2="184.7" stroke="#333" stroke-width="0.6"/>
<line x1="89.8" y1="306.0" x2="89.8" y2="303.8" stroke="#333" stroke-width="0.6"/>
<line x1="89.8" y1="182.5" x2="89.8" y2="184.7" stroke="#333" stroke-width="0.6"/>
<line x1="119.0" y1="306.0" x2="119.0" y2="303.8" stroke="#333" stroke-width="0.6"/>
<line x1="119.0" y1="182.5" x2="119.0" y2="184.7" stroke="#333" stroke-width="0.6"/>
<line x1="148.2" y1="306.0" x2="148.2" y2="303.8" stroke="#333" stroke-width="0.6"/>
<line x1="148.2" y1="182.5" x2="148.2" y2="184.7" stroke="#333" stroke-width="0.6"/>
<line x1="177.4" y1="306.0" x2="177.4" y2="303.8" stroke="#333" stroke-width="0.6"/>
<line x1="177.4" y1="182.5" x2="177.4" y2="184.7" stroke="#333" stroke-width="0.6"/>
<line x1="206.6" y1="306.0" x2="206.6" y2="303.8" stroke="#333" stroke-width="0.6"/>
<line x1="206.6" y1="182.5" x2="206.6" y2="184.7" stroke="#333" stroke-width="0.6"/>
<line x1="235.8" y1="306.0" x2="235.8" y2="303.8" stroke="#333" stroke-width="0.6"/>
<line x1="235.8" y1="182.5" x2="235.8" y2="184.7" stroke="#333" stroke-width="0.6"/>
<line x1="33.6" y1="244.2" x2="35.800000000000004" y2="244.2" stroke="#333" stroke-width="0.6"/>
<line x1="251.7" y1="244.2" x2="249.5" y2="244.2" stroke="#333" stroke-width="0.6"/>
<line x1="33.6" y1="182.5" x2="35.800000000000004" y2="182.5" stroke="#333" stroke-width="0.6"/>
<line x1="251.7" y1="182.5" x2="249.5" y2="182.5" stroke="#333" stroke-width="0.6"/>
<text x="142.7" y="332.2" text-anchor="middle" font-size="9.85" fill="#333">Incidence angle (Degree)</text>
<text transform="translate(13.4,244.2) rotate(-90)" text-anchor="middle" font-size="9.9" fill="#333">Frequency (%)</text>
</g>
<g>
<rect x="320.6" y="182.5" width="218.6" height="123.5" fill="#fff"/>
<line x1="347.4" y1="182.5" x2="347.4" y2="306.0" stroke="#dedede" stroke-width="0.7"/>
<text x="347.4" y="320" text-anchor="middle" font-size="9.8" fill="#333">10</text>
<line x1="377.0" y1="182.5" x2="377.0" y2="306.0" stroke="#dedede" stroke-width="0.7"/>
<text x="377.0" y="320" text-anchor="middle" font-size="9.8" fill="#333">20</text>
<line x1="406.5" y1="182.5" x2="406.5" y2="306.0" stroke="#dedede" stroke-width="0.7"/>
<text x="406.5" y="320" text-anchor="middle" font-size="9.8" fill="#333">30</text>
<line x1="436.1" y1="182.5" x2="436.1" y2="306.0" stroke="#dedede" stroke-width="0.7"/>
<text x="436.1" y="320" text-anchor="middle" font-size="9.8" fill="#333">40</text>
<line x1="465.7" y1="182.5" x2="465.7" y2="306.0" stroke="#dedede" stroke-width="0.7"/>
<text x="465.7" y="320" text-anchor="middle" font-size="9.8" fill="#333">50</text>
<line x1="495.3" y1="182.5" x2="495.3" y2="306.0" stroke="#dedede" stroke-width="0.7"/>
<text x="495.3" y="320" text-anchor="middle" font-size="9.8" fill="#333">60</text>
<line x1="524.9" y1="182.5" x2="524.9" y2="306.0" stroke="#dedede" stroke-width="0.7"/>
<text x="524.9" y="320" text-anchor="middle" font-size="9.8" fill="#333">70</text>
<text x="311.4" y="309.9" text-anchor="middle" font-size="9.8" fill="#333">0</text>
<line x1="320.6" y1="244.2" x2="539.2" y2="244.2" stroke="#dedede" stroke-width="0.7"/>
<text x="311.4" y="248.2" text-anchor="middle" font-size="9.8" fill="#333">5</text>
<line x1="320.6" y1="182.5" x2="539.2" y2="182.5" stroke="#dedede" stroke-width="0.7"/>
<text x="316.8" y="186.4" text-anchor="end" font-size="9.8" fill="#333">10</text>
<rect x="329.15" y="277.60" width="5.28" height="28.40" fill="#63aadb" stroke="#121a22" stroke-width="0.7"/>
<rect x="334.43" y="278.83" width="5.28" height="27.17" fill="#63aadb" stroke="#121a22" stroke-width="0.7"/>
<rect x="339.70" y="266.48" width="5.28" height="39.52" fill="#63aadb" stroke="#121a22" stroke-width="0.7"/>
<rect x="344.98" y="302.91" width="5.28" height="3.09" fill="#63aadb" stroke="#121a22" stroke-width="0.7"/>
<rect x="350.26" y="291.18" width="5.28" height="14.82" fill="#63aadb" stroke="#121a22" stroke-width="0.7"/>
<rect x="355.53" y="292.42" width="5.28" height="13.59" fill="#63aadb" stroke="#121a22" stroke-width="0.7"/>
<rect x="360.81" y="296.74" width="5.28" height="9.26" fill="#63aadb" stroke="#121a22" stroke-width="0.7"/>
<rect x="366.09" y="291.18" width="5.28" height="14.82" fill="#63aadb" stroke="#121a22" stroke-width="0.7"/>
<rect x="371.37" y="280.06" width="5.28" height="25.93" fill="#63aadb" stroke="#121a22" stroke-width="0.7"/>
<rect x="376.64" y="298.59" width="5.28" height="7.41" fill="#63aadb" stroke="#121a22" stroke-width="0.7"/>
<rect x="381.92" y="292.42" width="5.28" height="13.59" fill="#63aadb" stroke="#121a22" stroke-width="0.7"/>
<rect x="387.20" y="283.15" width="5.28" height="22.85" fill="#63aadb" stroke="#121a22" stroke-width="0.7"/>
<rect x="392.47" y="281.92" width="5.28" height="24.08" fill="#63aadb" stroke="#121a22" stroke-width="0.7"/>
<rect x="397.75" y="281.30" width="5.28" height="24.70" fill="#63aadb" stroke="#121a22" stroke-width="0.7"/>
<rect x="403.03" y="299.82" width="5.28" height="6.17" fill="#63aadb" stroke="#121a22" stroke-width="0.7"/>
<rect x="408.31" y="297.97" width="5.28" height="8.03" fill="#63aadb" stroke="#121a22" stroke-width="0.7"/>
<rect x="413.58" y="269.57" width="5.28" height="36.43" fill="#63aadb" stroke="#121a22" stroke-width="0.7"/>
<rect x="418.86" y="271.42" width="5.28" height="34.58" fill="#63aadb" stroke="#121a22" stroke-width="0.7"/>
<rect x="424.14" y="218.31" width="5.28" height="87.68" fill="#63aadb" stroke="#121a22" stroke-width="0.7"/>
<rect x="429.41" y="257.83" width="5.28" height="48.16" fill="#63aadb" stroke="#121a22" stroke-width="0.7"/>
<rect x="434.69" y="296.12" width="5.28" height="9.88" fill="#63aadb" stroke="#121a22" stroke-width="0.7"/>
<rect x="439.97" y="209.67" width="5.28" height="96.33" fill="#63aadb" stroke="#121a22" stroke-width="0.7"/>
<rect x="445.25" y="270.19" width="5.28" height="35.81" fill="#63aadb" stroke="#121a22" stroke-width="0.7"/>
<rect x="450.52" y="246.10" width="5.28" height="59.90" fill="#63aadb" stroke="#121a22" stroke-width="0.7"/>
<rect x="455.80" y="254.13" width="5.28" height="51.87" fill="#63aadb" stroke="#121a22" stroke-width="0.7"/>
<rect x="461.08" y="240.55" width="5.28" height="65.45" fill="#63aadb" stroke="#121a22" stroke-width="0.7"/>
<rect x="466.36" y="252.90" width="5.28" height="53.10" fill="#63aadb" stroke="#121a22" stroke-width="0.7"/>
<rect x="471.63" y="216.46" width="5.28" height="89.54" fill="#63aadb" stroke="#121a22" stroke-width="0.7"/>
<rect x="476.91" y="263.39" width="5.28" height="42.61" fill="#63aadb" stroke="#121a22" stroke-width="0.7"/>
<rect x="482.19" y="258.45" width="5.28" height="47.55" fill="#63aadb" stroke="#121a22" stroke-width="0.7"/>
<rect x="487.46" y="247.95" width="5.28" height="58.05" fill="#63aadb" stroke="#121a22" stroke-width="0.7"/>
<rect x="492.74" y="277.60" width="5.28" height="28.40" fill="#63aadb" stroke="#121a22" stroke-width="0.7"/>
<rect x="498.02" y="257.83" width="5.28" height="48.16" fill="#63aadb" stroke="#121a22" stroke-width="0.7"/>
<rect x="503.30" y="261.54" width="5.28" height="44.46" fill="#63aadb" stroke="#121a22" stroke-width="0.7"/>
<rect x="320.6" y="182.5" width="218.6" height="123.5" fill="none" stroke="#333" stroke-width="0.7"/>
<line x1="347.4" y1="306.0" x2="347.4" y2="303.8" stroke="#333" stroke-width="0.6"/>
<line x1="347.4" y1="182.5" x2="347.4" y2="184.7" stroke="#333" stroke-width="0.6"/>
<line x1="377.0" y1="306.0" x2="377.0" y2="303.8" stroke="#333" stroke-width="0.6"/>
<line x1="377.0" y1="182.5" x2="377.0" y2="184.7" stroke="#333" stroke-width="0.6"/>
<line x1="406.5" y1="306.0" x2="406.5" y2="303.8" stroke="#333" stroke-width="0.6"/>
<line x1="406.5" y1="182.5" x2="406.5" y2="184.7" stroke="#333" stroke-width="0.6"/>
<line x1="436.1" y1="306.0" x2="436.1" y2="303.8" stroke="#333" stroke-width="0.6"/>
<line x1="436.1" y1="182.5" x2="436.1" y2="184.7" stroke="#333" stroke-width="0.6"/>
<line x1="465.7" y1="306.0" x2="465.7" y2="303.8" stroke="#333" stroke-width="0.6"/>
<line x1="465.7" y1="182.5" x2="465.7" y2="184.7" stroke="#333" stroke-width="0.6"/>
<line x1="495.3" y1="306.0" x2="495.3" y2="303.8" stroke="#333" stroke-width="0.6"/>
<line x1="495.3" y1="182.5" x2="495.3" y2="184.7" stroke="#333" stroke-width="0.6"/>
<line x1="524.9" y1="306.0" x2="524.9" y2="303.8" stroke="#333" stroke-width="0.6"/>
<line x1="524.9" y1="182.5" x2="524.9" y2="184.7" stroke="#333" stroke-width="0.6"/>
<line x1="320.6" y1="244.2" x2="322.8" y2="244.2" stroke="#333" stroke-width="0.6"/>
<line x1="539.2" y1="244.2" x2="537.0" y2="244.2" stroke="#333" stroke-width="0.6"/>
<line x1="320.6" y1="182.5" x2="322.8" y2="182.5" stroke="#333" stroke-width="0.6"/>
<line x1="539.2" y1="182.5" x2="537.0" y2="182.5" stroke="#333" stroke-width="0.6"/>
<text x="429.9" y="332.2" text-anchor="middle" font-size="9.85" fill="#333">Incidence angle (Degree)</text>
</g>
<g>
<rect x="33.2" y="354.4" width="218.5" height="123.2" fill="#fff"/>
<line x1="33.2" y1="354.4" x2="33.2" y2="477.6" stroke="#dedede" stroke-width="0.7"/>
<text x="33.2" y="491.5" text-anchor="middle" font-size="9.8" fill="#333">-10</text>
<line x1="75.4" y1="354.4" x2="75.4" y2="477.6" stroke="#dedede" stroke-width="0.7"/>
<text x="75.4" y="491.5" text-anchor="middle" font-size="9.8" fill="#333">-5</text>
<line x1="117.7" y1="354.4" x2="117.7" y2="477.6" stroke="#dedede" stroke-width="0.7"/>
<text x="117.7" y="491.5" text-anchor="middle" font-size="9.8" fill="#333">0</text>
<line x1="159.9" y1="354.4" x2="159.9" y2="477.6" stroke="#dedede" stroke-width="0.7"/>
<text x="159.9" y="491.5" text-anchor="middle" font-size="9.8" fill="#333">5</text>
<line x1="202.1" y1="354.4" x2="202.1" y2="477.6" stroke="#dedede" stroke-width="0.7"/>
<text x="202.1" y="491.5" text-anchor="middle" font-size="9.8" fill="#333">10</text>
<line x1="244.4" y1="354.4" x2="244.4" y2="477.6" stroke="#dedede" stroke-width="0.7"/>
<text x="244.4" y="491.5" text-anchor="middle" font-size="9.8" fill="#333">15</text>
<text x="29.4" y="481.5" text-anchor="end" font-size="9.8" fill="#333">0</text>
<line x1="33.2" y1="421.4" x2="251.7" y2="421.4" stroke="#dedede" stroke-width="0.7"/>
<text x="29.4" y="425.3" text-anchor="end" font-size="9.8" fill="#333">5</text>
<line x1="33.2" y1="365.3" x2="251.7" y2="365.3" stroke="#dedede" stroke-width="0.7"/>
<text x="29.4" y="369.2" text-anchor="end" font-size="9.8" fill="#333">10</text>
<rect x="33.20" y="476.70" width="4.22" height="0.90" fill="#63aadb" stroke="#121a22" stroke-width="0.7"/>
<rect x="37.42" y="476.48" width="4.22" height="1.12" fill="#63aadb" stroke="#121a22" stroke-width="0.7"/>
<rect x="41.65" y="476.48" width="4.22" height="1.12" fill="#63aadb" stroke="#121a22" stroke-width="0.7"/>
<rect x="45.87" y="477.04" width="4.22" height="0.56" fill="#63aadb" stroke="#121a22" stroke-width="0.7"/>
<rect x="50.09" y="477.26" width="4.22" height="0.34" fill="#63aadb" stroke="#121a22" stroke-width="0.7"/>
<rect x="54.32" y="477.26" width="4.22" height="0.34" fill="#63aadb" stroke="#121a22" stroke-width="0.7"/>
<rect x="58.54" y="477.04" width="4.22" height="0.56" fill="#63aadb" stroke="#121a22" stroke-width="0.7"/>
<rect x="62.76" y="476.48" width="4.22" height="1.12" fill="#63aadb" stroke="#121a22" stroke-width="0.7"/>
<rect x="66.98" y="470.30" width="4.22" height="7.30" fill="#63aadb" stroke="#121a22" stroke-width="0.7"/>
<rect x="71.21" y="458.51" width="4.22" height="19.09" fill="#63aadb" stroke="#121a22" stroke-width="0.7"/>
<rect x="75.43" y="476.48" width="4.22" height="1.12" fill="#63aadb" stroke="#121a22" stroke-width="0.7"/>
<rect x="79.65" y="477.04" width="4.22" height="0.56" fill="#63aadb" stroke="#121a22" stroke-width="0.7"/>
<rect x="83.88" y="475.92" width="4.22" height="1.68" fill="#63aadb" stroke="#121a22" stroke-width="0.7"/>
<rect x="88.10" y="475.35" width="4.22" height="2.25" fill="#63aadb" stroke="#121a22" stroke-width="0.7"/>
<rect x="92.32" y="474.23" width="4.22" height="3.37" fill="#63aadb" stroke="#121a22" stroke-width="0.7"/>
<rect x="96.55" y="473.67" width="4.22" height="3.93" fill="#63aadb" stroke="#121a22" stroke-width="0.7"/>
<rect x="100.77" y="472.55" width="4.22" height="5.05" fill="#63aadb" stroke="#121a22" stroke-width="0.7"/>
<rect x="104.99" y="472.55" width="4.22" height="5.05" fill="#63aadb" stroke="#121a22" stroke-width="0.7"/>
<rect x="109.21" y="471.42" width="4.22" height="6.18" fill="#63aadb" stroke="#121a22" stroke-width="0.7"/>
<rect x="113.44" y="473.11" width="4.22" height="4.49" fill="#63aadb" stroke="#121a22" stroke-width="0.7"/>
<rect x="117.66" y="471.42" width="4.22" height="6.18" fill="#63aadb" stroke="#121a22" stroke-width="0.7"/>
<rect x="121.88" y="470.86" width="4.22" height="6.74" fill="#63aadb" stroke="#121a22" stroke-width="0.7"/>
<rect x="126.11" y="470.86" width="4.22" height="6.74" fill="#63aadb" stroke="#121a22" stroke-width="0.7"/>
<rect x="130.33" y="466.93" width="4.22" height="10.67" fill="#63aadb" stroke="#121a22" stroke-width="0.7"/>
<rect x="134.55" y="467.49" width="4.22" height="10.11" fill="#63aadb" stroke="#121a22" stroke-width="0.7"/>
<rect x="138.78" y="463.56" width="4.22" height="14.04" fill="#63aadb" stroke="#121a22" stroke-width="0.7"/>
<rect x="143.00" y="460.75" width="4.22" height="16.85" fill="#63aadb" stroke="#121a22" stroke-width="0.7"/>
<rect x="147.22" y="461.88" width="4.22" height="15.72" fill="#63aadb" stroke="#121a22" stroke-width="0.7"/>
<rect x="151.45" y="463.56" width="4.22" height="14.04" fill="#63aadb" stroke="#121a22" stroke-width="0.7"/>
<rect x="155.67" y="466.37" width="4.22" height="11.23" fill="#63aadb" stroke="#121a22" stroke-width="0.7"/>
<rect x="159.89" y="456.82" width="4.22" height="20.78" fill="#63aadb" stroke="#121a22" stroke-width="0.7"/>
<rect x="164.11" y="448.96" width="4.22" height="28.64" fill="#63aadb" stroke="#121a22" stroke-width="0.7"/>
<rect x="168.34" y="447.84" width="4.22" height="29.76" fill="#63aadb" stroke="#121a22" stroke-width="0.7"/>
<rect x="172.56" y="441.66" width="4.22" height="35.94" fill="#63aadb" stroke="#121a22" stroke-width="0.7"/>
<rect x="176.78" y="456.26" width="4.22" height="21.34" fill="#63aadb" stroke="#121a22" stroke-width="0.7"/>
<rect x="181.01" y="448.40" width="4.22" height="29.20" fill="#63aadb" stroke="#121a22" stroke-width="0.7"/>
<rect x="185.23" y="414.15" width="4.22" height="63.45" fill="#63aadb" stroke="#121a22" stroke-width="0.7"/>
<rect x="189.45" y="429.31" width="4.22" height="48.29" fill="#63aadb" stroke="#121a22" stroke-width="0.7"/>
<rect x="193.68" y="420.89" width="4.22" height="56.71" fill="#63aadb" stroke="#121a22" stroke-width="0.7"/>
<rect x="197.90" y="411.90" width="4.22" height="65.70" fill="#63aadb" stroke="#121a22" stroke-width="0.7"/>
<rect x="202.12" y="412.46" width="4.22" height="65.14" fill="#63aadb" stroke="#121a22" stroke-width="0.7"/>
<rect x="206.34" y="427.06" width="4.22" height="50.54" fill="#63aadb" stroke="#121a22" stroke-width="0.7"/>
<rect x="210.57" y="418.64" width="4.22" height="58.96" fill="#63aadb" stroke="#121a22" stroke-width="0.7"/>
<rect x="214.79" y="419.20" width="4.22" height="58.40" fill="#63aadb" stroke="#121a22" stroke-width="0.7"/>
<rect x="219.01" y="414.71" width="4.22" height="62.89" fill="#63aadb" stroke="#121a22" stroke-width="0.7"/>
<rect x="223.24" y="436.05" width="4.22" height="41.55" fill="#63aadb" stroke="#121a22" stroke-width="0.7"/>
<rect x="227.46" y="431.55" width="4.22" height="46.05" fill="#63aadb" stroke="#121a22" stroke-width="0.7"/>
<rect x="231.68" y="420.32" width="4.22" height="57.28" fill="#63aadb" stroke="#121a22" stroke-width="0.7"/>
<rect x="235.91" y="463.56" width="4.22" height="14.04" fill="#63aadb" stroke="#121a22" stroke-width="0.7"/>
<rect x="33.2" y="354.4" width="218.5" height="123.2" fill="none" stroke="#333" stroke-width="0.7"/>
<line x1="33.2" y1="477.6" x2="33.2" y2="475.40000000000003" stroke="#333" stroke-width="0.6"/>
<line x1="33.2" y1="354.4" x2="33.2" y2="356.59999999999997" stroke="#333" stroke-width="0.6"/>
<line x1="75.4" y1="477.6" x2="75.4" y2="475.40000000000003" stroke="#333" stroke-width="0.6"/>
<line x1="75.4" y1="354.4" x2="75.4" y2="356.59999999999997" stroke="#333" stroke-width="0.6"/>
<line x1="117.7" y1="477.6" x2="117.7" y2="475.40000000000003" stroke="#333" stroke-width="0.6"/>
<line x1="117.7" y1="354.4" x2="117.7" y2="356.59999999999997" stroke="#333" stroke-width="0.6"/>
<line x1="159.9" y1="477.6" x2="159.9" y2="475.40000000000003" stroke="#333" stroke-width="0.6"/>
<line x1="159.9" y1="354.4" x2="159.9" y2="356.59999999999997" stroke="#333" stroke-width="0.6"/>
<line x1="202.1" y1="477.6" x2="202.1" y2="475.40000000000003" stroke="#333" stroke-width="0.6"/>
<line x1="202.1" y1="354.4" x2="202.1" y2="356.59999999999997" stroke="#333" stroke-width="0.6"/>
<line x1="244.4" y1="477.6" x2="244.4" y2="475.40000000000003" stroke="#333" stroke-width="0.6"/>
<line x1="244.4" y1="354.4" x2="244.4" y2="356.59999999999997" stroke="#333" stroke-width="0.6"/>
<line x1="33.2" y1="421.4" x2="35.400000000000006" y2="421.4" stroke="#333" stroke-width="0.6"/>
<line x1="251.7" y1="421.4" x2="249.5" y2="421.4" stroke="#333" stroke-width="0.6"/>
<line x1="33.2" y1="365.3" x2="35.400000000000006" y2="365.3" stroke="#333" stroke-width="0.6"/>
<line x1="251.7" y1="365.3" x2="249.5" y2="365.3" stroke="#333" stroke-width="0.6"/>
<text x="142.4" y="504.3" text-anchor="middle" font-size="9.85" fill="#333">CYGNSS antenna gain (dBi)</text>
<text transform="translate(13.4,416.0) rotate(-90)" text-anchor="middle" font-size="9.9" fill="#333">Frequency (%)</text>
</g>
<g>
<rect x="320.3" y="354.4" width="219.1" height="123.2" fill="#fff"/>
<line x1="320.3" y1="354.4" x2="320.3" y2="477.6" stroke="#dedede" stroke-width="0.7"/>
<text x="320.3" y="491.5" text-anchor="middle" font-size="9.8" fill="#333">-10</text>
<line x1="362.7" y1="354.4" x2="362.7" y2="477.6" stroke="#dedede" stroke-width="0.7"/>
<text x="362.7" y="491.5" text-anchor="middle" font-size="9.8" fill="#333">-5</text>
<line x1="405.1" y1="354.4" x2="405.1" y2="477.6" stroke="#dedede" stroke-width="0.7"/>
<text x="405.1" y="491.5" text-anchor="middle" font-size="9.8" fill="#333">0</text>
<line x1="447.4" y1="354.4" x2="447.4" y2="477.6" stroke="#dedede" stroke-width="0.7"/>
<text x="447.4" y="491.5" text-anchor="middle" font-size="9.8" fill="#333">5</text>
<line x1="489.8" y1="354.4" x2="489.8" y2="477.6" stroke="#dedede" stroke-width="0.7"/>
<text x="489.8" y="491.5" text-anchor="middle" font-size="9.8" fill="#333">10</text>
<line x1="532.2" y1="354.4" x2="532.2" y2="477.6" stroke="#dedede" stroke-width="0.7"/>
<text x="532.2" y="491.5" text-anchor="middle" font-size="9.8" fill="#333">15</text>
<text x="311.6" y="481.5" text-anchor="middle" font-size="9.8" fill="#333">0</text>
<line x1="320.3" y1="421.4" x2="539.4" y2="421.4" stroke="#dedede" stroke-width="0.7"/>
<text x="311.6" y="425.3" text-anchor="middle" font-size="9.8" fill="#333">5</text>
<line x1="320.3" y1="365.3" x2="539.4" y2="365.3" stroke="#dedede" stroke-width="0.7"/>
<text x="316.5" y="369.2" text-anchor="end" font-size="9.8" fill="#333">10</text>
<rect x="405.06" y="470.30" width="4.24" height="7.30" fill="#63aadb" stroke="#121a22" stroke-width="0.7"/>
<rect x="409.30" y="469.74" width="4.24" height="7.86" fill="#63aadb" stroke="#121a22" stroke-width="0.7"/>
<rect x="413.53" y="475.92" width="4.24" height="1.68" fill="#63aadb" stroke="#121a22" stroke-width="0.7"/>
<rect x="417.77" y="465.81" width="4.24" height="11.79" fill="#63aadb" stroke="#121a22" stroke-width="0.7"/>
<rect x="422.01" y="467.49" width="4.24" height="10.11" fill="#63aadb" stroke="#121a22" stroke-width="0.7"/>
<rect x="426.25" y="471.42" width="4.24" height="6.18" fill="#63aadb" stroke="#121a22" stroke-width="0.7"/>
<rect x="430.49" y="464.12" width="4.24" height="13.48" fill="#63aadb" stroke="#121a22" stroke-width="0.7"/>
<rect x="434.72" y="467.49" width="4.24" height="10.11" fill="#63aadb" stroke="#121a22" stroke-width="0.7"/>
<rect x="438.96" y="470.86" width="4.24" height="6.74" fill="#63aadb" stroke="#121a22" stroke-width="0.7"/>
<rect x="443.20" y="464.12" width="4.24" height="13.48" fill="#63aadb" stroke="#121a22" stroke-width="0.7"/>
<rect x="447.44" y="460.19" width="4.24" height="17.41" fill="#63aadb" stroke="#121a22" stroke-width="0.7"/>
<rect x="451.68" y="458.51" width="4.24" height="19.09" fill="#63aadb" stroke="#121a22" stroke-width="0.7"/>
<rect x="455.91" y="464.12" width="4.24" height="13.48" fill="#63aadb" stroke="#121a22" stroke-width="0.7"/>
<rect x="460.15" y="448.40" width="4.24" height="29.20" fill="#63aadb" stroke="#121a22" stroke-width="0.7"/>
<rect x="464.39" y="454.58" width="4.24" height="23.02" fill="#63aadb" stroke="#121a22" stroke-width="0.7"/>
<rect x="468.63" y="445.03" width="4.24" height="32.57" fill="#63aadb" stroke="#121a22" stroke-width="0.7"/>
<rect x="472.86" y="400.67" width="4.24" height="76.93" fill="#63aadb" stroke="#121a22" stroke-width="0.7"/>
<rect x="477.10" y="419.76" width="4.24" height="57.84" fill="#63aadb" stroke="#121a22" stroke-width="0.7"/>
<rect x="481.34" y="395.62" width="4.24" height="81.98" fill="#63aadb" stroke="#121a22" stroke-width="0.7"/>
<rect x="485.58" y="378.21" width="4.24" height="99.39" fill="#63aadb" stroke="#121a22" stroke-width="0.7"/>
<rect x="489.82" y="374.84" width="4.24" height="102.76" fill="#63aadb" stroke="#121a22" stroke-width="0.7"/>
<rect x="494.05" y="399.55" width="4.24" height="78.05" fill="#63aadb" stroke="#121a22" stroke-width="0.7"/>
<rect x="498.29" y="375.96" width="4.24" height="101.64" fill="#63aadb" stroke="#121a22" stroke-width="0.7"/>
<rect x="502.53" y="375.40" width="4.24" height="102.20" fill="#63aadb" stroke="#121a22" stroke-width="0.7"/>
<rect x="506.77" y="361.36" width="4.24" height="116.24" fill="#63aadb" stroke="#121a22" stroke-width="0.7"/>
<rect x="511.01" y="402.35" width="4.24" height="75.25" fill="#63aadb" stroke="#121a22" stroke-width="0.7"/>
<rect x="320.3" y="354.4" width="219.1" height="123.2" fill="none" stroke="#333" stroke-width="0.7"/>
<line x1="320.3" y1="477.6" x2="320.3" y2="475.40000000000003" stroke="#333" stroke-width="0.6"/>
<line x1="320.3" y1="354.4" x2="320.3" y2="356.59999999999997" stroke="#333" stroke-width="0.6"/>
<line x1="362.7" y1="477.6" x2="362.7" y2="475.40000000000003" stroke="#333" stroke-width="0.6"/>
<line x1="362.7" y1="354.4" x2="362.7" y2="356.59999999999997" stroke="#333" stroke-width="0.6"/>
<line x1="405.1" y1="477.6" x2="405.1" y2="475.40000000000003" stroke="#333" stroke-width="0.6"/>
<line x1="405.1" y1="354.4" x2="405.1" y2="356.59999999999997" stroke="#333" stroke-width="0.6"/>
<line x1="447.4" y1="477.6" x2="447.4" y2="475.40000000000003" stroke="#333" stroke-width="0.6"/>
<line x1="447.4" y1="354.4" x2="447.4" y2="356.59999999999997" stroke="#333" stroke-width="0.6"/>
<line x1="489.8" y1="477.6" x2="489.8" y2="475.40000000000003" stroke="#333" stroke-width="0.6"/>
<line x1="489.8" y1="354.4" x2="489.8" y2="356.59999999999997" stroke="#333" stroke-width="0.6"/>
<line x1="532.2" y1="477.6" x2="532.2" y2="475.40000000000003" stroke="#333" stroke-width="0.6"/>
<line x1="532.2" y1="354.4" x2="532.2" y2="356.59999999999997" stroke="#333" stroke-width="0.6"/>
<line x1="320.3" y1="421.4" x2="322.5" y2="421.4" stroke="#333" stroke-width="0.6"/>
<line x1="539.4" y1="421.4" x2="537.1999999999999" y2="421.4" stroke="#333" stroke-width="0.6"/>
<line x1="320.3" y1="365.3" x2="322.5" y2="365.3" stroke="#333" stroke-width="0.6"/>
<line x1="539.4" y1="365.3" x2="537.1999999999999" y2="365.3" stroke="#333" stroke-width="0.6"/>
<text x="429.9" y="504.3" text-anchor="middle" font-size="9.85" fill="#333">CYGNSS antenna gain (dBi)</text>
</g>
<rect x="251.8" y="108.5" width="29.0" height="18.5" fill="#fff" stroke="#222" stroke-width="0.8"/>
<text x="255.60000000000002" y="121.3" font-size="10" fill="#222">A)</text>
<line x1="280.8" y1="127.0" x2="296" y2="127.0" stroke="#111" stroke-width="0.9"/>
<polygon points="300.5,127.0 293,124.4 294.6,127.0 293,129.6" fill="#111"/>
<rect x="251.8" y="286.3" width="29.0" height="18.6" fill="#fff" stroke="#222" stroke-width="0.8"/>
<text x="255.60000000000002" y="299.2" font-size="10" fill="#222">B)</text>
<line x1="280.8" y1="304.9" x2="296" y2="304.9" stroke="#111" stroke-width="0.9"/>
<polygon points="300.5,304.9 293,302.29999999999995 294.6,304.9 293,307.5" fill="#111"/>
<rect x="251.8" y="456.6" width="29.0" height="21.0" fill="#fff" stroke="#222" stroke-width="0.8"/>
<text x="255.60000000000002" y="470.7" font-size="10" fill="#222">C)</text>
<line x1="280.8" y1="477.6" x2="296" y2="477.6" stroke="#111" stroke-width="0.9"/>
<polygon points="300.5,477.6 293,475.0 294.6,477.6 293,480.20000000000005" fill="#111"/>
</svg></body></html>
